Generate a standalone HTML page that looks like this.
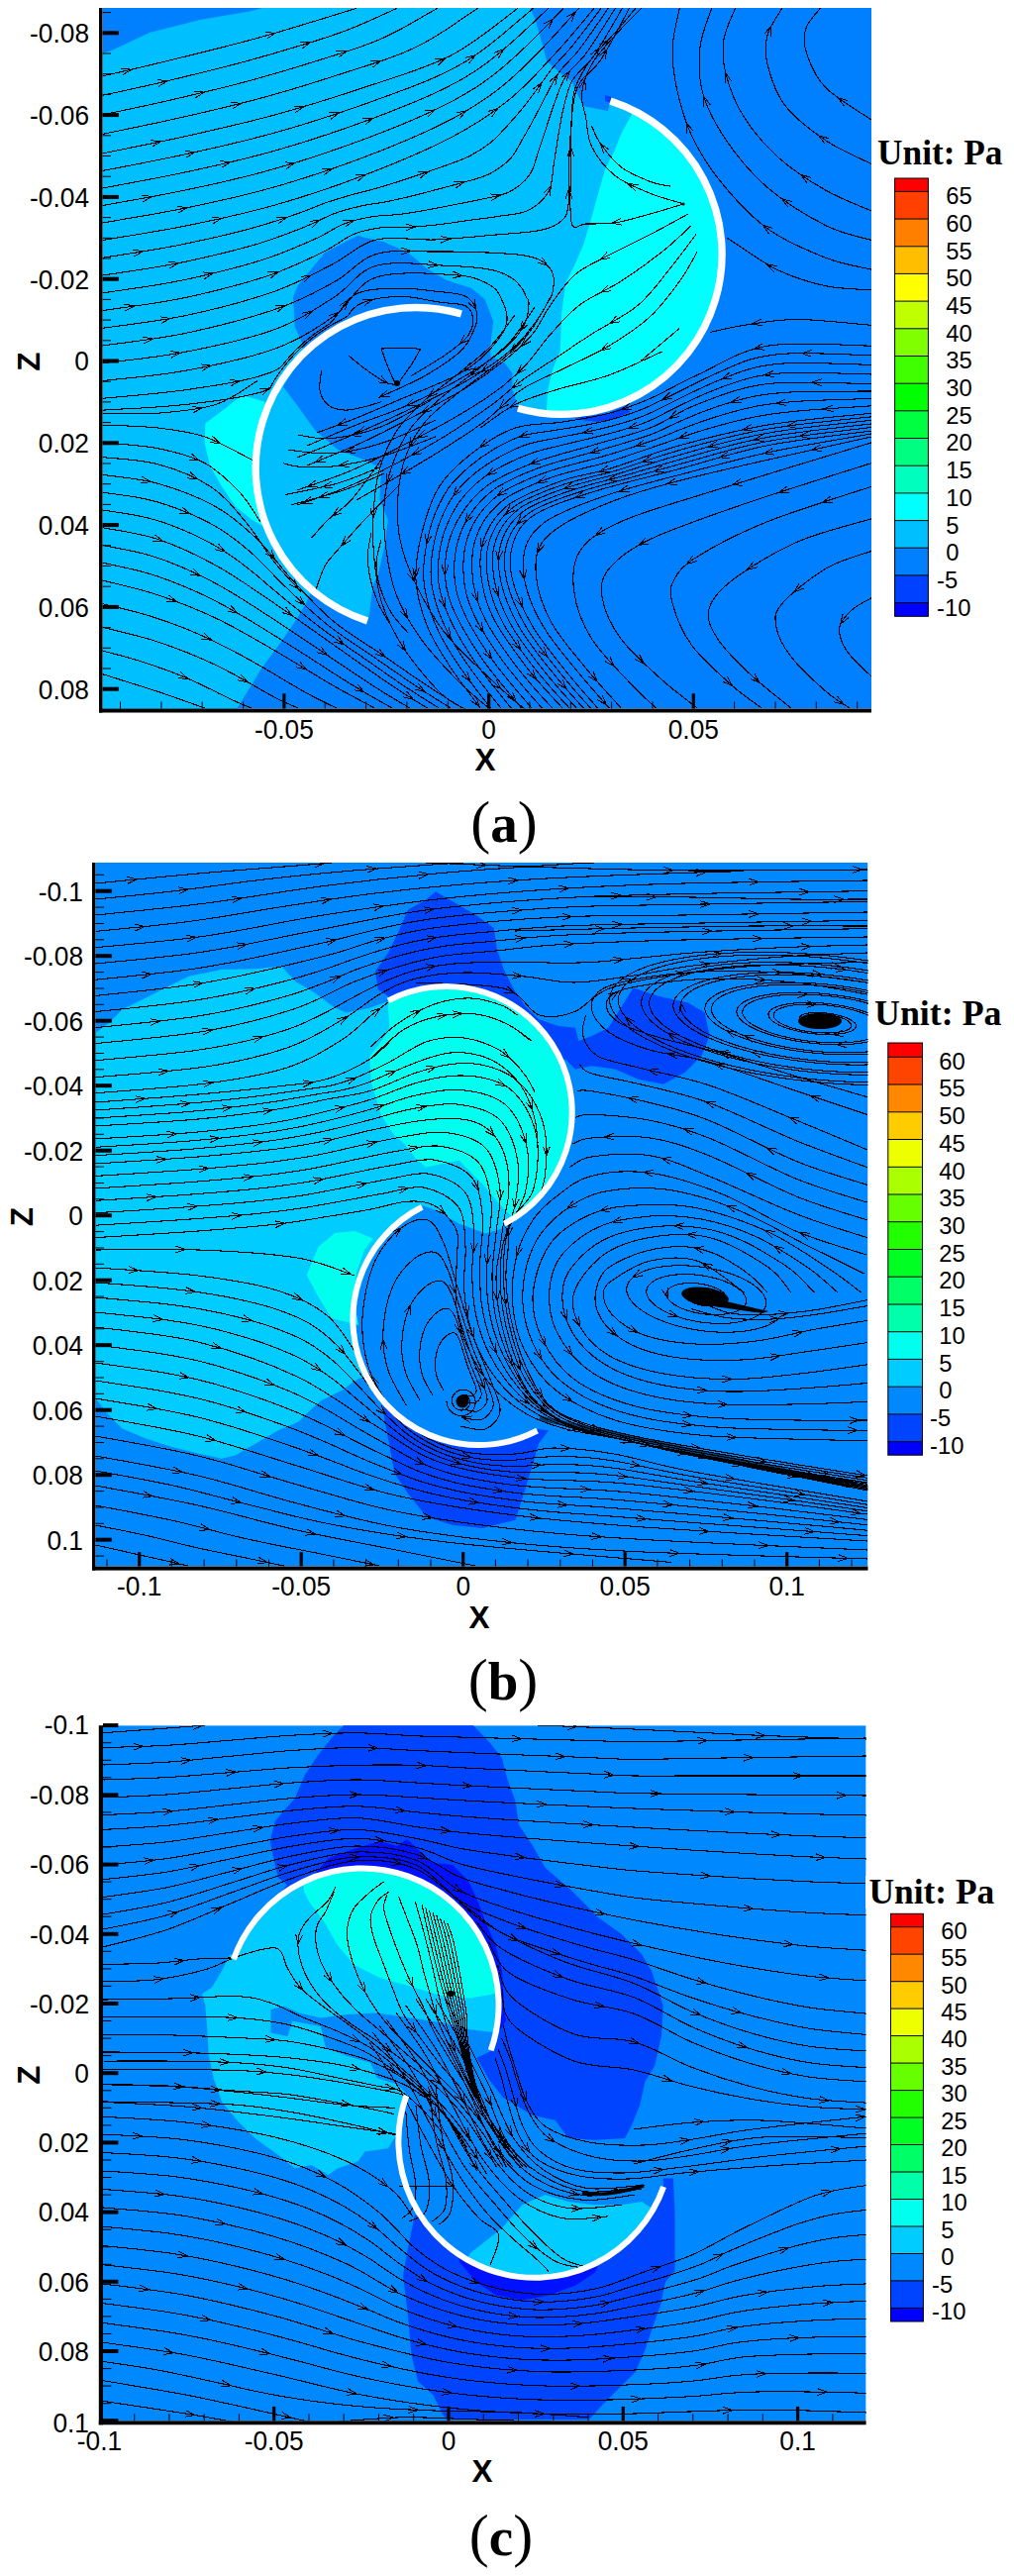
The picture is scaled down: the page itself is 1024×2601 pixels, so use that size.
<!DOCTYPE html>
<html><head><meta charset="utf-8"><title>Pressure contours and streamlines</title>
<style>html,body{margin:0;padding:0;background:#fff}svg{display:block}text{font-family:"Liberation Sans",sans-serif;fill:#000}.s{font-family:"Liberation Serif",serif}.sl{fill:none;stroke:#000;stroke-width:1.1;shape-rendering:crispEdges}.ar{fill:none;stroke:#000;stroke-width:1;shape-rendering:crispEdges}</style></head><body>
<svg width="1024" height="2601" viewBox="0 0 1024 2601">
<rect width="1024" height="2601" fill="#fff"/>
<defs><clipPath id="clip0"><rect x="103.5" y="8" width="776.5" height="707.5"/></clipPath></defs>
<g clip-path="url(#clip0)">
<rect x="103.5" y="8" width="776.5" height="707.5" fill="#0080ff"/>
<path d="M103.5 54 L113.6 50.5 L151.5 32.8 L202 20 L252 11.4 L265 8 L535.6 8 L540.6 20 L547.3 43.6 L552.3 62 L565.8 73.8 L577.5 82.2 L584.2 97.2 L589.2 107.3 L614 112 L616.4 102.1 L632.2 107.8 L647.4 115.2 L661.7 124.1 L675 134.5 L687.2 146.2 L698 159.1 L707.5 173 L715.5 187.9 L721.9 203.5 L726.6 219.6 L729.7 236.2 L731 253 L730.5 269.9 L728.3 286.6 L724.3 303 L718.7 318.9 L711.5 334.1 L702.7 348.5 L692.4 361.9 L680.9 374.2 L668.1 385.2 L654.2 394.8 L639.4 402.9 L623.9 409.4 L607.7 414.3 L591.2 417.5 L574.4 418.9 L557.5 418.6 L540.8 416.5 L524.3 412.7 L523 410 L517.4 393.3 L517.4 376.7 L509.1 365.7 L495.3 360.2 L495.3 349.1 L498.1 324.3 L489.8 302.2 L476 291.1 L451.1 282.9 L431.8 271.8 L412.5 255.2 L387.6 244.2 L361 238 L328 255 L301 288 L296 300 L297.8 330 L304.6 345.3 L308 355 L286 390.6 L301.2 410.7 L318 434.2 L341.4 454.3 L368.3 464.4 L385 472.8 L383.4 504.6 L391.8 524.7 L388.4 551.6 L381.7 580 L376.7 590.9 L373.3 617.7 L371.7 626 L371.1 626.9 L359.4 622.8 L348 617.9 L337 612 L326.5 605.3 L316.6 597.9 L314.6 597.6 L308 611 L297.9 627.8 L282.8 649.6 L264.3 674.7 L239 716 L103.5 716Z" fill="#00bfff"/>
<path d="M637.9 115.7 L627.8 134.1 L621 151 L611 171 L604.3 194.5 L597.5 219.3 L589.2 247 L580.9 266.3 L571.3 285.6 L567.1 316 L565.7 354.7 L558.8 371.2 L553.3 393.3 L552 413 L552.1 418.1 L567.1 419 L582.2 418.5 L597.1 416.5 L611.8 413.2 L626.2 408.6 L640 402.6 L653.2 395.4 L665.7 386.9 L677.4 377.4 L688.1 366.8 L697.8 355.2 L706.4 342.8 L713.8 329.7 L719.9 315.9 L724.7 301.7 L728.2 287 L730.3 272.1 L731 257 L730.3 241.9 L728.2 227 L724.7 212.3 L719.9 198.1 L713.8 184.3 L706.4 171.2 L697.8 158.8 L688.1 147.2 L677.4 136.6 L665.7 127.1 L653.2 118.6 L640 111.4Z" fill="#00ffff"/>
<path d="M267.7 405.7 L244.2 399 L227.4 412.4 L207.3 427.5 L206.6 447.6 L212.3 471 L224 491.2 L237.5 511.3 L254.3 524.7 L266 531.4 L259.5 500 L257 470 L258.5 440Z" fill="#00ffff"/>
<path d="M577 421 L590 424.5 L605 426 L622 423 L636 416 L634 409 L615 417 L595 420Z" fill="#0040ff"/>
<path d="M611 96 L618 98 L618 104 L611 102Z" fill="#0040ff"/>
<path class="sl" d="M103 76.9C112.3 74.8 133 70.3 159.2 63.9C185.3 57.5 226.2 47.7 259.8 38.5C293.3 29.2 343.6 13.3 360.4 8.3M103 96.4C105.2 96 111.8 94.5 116.2 93.6C120.6 92.6 125.1 91.7 129.5 90.7C133.9 89.7 138.3 88.7 142.8 87.8C147.2 86.8 151.6 85.8 156 84.8C160.4 83.7 164.8 82.7 169.2 81.7C173.6 80.6 178 79.6 182.4 78.5C186.8 77.5 191.2 76.4 195.6 75.3C200 74.3 204.4 73.2 208.8 72.1C213.2 71 217.6 69.9 222 68.8C226.4 67.7 230.7 66.5 235.1 65.4C239.5 64.2 243.9 63.1 248.2 61.9C252.6 60.7 257 59.5 261.3 58.3C265.7 57 270 55.8 274.4 54.6C278.7 53.3 283.1 52 287.4 50.7C291.7 49.4 296.1 48.2 300.4 46.8C304.7 45.5 309.1 44.2 313.4 42.9C317.7 41.6 322 40.2 326.4 38.8C330.7 37.4 335 36 339.2 34.5C343.5 33 347.7 31.5 351.9 29.9C356.1 28.2 360.3 26.5 364.4 24.7C368.5 23 372.6 21.2 376.7 19.3C380.7 17.5 384.8 15.6 388.8 13.8C392.9 12 399 9.2 401 8.3M103 116C105.5 115.4 113.1 113.8 118.2 112.8C123.3 111.7 128.4 110.6 133.4 109.6C138.5 108.5 143.6 107.4 148.7 106.3C153.7 105.2 158.8 104.1 163.9 102.9C168.9 101.8 174 100.6 179 99.5C184.1 98.3 189.1 97.1 194.2 95.9C199.2 94.7 204.3 93.5 209.3 92.3C214.4 91.1 219.4 89.9 224.5 88.6C229.5 87.4 234.5 86.1 239.6 84.8C244.6 83.5 249.6 82.1 254.6 80.8C259.6 79.4 264.6 78 269.6 76.6C274.6 75.2 279.6 73.7 284.5 72.3C289.5 70.8 294.5 69.3 299.5 67.8C304.4 66.3 309.4 64.7 314.3 63.2C319.3 61.7 324.2 60.1 329.2 58.6C334.1 57 339.1 55.5 344.1 53.9C349 52.4 353.9 50.8 358.8 49.1C363.7 47.4 368.6 45.7 373.5 43.8C378.3 41.9 383.1 40 387.8 37.8C392.5 35.7 397.1 33.3 401.6 31C406.2 28.6 410.7 26.1 415.1 23.6C419.6 21.1 424 18.5 428.4 15.9C432.9 13.4 439.5 9.6 441.7 8.3M103 135.5C105.8 134.9 114.4 133.1 120.2 132C125.9 130.8 131.6 129.6 137.4 128.4C143.1 127.2 148.8 126 154.5 124.8C160.3 123.6 166 122.4 171.7 121.1C177.4 119.9 183.1 118.6 188.8 117.3C194.6 116 200.3 114.7 206 113.3C211.7 112 217.4 110.7 223.1 109.3C228.8 108 234.4 106.6 240.1 105.2C245.8 103.7 251.5 102.3 257.1 100.8C262.8 99.3 268.4 97.7 274.1 96.1C279.7 94.5 285.3 92.9 290.9 91.3C296.6 89.6 302.2 88 307.8 86.3C313.4 84.5 319 82.8 324.5 81C330.1 79.3 335.7 77.4 341.2 75.7C346.8 73.9 352.4 72.1 358 70.3C363.6 68.5 369.1 66.8 374.7 65C380.3 63.1 385.8 61.3 391.3 59.3C396.8 57.3 402.3 55.3 407.7 53.1C413.1 50.8 418.5 48.4 423.7 45.8C428.9 43.2 433.9 40.2 438.9 37.2C443.9 34.2 448.8 31 453.6 27.9C458.5 24.7 463.2 21.3 468 18.1C472.8 14.8 480 9.9 482.4 8.3M103 155C117.3 152.1 159.7 143.8 188.8 137.3C217.9 130.8 247.9 124.1 277.5 116C307.1 107.9 336.7 98.7 366.3 88.8C395.9 78.8 428.9 69.6 455 56.2C481.2 42.8 511.7 16.3 523.1 8.3M103 172.5C106.3 171.9 116.4 170 123.1 168.7C129.9 167.4 136.6 166.1 143.3 164.8C150.1 163.4 156.8 162.1 163.5 160.7C170.2 159.4 176.9 158 183.6 156.5C190.3 155.1 197 153.6 203.7 152.1C210.4 150.6 217.1 149.1 223.7 147.6C230.4 146 237.1 144.4 243.7 142.8C250.4 141.2 257 139.5 263.7 137.7C270.3 136 276.9 134.2 283.5 132.3C290.1 130.4 296.7 128.5 303.2 126.5C309.8 124.5 316.3 122.5 322.8 120.4C329.4 118.3 335.9 116.2 342.4 114C348.9 111.8 355.3 109.6 361.8 107.4C368.3 105.1 374.7 102.8 381.2 100.4C387.6 98.1 394 95.8 400.4 93.4C406.9 91.1 413.3 88.7 419.6 86.2C426 83.7 432.3 81.1 438.5 78.4C444.7 75.6 450.9 72.7 456.9 69.6C462.9 66.4 468.9 63.1 474.6 59.4C480.3 55.7 485.8 51.7 491.3 47.6C496.7 43.5 502 39.2 507.3 34.9C512.6 30.5 517.7 26 522.9 21.6C528.1 17.2 535.9 10.5 538.5 8.3M103 190.1C106.5 189.4 117.1 187.5 124.2 186.2C131.2 184.8 138.3 183.6 145.4 182.2C152.4 180.9 159.5 179.6 166.5 178.1C173.6 176.7 180.6 175.3 187.7 173.8C194.7 172.3 201.7 170.8 208.7 169.2C215.8 167.6 222.8 166.1 229.8 164.4C236.8 162.7 243.7 161.1 250.7 159.3C257.7 157.5 264.6 155.7 271.6 153.8C278.5 151.9 285.4 149.9 292.3 147.8C299.2 145.8 306 143.7 312.9 141.5C319.7 139.3 326.6 137.1 333.4 134.8C340.2 132.5 347 130.2 353.7 127.8C360.5 125.4 367.3 122.9 374 120.4C380.7 117.9 387.5 115.4 394.1 112.8C400.8 110.2 407.5 107.5 414.1 104.8C420.8 102.1 427.4 99.3 433.9 96.4C440.4 93.4 446.8 90.4 453.2 87.1C459.5 83.9 465.8 80.5 471.9 76.8C477.9 73.1 483.9 69.2 489.6 65C495.4 60.8 500.9 56.2 506.4 51.7C511.8 47.1 517.2 42.4 522.5 37.6C527.9 32.8 533 27.9 538.3 23C543.5 18.1 551.2 10.7 553.8 8.3M103 207.6C106.7 206.9 117.8 205 125.2 203.6C132.6 202.3 140 201 147.4 199.7C154.8 198.3 162.2 197 169.6 195.5C177 194.1 184.3 192.6 191.7 191C199.1 189.5 206.4 187.9 213.8 186.3C221.1 184.6 228.5 183 235.8 181.2C243.1 179.5 250.4 177.7 257.7 175.8C265 173.9 272.2 171.9 279.4 169.8C286.7 167.7 293.9 165.6 301.1 163.4C308.3 161.2 315.4 158.9 322.6 156.5C329.7 154.1 336.8 151.7 343.9 149.2C351 146.7 358.1 144.1 365.1 141.5C372.2 138.9 379.2 136.2 386.2 133.5C393.2 130.8 400.2 128 407.1 125.1C414.1 122.2 421 119.3 427.8 116.2C434.7 113.1 441.5 110 448.1 106.6C454.8 103.2 461.4 99.7 467.9 95.9C474.3 92.2 480.7 88.3 486.8 84.1C493 79.8 498.9 75.3 504.7 70.6C510.4 65.9 515.9 60.8 521.5 55.8C527 50.7 532.4 45.6 537.8 40.3C543.1 35.1 548.3 29.7 553.6 24.4C558.8 19 566.6 11 569.2 8.3M103 225.1C106.8 224.4 118.5 222.5 126.2 221.1C134 219.8 141.7 218.5 149.4 217.2C157.2 215.8 164.9 214.4 172.6 212.9C180.4 211.5 188.1 209.9 195.8 208.3C203.5 206.7 211.1 205.1 218.8 203.3C226.5 201.6 234.2 199.9 241.8 198.1C249.4 196.2 257.1 194.3 264.6 192.3C272.2 190.2 279.8 188.1 287.3 185.9C294.9 183.6 302.4 181.3 309.9 178.9C317.4 176.5 324.8 174.1 332.2 171.5C339.7 169 347.1 166.3 354.5 163.6C361.8 160.9 369.2 158.1 376.5 155.3C383.8 152.4 391.1 149.6 398.4 146.6C405.7 143.6 412.9 140.6 420.1 137.4C427.3 134.2 434.5 131 441.5 127.6C448.6 124.1 455.6 120.6 462.4 116.8C469.2 113 476 109 482.5 104.7C489.1 100.5 495.6 96 501.8 91.3C508 86.5 513.9 81.5 519.7 76.2C525.5 71 531 65.4 536.6 59.9C542.1 54.4 547.6 48.8 553 43.1C558.4 37.4 563.7 31.6 568.9 25.8C574.2 20 582 11.2 584.6 8.3M103 242.6C117.3 240.1 159.7 233.7 188.8 227.8C217.9 221.9 247.9 215.5 277.5 207.1C307.1 198.7 336.7 188.9 366.3 177.5C395.9 166.2 430.4 151.9 455 139.1C479.7 126.2 496.4 114.9 514.2 100.6C532 86.3 547.2 68.6 561.5 53.3C575.8 37.9 593.6 15.8 600 8.3M103 260.4C107.2 259.7 120 257.7 128.6 256.4C137.1 255 145.6 253.7 154.1 252.3C162.7 250.8 171.2 249.3 179.6 247.7C188.1 246 196.6 244.2 205 242.3C213.4 240.5 221.9 238.6 230.2 236.6C238.6 234.5 247 232.5 255.3 230.1C263.6 227.8 271.9 225.3 280.1 222.6C288.2 220 296.4 217.2 304.5 214.3C312.5 211.3 320.3 207.8 328.5 204.9C336.6 202.1 344.9 199.6 353.1 197.3C361.3 194.9 369.6 193.1 377.8 190.8C386 188.5 394.2 186 402.3 183.4C410.5 180.8 418.6 178 426.7 175.3C434.8 172.5 442.9 169.8 450.9 166.8C459 163.8 467.3 161.2 474.8 157.3C482.3 153.4 489.7 148.7 496 143.5C502.4 138.4 507.3 132.4 512.7 126.5C518.1 120.6 523.4 114.6 528.5 108.3C533.6 102 538.4 95.4 543.3 88.7C548.3 82.1 552.8 75 558.2 68.4C563.6 61.8 570 55.8 575.6 49.2C581.2 42.6 586.3 35.7 591.6 28.9C596.8 22.1 604.5 11.7 607.1 8.3M103 278.1C107.4 277.4 120.9 275.5 129.9 274.1C138.9 272.7 147.9 271.4 156.8 269.9C165.8 268.4 174.7 266.7 183.6 265C192.5 263.2 201.4 261.2 210.2 259.1C219 257.1 227.9 255 236.6 252.7C245.4 250.4 254.2 248.1 262.8 245.4C271.5 242.7 280 239.7 288.5 236.5C297 233.4 305.4 230.1 313.7 226.6C322 223.1 329.8 218.5 338.2 215.4C346.7 212.3 355.6 210 364.3 208.1C373 206.1 381.8 205.3 390.6 203.6C399.3 201.9 408.1 199.8 416.8 197.7C425.5 195.6 434.2 193.2 442.9 190.9C451.5 188.6 460.2 186.5 468.8 184C477.4 181.4 486.6 179.6 494.4 175.6C502.1 171.6 509.8 166.1 515.4 160.1C521 154.1 524.1 146.5 528.3 139.5C532.4 132.5 536.3 125.4 540.2 118.1C544.2 110.7 547.8 103.1 551.9 95.6C556 88 559.6 79.9 564.8 72.8C569.9 65.6 577.2 59.6 582.9 52.6C588.6 45.6 593.7 38 598.9 30.6C604.1 23.3 611.7 12 614.2 8.3M103 295.9C107.7 295.2 121.8 293.2 131.2 291.8C140.6 290.4 150.1 289.1 159.5 287.5C168.9 285.9 178.2 284.2 187.5 282.3C196.9 280.3 206.1 278.2 215.4 275.9C224.6 273.7 233.9 271.4 243 268.8C252.2 266.3 261.4 263.7 270.4 260.6C279.4 257.6 288.2 254 296.9 250.4C305.7 246.8 314.4 243.1 322.9 239C331.5 234.9 339.3 229.2 348 225.8C356.8 222.5 366.2 220.4 375.5 218.8C384.7 217.3 394.1 217.5 403.4 216.4C412.7 215.3 422 213.7 431.2 212C440.5 210.4 449.8 208.4 459 206.6C468.2 204.8 477.5 203.2 486.6 201.1C495.8 199 505.9 198 514 193.9C522 189.9 529.8 183.5 534.8 176.6C539.7 169.7 540.9 160.7 543.8 152.5C546.6 144.4 549.2 136.2 552 127.8C554.8 119.5 557.2 110.9 560.5 102.5C563.7 94 566.3 84.9 571.3 77.2C576.3 69.4 584.5 63.4 590.3 55.9C596.1 48.5 601 40.3 606.2 32.4C611.4 24.4 618.8 12.3 621.3 8.3M103 313.6C107.9 312.9 122.7 310.9 132.6 309.5C142.4 308.1 152.3 306.8 162.1 305.1C171.9 303.5 181.8 301.6 191.5 299.6C201.2 297.5 210.9 295.2 220.6 292.7C230.2 290.3 239.9 287.8 249.4 285C259 282.2 268.6 279.3 277.9 275.9C287.2 272.5 296.3 268.4 305.4 264.3C314.4 260.2 323.4 256 332.2 251.3C340.9 246.6 348.7 239.9 357.8 236.2C366.9 232.6 376.9 230.8 386.6 229.6C396.4 228.4 406.3 229.7 416.2 229.2C426 228.7 435.9 227.5 445.7 226.4C455.5 225.2 465.3 223.6 475.1 222.2C484.9 220.9 494.8 219.9 504.5 218.2C514.2 216.6 525.3 216.5 533.6 212.3C541.8 208.1 549.8 201 554.1 193.2C558.4 185.4 557.7 174.8 559.3 165.5C560.9 156.3 562.1 147 563.7 137.6C565.4 128.2 566.7 118.7 569 109.3C571.4 100 573.1 89.9 577.8 81.6C582.6 73.2 591.7 67.2 597.6 59.3C603.6 51.4 608.4 42.6 613.5 34.1C618.7 25.6 625.9 12.6 628.4 8.3M103 331.4C117.3 329.2 159.7 324.6 188.8 318.3C217.9 312.1 252.9 302.8 277.5 294.1C302.2 285.4 319.6 275 336.7 266.3C353.7 257.6 362.8 246.1 379.9 242C396.9 238 419.4 242.8 439.1 242C458.7 241.2 479.9 238.9 497.6 237.3C515.4 235.7 534 234.9 545.6 232.5C557.1 230.2 562.1 227.4 566.9 223.1C571.6 218.7 572.6 217.9 574 206.5C575.3 195.1 574.4 171 575.1 154.4C575.9 137.9 576.9 118.9 578.7 107.1C580.5 95.3 581.1 91.3 585.8 83.4C590.5 75.5 598.8 72.3 607.1 59.8C615.4 47.2 630.8 16.9 635.5 8.3M103 349.1C103.5 349 105.1 348.8 106.4 348.6C107.7 348.4 109.2 348.2 110.7 348C112.2 347.8 113.9 347.6 115.6 347.4C117.4 347.1 119.2 346.9 121.1 346.7C123.1 346.4 125.1 346.1 127.1 345.9C129.2 345.6 131.4 345.3 133.6 345C135.8 344.7 138 344.4 140.3 344.1C142.6 343.8 144.9 343.4 147.3 343.1C149.6 342.8 152 342.4 154.4 342.1C156.8 341.7 159.2 341.3 161.5 341C163.9 340.6 166.3 340.2 168.6 339.8C171 339.4 173.3 339 175.6 338.6C177.9 338.2 180.1 337.8 182.3 337.4C184.5 337 186.7 336.5 188.8 336.1C190.8 335.7 192.7 335.3 194.7 334.8C196.6 334.4 198.6 334 200.7 333.5C202.7 333 204.7 332.6 206.8 332.1C208.8 331.6 210.9 331.1 213 330.6C215.1 330.1 217.1 329.6 219.2 329.1C221.3 328.6 223.4 328.1 225.5 327.6C227.5 327 229.6 326.5 231.7 326C233.8 325.4 235.8 324.9 237.9 324.3C239.9 323.8 242 323.2 244 322.7C246 322.1 248 321.5 250 321C252 320.4 254 319.8 255.9 319.3C257.8 318.7 259.7 318.1 261.6 317.6C263.5 317 265.3 316.4 267.1 315.8C268.9 315.3 270.7 314.7 272.5 314.1C274.2 313.6 275.5 313.1 277.5 312.4C279.6 311.7 282.4 310.7 284.7 309.9C287 309 289.3 308.1 291.5 307.2C293.7 306.4 295.8 305.5 297.9 304.6C300 303.7 302.1 302.8 304.1 301.9C306.1 301 308 300 309.9 299.1C311.9 298.2 313.7 297.3 315.6 296.4C317.4 295.4 319.2 294.5 321 293.6C322.8 292.7 324.6 291.7 326.3 290.8C328.1 289.9 329.8 288.9 331.5 288C333.3 287.1 334.8 286.3 336.7 285.2C338.6 284.1 340.8 282.8 342.8 281.5C344.7 280.2 346.5 278.9 348.3 277.5C350 276.2 351.7 274.8 353.4 273.4C355.1 272 356.7 270.6 358.4 269.3C360 268 361.6 266.7 363.3 265.4C365 264.2 366.7 263 368.4 261.9C370.2 260.8 372 259.7 373.9 258.8C375.9 257.9 378 257.1 380 256.5C382 255.9 383.9 255.4 385.9 255.1C387.9 254.7 389.9 254.4 392.1 254.1C394.2 253.9 396.3 253.7 398.5 253.6C400.7 253.5 402.9 253.4 405.1 253.4C407.4 253.4 409.6 253.4 411.9 253.4C414.2 253.4 416.5 253.5 418.7 253.6C421 253.6 423.3 253.7 425.6 253.8C427.8 253.9 430.1 253.9 432.3 254C434.6 254 436.8 254 439 254C441.2 254 443.4 254 445.7 254C448 254 450.3 254 452.6 254C454.9 254 457.3 254 459.6 254.1C462 254.1 464.3 254.1 466.6 254.2C469 254.2 471.3 254.3 473.6 254.4C475.8 254.4 478.1 254.5 480.3 254.6C482.5 254.6 484.6 254.7 486.7 254.8C488.8 254.9 490.8 255 492.8 255C494.7 255.1 495.9 255.2 498.3 255.3C500.7 255.4 504.4 255.6 507.2 255.8C510 256 512.6 256.2 515.1 256.4C517.6 256.6 519.9 256.8 522.1 257C524.3 257.3 526.3 257.5 528.3 257.8C530.2 258.1 531.7 258.3 533.8 258.8C535.9 259.3 539 260 541 260.8C543.1 261.5 544.6 262.2 546.2 263.1C547.7 264 548.8 264.6 550.4 266C552 267.4 554.2 269.3 555.6 271.3C557 273.2 558.1 275.3 558.7 277.8C559.3 280.3 559.3 283.6 559.2 286.5C559 289.4 558.4 292.8 558 295C557.6 297.2 557.3 298 556.5 299.7C555.7 301.4 554.3 303.4 553.3 305C552.3 306.6 551.7 307.9 550.8 309.5C549.8 311.2 548.8 313 547.7 314.9C546.5 316.8 545.3 318.8 543.9 320.8C542.6 322.8 540.8 325.3 539.5 327C538.2 328.7 537.3 329.8 536.2 331.2C535.1 332.7 533.9 334.2 532.7 335.7C531.5 337.2 530.3 338.7 528.9 340.3C527.6 341.8 526.2 343.4 524.7 345C523.2 346.6 521.7 348.2 520 349.8C518.3 351.4 516.3 353.2 514.6 354.6C512.9 356 511.7 357 510.1 358.3C508.5 359.5 506.9 360.8 505.2 362.1C503.5 363.3 501.8 364.6 500 365.9C498.2 367.2 496.3 368.5 494.5 369.8C492.6 371.1 490.7 372.4 488.7 373.7C486.8 375 484.8 376.3 482.8 377.5C480.8 378.8 478.7 380.1 476.7 381.3C474.6 382.6 472.4 383.9 470.5 385C468.6 386.1 467.1 386.9 465.4 387.9C463.7 388.8 461.9 389.8 460.1 390.7C458.3 391.7 456.5 392.6 454.7 393.6C452.8 394.5 451 395.4 449.1 396.4C447.2 397.3 445.3 398.2 443.4 399.1C441.5 400.1 439.6 401 437.7 401.9C435.8 402.8 433.9 403.7 432 404.6C430.1 405.5 428.1 406.4 426.3 407.3C424.4 408.2 422.5 409.1 420.6 410C418.7 410.8 416.8 411.7 415 412.6C413.2 413.5 411.3 414.3 409.5 415.2C407.7 416.1 405.9 416.9 404 417.8C402.2 418.6 400.4 419.4 398.6 420.3C396.8 421.1 395 421.9 393.2 422.8C391.4 423.6 389.6 424.4 387.8 425.2C386 426.1 384.2 426.9 382.3 427.7C380.5 428.5 378.7 429.3 376.9 430.1C375 431 373.2 431.8 371.3 432.6C369.5 433.4 367.6 434.2 365.7 435C363.8 435.9 362 436.7 360 437.5C358 438.3 356 439.2 353.9 440.1C351.8 441 349.6 441.9 347.4 442.8C345.1 443.7 342.8 444.7 340.5 445.7C338.2 446.6 335.8 447.6 333.5 448.5C331.2 449.4 328.8 450.4 326.6 451.3C324.3 452.2 322.1 453.1 319.9 454C317.8 454.8 315.7 455.7 313.7 456.5C311.8 457.2 309.9 458 308.2 458.7C306.5 459.4 305 460 303.6 460.5C302.2 461.1 300.6 461.8 300 462M103 366.9C103.5 366.8 105.1 366.6 106.4 366.4C107.7 366.2 109.2 366.1 110.7 365.9C112.2 365.7 113.9 365.5 115.6 365.3C117.4 365.1 119.2 364.9 121.1 364.7C123.1 364.4 125.1 364.2 127.1 363.9C129.2 363.7 131.4 363.4 133.6 363.2C135.8 362.9 138 362.6 140.3 362.4C142.6 362.1 144.9 361.8 147.3 361.5C149.6 361.2 152 360.8 154.4 360.5C156.8 360.2 159.2 359.9 161.5 359.5C163.9 359.2 166.3 358.8 168.6 358.5C171 358.1 173.3 357.8 175.6 357.4C177.9 357 180.1 356.6 182.3 356.2C184.5 355.8 186.7 355.4 188.8 355C190.8 354.6 192.7 354.3 194.7 353.9C196.6 353.5 198.6 353.1 200.7 352.6C202.7 352.2 204.7 351.8 206.8 351.4C208.8 350.9 210.9 350.5 213 350C215.1 349.6 217.1 349.1 219.2 348.7C221.3 348.2 223.4 347.7 225.5 347.3C227.5 346.8 229.6 346.3 231.7 345.8C233.8 345.3 235.8 344.8 237.9 344.3C239.9 343.8 242 343.3 244 342.7C246 342.2 248 341.7 250 341.1C252 340.6 254 340 255.9 339.5C257.8 338.9 259.7 338.4 261.6 337.8C263.5 337.3 265.3 336.7 267.1 336.1C268.9 335.5 270.7 334.9 272.5 334.3C274.2 333.7 275.6 333.3 277.5 332.5C279.5 331.8 281.9 330.9 284.1 330C286.2 329.1 288.3 328.2 290.3 327.3C292.3 326.4 294.3 325.5 296.2 324.5C298.1 323.6 300 322.6 301.9 321.6C303.7 320.7 305.5 319.7 307.3 318.7C309.1 317.7 310.8 316.7 312.5 315.7C314.2 314.7 315.9 313.6 317.6 312.6C319.2 311.6 320.9 310.6 322.5 309.6C324.1 308.6 325.7 307.6 327.3 306.5C328.9 305.5 330.4 304.5 332 303.5C333.6 302.6 335 301.7 336.7 300.6C338.4 299.5 340.3 298.1 342 296.8C343.7 295.5 345.3 294.2 346.8 292.8C348.4 291.5 349.8 290 351.3 288.7C352.7 287.3 354.1 285.9 355.5 284.5C356.9 283.1 358.3 281.8 359.7 280.5C361.2 279.2 362.6 277.9 364.1 276.7C365.6 275.5 367.2 274.3 368.8 273.3C370.5 272.3 372.2 271.3 374.1 270.5C375.9 269.6 378.1 268.9 380 268.3C381.9 267.7 383.6 267.4 385.5 267.1C387.4 266.7 389.5 266.5 391.5 266.3C393.6 266.1 395.8 265.9 398 265.8C400.2 265.8 402.5 265.7 404.8 265.7C407.1 265.7 409.4 265.8 411.7 265.9C414.1 265.9 416.4 266 418.8 266.2C421.1 266.3 423.5 266.4 425.8 266.6C428.1 266.7 430.4 266.9 432.6 267.1C434.8 267.3 437 267.4 439.2 267.6C441.3 267.7 443.4 267.9 445.3 268C447.3 268.1 448.7 268.2 451 268.3C453.3 268.4 456.6 268.5 459.2 268.7C461.9 268.8 464.4 268.9 466.9 269.1C469.4 269.2 471.8 269.4 474.2 269.6C476.5 269.8 478.8 270 480.9 270.2C483.1 270.5 485.2 270.7 487.2 271C489.2 271.3 491.1 271.6 493 271.9C494.8 272.2 496.1 272.4 498.3 273C500.5 273.6 503.8 274.5 506.2 275.4C508.6 276.3 510.6 277.3 512.5 278.3C514.4 279.3 516 280.4 517.6 281.5C519.2 282.6 520.3 283 522 284.9C523.7 286.8 526.5 290.2 528.1 292.7C529.7 295.2 530.6 298.2 531.5 300C532.4 301.8 533.3 302.1 533.7 303.4C534.1 304.7 534.1 306 534 307.7C533.9 309.4 533.7 311.6 533.4 313.9C533 316.2 532.7 319 531.9 321.7C531 324.3 529.6 327.7 528.5 329.8C527.4 331.9 526.6 332.9 525.5 334.5C524.3 336.1 523.1 337.8 521.8 339.4C520.4 341 519 342.7 517.4 344.3C515.8 346 514.2 347.7 512.3 349.4C510.5 351.1 508.1 353.2 506.4 354.6C504.7 356 503.7 356.8 502.2 357.9C500.8 359 499.3 360.2 497.7 361.3C496.2 362.5 494.6 363.6 492.9 364.8C491.2 365.9 489.5 367.1 487.8 368.3C486 369.4 484.2 370.6 482.4 371.8C480.6 373 478.7 374.1 476.8 375.3C474.9 376.5 472.9 377.7 471 378.8C469 380 466.8 381.3 465 382.3C463.2 383.3 461.7 384.2 460 385.1C458.3 386.1 456.5 387 454.7 388C452.9 388.9 451.1 389.9 449.3 390.9C447.4 391.9 445.5 392.8 443.6 393.8C441.7 394.8 439.8 395.7 437.9 396.7C435.9 397.7 434 398.6 432.1 399.5C430.2 400.5 428.2 401.4 426.3 402.3C424.4 403.2 422.5 404.1 420.6 405C418.7 405.9 416.9 406.8 415.1 407.6C413.2 408.4 411.7 409.1 409.7 410C407.7 410.9 405.4 411.9 403.2 412.8C401.1 413.7 399 414.5 396.9 415.3C394.8 416.1 392.7 416.9 390.7 417.7C388.6 418.4 386.6 419.2 384.5 419.9C382.5 420.7 380.4 421.4 378.4 422.1C376.4 422.8 374.4 423.6 372.3 424.3C370.3 425.1 368.2 425.8 366.2 426.6C364.1 427.4 362 428.2 360 429C358 429.8 356.2 430.5 354.2 431.4C352.2 432.2 350.1 433.1 347.9 433.9C345.8 434.8 343.7 435.7 341.5 436.6C339.4 437.5 337.2 438.5 335.1 439.3C332.9 440.2 330.8 441.1 328.8 442C326.8 442.9 324.8 443.7 323 444.5C321.1 445.3 319.4 446 317.8 446.7C316.2 447.4 314.7 448 313.4 448.6C312.1 449.1 310.6 449.8 310 450M103 384.6C103.5 384.5 105.1 384.4 106.4 384.2C107.7 384.1 109.2 383.9 110.7 383.8C112.2 383.6 113.9 383.4 115.6 383.2C117.4 383.1 119.2 382.9 121.1 382.7C123.1 382.5 125.1 382.3 127.1 382.1C129.2 381.8 131.4 381.6 133.6 381.4C135.8 381.2 138 380.9 140.3 380.7C142.6 380.4 144.9 380.1 147.3 379.9C149.6 379.6 152 379.3 154.4 379C156.8 378.7 159.2 378.4 161.5 378.1C163.9 377.8 166.3 377.5 168.6 377.2C171 376.9 173.3 376.5 175.6 376.2C177.9 375.8 180.1 375.5 182.3 375.1C184.5 374.7 186.7 374.3 188.8 374C190.8 373.6 192.7 373.2 194.7 372.9C196.6 372.5 198.6 372.1 200.7 371.7C202.7 371.3 204.7 370.9 206.8 370.5C208.8 370.1 210.9 369.6 213 369.2C215.1 368.8 217.1 368.3 219.2 367.9C221.3 367.4 223.4 367 225.5 366.5C227.5 366.1 229.6 365.6 231.7 365.1C233.8 364.6 235.8 364.1 237.9 363.6C239.9 363.2 242 362.6 244 362.1C246 361.6 248 361.1 250 360.6C252 360 254 359.5 255.9 359C257.8 358.4 259.7 357.9 261.6 357.3C263.5 356.8 265.3 356.2 267.1 355.6C268.9 355 270.7 354.5 272.5 353.9C274.2 353.3 275.6 352.8 277.5 352.1C279.5 351.4 281.9 350.4 284.1 349.5C286.2 348.7 288.3 347.8 290.3 346.9C292.3 346 294.3 345.1 296.2 344.2C298.1 343.2 300 342.3 301.9 341.3C303.7 340.4 305.5 339.4 307.3 338.4C309.1 337.4 310.8 336.4 312.5 335.4C314.2 334.4 315.9 333.4 317.6 332.3C319.2 331.3 320.9 330.2 322.5 329.2C324.1 328.1 325.7 327.1 327.3 326C328.9 324.9 330.4 323.9 332 322.8C333.6 321.7 335 320.8 336.7 319.5C338.3 318.3 340.3 316.7 342 315.2C343.7 313.7 345.2 312.1 346.7 310.5C348.2 308.9 349.5 307.2 350.9 305.5C352.3 303.8 353.6 302.1 355 300.4C356.3 298.7 357.7 297 359.1 295.4C360.5 293.8 361.9 292.2 363.4 290.7C364.9 289.2 366.5 287.7 368.2 286.4C369.9 285.1 371.7 283.9 373.6 282.8C375.6 281.7 378.1 280.7 380 280C381.9 279.3 383.3 279 385.1 278.6C386.9 278.2 388.8 277.8 390.8 277.5C392.8 277.2 394.9 276.9 397 276.7C399.1 276.5 401.3 276.3 403.6 276.2C405.8 276.1 408.1 276 410.4 275.9C412.7 275.8 415.1 275.8 417.4 275.8C419.7 275.8 422.1 275.9 424.4 275.9C426.7 275.9 429 276 431.3 276.1C433.6 276.2 435.8 276.3 438 276.4C440.2 276.5 442.3 276.6 444.4 276.8C446.5 276.9 448.5 277 450.4 277.1C452.2 277.2 454.1 277.4 455.8 277.5C457.5 277.6 458 277.6 460.5 277.8C463 278 467.5 278.4 470.5 278.9C473.4 279.3 475.9 279.9 478.2 280.6C480.5 281.2 482.3 281.9 484.2 282.6C486 283.4 487.5 284.2 489.1 284.9C490.7 285.7 491.6 285.9 493.6 287.2C495.6 288.5 499.2 290.5 501.2 292.7C503.1 294.8 504.3 297.9 505.4 300C506.5 302.1 507.1 303.4 507.9 305.3C508.7 307.2 509.6 309.3 510.3 311.4C510.9 313.5 511.6 315.8 511.8 317.9C512.1 320.1 512.2 322.2 511.9 324.3C511.6 326.4 511.1 328.4 510.3 330.4C509.6 332.4 508.6 334.4 507.4 336.4C506.3 338.5 504.9 340.5 503.3 342.6C501.7 344.7 499.5 347.3 498 349C496.5 350.7 495.8 351.5 494.6 352.8C493.4 354.1 492.2 355.4 490.9 356.7C489.6 358 488.3 359.3 486.9 360.6C485.5 362 484 363.3 482.4 364.6C480.8 366 479.1 367.3 477.3 368.7C475.5 370 473.6 371.3 471.6 372.7C469.5 374 466.9 375.6 465 376.7C463.1 377.8 461.9 378.4 460.2 379.3C458.5 380.2 456.7 381.1 454.8 382C452.9 382.9 450.9 383.8 448.9 384.7C446.9 385.6 444.8 386.5 442.7 387.4C440.6 388.3 438.4 389.3 436.2 390.2C434 391.1 431.8 392 429.7 392.9C427.5 393.8 425.3 394.6 423.1 395.5C421 396.4 418.9 397.2 416.8 398.1C414.7 398.9 412.7 399.7 410.7 400.5C408.8 401.3 406.9 402.1 405.1 402.8C403.3 403.6 402 404.1 400 405C398 405.9 395.2 407.1 393 408C390.8 409 388.7 409.9 386.7 410.7C384.8 411.6 382.9 412.4 381.1 413.2C379.3 414 377.6 414.7 375.8 415.4C374.1 416.2 372.4 416.9 370.7 417.6C369 418.3 367.3 419 365.5 419.8C363.7 420.5 361.9 421.2 360 422C358.1 422.8 356 423.6 353.9 424.4C351.8 425.2 349.6 426 347.4 426.9C345.2 427.7 342.9 428.5 340.8 429.4C338.6 430.2 336.4 431 334.3 431.7C332.3 432.5 330.3 433.2 328.5 433.9C326.7 434.5 325 435.1 323.6 435.7C322.2 436.2 320.6 436.8 320 437M103 402.4C103.5 402.3 105.2 402.1 106.5 402C107.8 401.9 109.2 401.8 110.8 401.6C112.4 401.5 114 401.3 115.8 401.2C117.6 401 119.5 400.8 121.5 400.7C123.4 400.5 125.5 400.3 127.6 400.1C129.8 399.9 132 399.7 134.2 399.5C136.4 399.3 138.7 399.1 141.1 398.9C143.4 398.6 145.7 398.4 148.1 398.2C150.5 397.9 152.9 397.7 155.3 397.5C157.6 397.2 160 397 162.4 396.7C164.7 396.5 167.1 396.2 169.4 395.9C171.7 395.7 174 395.4 176.2 395.1C178.4 394.9 180.6 394.6 182.7 394.3C184.8 394.1 186.7 393.8 188.8 393.5C190.8 393.2 192.9 392.9 195.1 392.6C197.2 392.3 199.3 391.9 201.4 391.6C203.6 391.3 205.7 391 207.8 390.7C210 390.3 212.1 390 214.2 389.7C216.4 389.3 218.5 389 220.6 388.6C222.7 388.3 224.8 387.9 226.9 387.6C229 387.2 231 386.8 233.1 386.5C235.1 386.1 237.1 385.7 239.1 385.3C241.1 384.9 243 384.5 244.9 384.1C246.8 383.7 248.7 383.3 250.5 382.8C252.4 382.4 254.2 382 255.9 381.5C257.6 381.1 259.3 380.6 261 380.1C262.6 379.7 263.6 379.4 265.7 378.7C267.8 378 271.1 376.8 273.6 375.9C276 374.9 278.5 374 280.4 372.8C282.4 371.7 283.9 370.2 285.4 368.7C286.8 367.2 287.9 365.5 289.2 363.9C290.6 362.3 291.9 360.8 293.3 359.2C294.7 357.7 296.1 356.1 297.6 354.6C299.1 353.1 300.7 351.5 302.3 350C303.9 348.5 305.6 346.9 307.3 345.4C309 343.9 310.7 342.5 312.4 341.1C314.2 339.7 315.9 338.3 317.7 337C319.4 335.7 321.2 334.4 322.9 333.3C324.6 332.1 326.3 331 328 329.9C329.6 328.8 331.4 328.1 332.9 326.9C334.3 325.6 335.3 324.2 336.7 322.5C338.1 320.8 340 318.5 341.5 316.6C342.9 314.6 344.2 312.6 345.6 310.7C347 308.8 348.2 306.9 349.7 305.2C351.1 303.5 352.6 301.8 354.3 300.4C356 299 358.1 297.7 360 296.7C361.9 295.7 363.8 295.1 365.9 294.5C368 293.9 370.3 293.4 372.7 293C375 292.6 377.5 292.3 379.9 292.1C382.4 291.9 384.9 291.7 387.4 291.6C389.8 291.5 392.3 291.4 394.6 291.3C397 291.3 399.2 291.2 401.4 291.1C403.6 291.1 405.7 291 407.8 291.1C409.8 291.1 411.9 291.2 413.9 291.3C415.9 291.5 417.9 291.6 419.9 291.8C421.9 292 423.8 292.2 425.8 292.5C427.7 292.7 429.6 292.9 431.6 293.2C433.5 293.4 435.2 293.7 437.3 293.9C439.5 294.1 442.1 294.4 444.5 294.6C446.9 294.9 449.4 295.1 451.8 295.4C454.3 295.6 456.7 295.9 458.9 296.3C461.2 296.6 463.4 297 465.3 297.6C467.2 298.1 468.6 298.3 470.5 299.4C472.3 300.5 474.8 302.4 476.3 304.1C477.8 305.9 478.8 308.1 479.7 310.1C480.5 312 481.2 313.7 481.5 316C481.8 318.3 482.1 321.2 481.7 323.9C481.2 326.7 479.6 330.3 478.8 332.6C477.9 334.8 477.4 335.9 476.6 337.6C475.8 339.4 475 341.2 473.9 343.1C472.9 345 471.7 346.9 470.2 348.8C468.7 350.7 466.5 353.1 464.9 354.7C463.4 356.2 462.5 356.9 461.1 358.1C459.7 359.2 458.2 360.4 456.6 361.6C455.1 362.8 453.4 364 451.7 365.3C450 366.5 448.2 367.7 446.4 368.9C444.5 370.1 442.7 371.3 440.7 372.5C438.8 373.7 436.9 374.9 434.9 376.1C433 377.2 431 378.4 429 379.5C427.1 380.6 425.4 381.5 423.4 382.6C421.4 383.6 419.2 384.7 417 385.7C414.8 386.8 412.5 387.9 410.2 389C407.9 390 405.6 391.1 403.3 392.1C401.1 393.1 398.8 394.1 396.7 395.1C394.7 396 392.6 396.9 390.8 397.7C389 398.5 387.2 399.3 385.8 399.9C384.3 400.6 382.7 401.3 382.1 401.6M103 414.2C103.5 414.2 105.2 414.1 106.5 414C107.8 413.9 109.2 413.8 110.8 413.7C112.4 413.6 114 413.5 115.8 413.5C117.6 413.4 119.5 413.3 121.5 413.1C123.4 413 125.5 412.9 127.6 412.8C129.8 412.7 132 412.6 134.2 412.5C136.4 412.3 138.7 412.2 141.1 412.1C143.4 411.9 145.7 411.8 148.1 411.6C150.5 411.5 152.9 411.3 155.3 411.2C157.6 411 160 410.8 162.4 410.7C164.7 410.5 167.1 410.3 169.4 410.1C171.7 409.9 174 409.8 176.2 409.6C178.4 409.4 180.6 409.2 182.7 408.9C184.8 408.7 186.7 408.5 188.8 408.3C190.8 408.1 192.9 407.8 195.1 407.5C197.2 407.3 199.3 407 201.4 406.8C203.6 406.5 205.7 406.3 207.8 406C210 405.7 212.1 405.4 214.2 405.2C216.4 404.9 218.5 404.6 220.6 404.3C222.7 404 224.8 403.7 226.9 403.4C229 403 231 402.7 233.1 402.4C235.1 402.1 237.1 401.7 239.1 401.4C241.1 401 243 400.7 244.9 400.3C246.8 399.9 248.7 399.5 250.5 399.1C252.4 398.7 254.2 398.3 255.9 397.9C257.6 397.5 259.3 397.1 261 396.6C262.6 396.2 263.8 396.1 265.7 395.3C267.6 394.5 270.9 393.4 272.5 391.9C274.2 390.5 274.5 388.3 275.6 386.5C276.7 384.7 277.8 382.9 279 381.2C280.1 379.4 281.3 377.7 282.5 375.9C283.8 374.2 285 372.4 286.3 370.7C287.7 369 289 367.3 290.4 365.6C291.8 363.9 293.2 362.3 294.8 360.5C296.5 358.7 298.4 356.6 300.3 354.8C302.1 352.9 304 351.1 305.9 349.4C307.7 347.7 309.6 346 311.6 344.4C313.5 342.8 315.4 341.2 317.4 339.7C319.3 338.2 321.3 336.8 323.3 335.4C325.2 334 327.3 332.7 329.2 331.5C331.2 330.2 333.2 329 335.1 327.9C337.1 326.8 338.9 325.7 340.8 324.8C342.6 323.8 344.5 323 346.2 322C347.9 321 349.6 320.3 351.1 318.9C352.6 317.4 353.7 315.1 355.1 313.4C356.6 311.8 358.4 310.3 360 309.1C361.6 307.9 363.2 307.1 365 306.3C366.7 305.5 368.6 304.7 370.5 304.1C372.4 303.5 374.5 302.9 376.5 302.4C378.5 302 380.6 301.6 382.7 301.2C384.8 300.9 387 300.6 389.1 300.4C391.2 300.1 393.3 299.9 395.3 299.8C397.4 299.6 399.2 299.5 401.4 299.4C403.6 299.4 406.1 299.3 408.5 299.5C410.9 299.6 413.3 299.9 415.7 300.2C418.2 300.5 420.6 300.9 423 301.3C425.4 301.7 427.8 302.2 430.1 302.6C432.4 303.1 434.6 303.5 436.7 303.9C438.9 304.3 440.4 304.6 442.9 304.9C445.3 305.3 448.5 305.6 451.2 305.9C453.9 306.2 456.5 306.3 458.8 306.6C461.2 306.9 463.4 307.1 465.3 307.5C467.3 307.9 468.7 307.9 470.5 309.1C472.2 310.3 474.8 312.5 475.9 314.5C477.1 316.6 477.2 319 477.4 321.5C477.6 324 477.8 326.6 477.1 329.4C476.4 332.1 474.5 335.9 473.2 338.1C471.9 340.3 470.8 341.1 469.3 342.7C467.8 344.2 466 345.8 464.2 347.4C462.3 349 460.2 350.7 458.1 352.3C455.9 354 453.1 356 451.1 357.4C449.2 358.8 448.1 359.5 446.4 360.6C444.7 361.7 442.8 363 440.8 364.2C438.9 365.4 436.8 366.6 434.8 367.8C432.8 369.1 430.8 370.3 428.8 371.4C426.9 372.6 425 373.7 423.3 374.7C421.6 375.7 419.9 376.7 418.6 377.5C417.3 378.3 415.8 379.2 415.2 379.5M880.4 121.3C872.7 115.9 845 99.6 834.2 88.8C823.4 77.9 818.7 66.1 815.3 56.2C811.8 46.4 811.3 37.6 813.5 29.6C815.7 21.6 825.8 11.8 828.3 8.3M880.4 165.7C872.7 161.7 848.8 151.9 834.2 142C819.6 132.1 802.6 119.3 792.8 106.5C782.9 93.7 778 76.9 775 65.1C772.1 53.3 772.6 45 775 35.5C777.5 26 787.4 12.8 789.8 8.3M880.4 213C872.7 209.6 849.8 201.2 834.2 192.3C818.6 183.4 800.7 172.1 786.9 159.8C773.1 147.4 760.2 132.1 751.4 118.3C742.5 104.5 737.1 89.7 733.6 76.9C730.2 64.1 729.2 52.9 730.7 41.4C732.1 30 740.5 13.8 742.5 8.3M880.4 242.6C872.7 240.1 851.8 236.7 834.2 227.8C816.6 218.9 791.8 203.6 775 189.3C758.3 175 744.5 157.8 733.6 142C722.8 126.2 714.4 110.5 709.9 94.7C705.5 78.9 705.5 61.7 707 47.3C708.5 32.9 716.8 14.8 718.8 8.3M880.4 272.2C872.7 270.2 851.8 267.3 834.2 260.4C816.6 253.5 792.8 243.6 775 230.8C757.3 217.9 740.5 199.2 727.7 183.4C714.9 167.7 705.5 151.9 698.1 136.1C690.7 120.3 686.5 103.6 683.3 88.8C680.2 74 678.7 60.7 679.2 47.3C679.7 33.9 685.1 14.8 686.3 8.3M880.4 292.9C872.7 292.2 849.8 292 834.2 288.8C818.6 285.5 800.7 279.6 786.9 273.4C773.1 267.2 760.2 257.1 751.4 251.5C742.5 245.9 736.6 241.6 733.6 239.6M880.4 328.4C867.7 327.4 826.1 322.5 804.6 322.5C783.1 322.5 766 326.2 751.4 328.4C736.8 330.6 722.8 334.3 717 335.5M690.4 205.9C684.8 204.1 668.2 200 656.7 195.3C645.1 190.5 631 185.4 621.2 177.5C611.3 169.6 602.4 157.8 597.5 147.9C592.6 138.1 593.3 127.2 591.6 118.3C589.9 109.5 586.5 103.6 587.5 94.7C588.4 85.8 591.9 75 597.5 65.1C603.1 55.2 612.8 45 621.2 35.5C629.6 26 643.4 12.8 647.8 8.3M690.4 205.9C684.8 207.6 668.2 212.8 656.7 216C645.1 219.1 632 223.2 621.2 224.9C610.3 226.5 598.9 225.8 591.6 226C584.3 226.2 580 234.1 577.4 226C574.8 217.9 576.2 195.5 576.2 177.5C576.2 159.6 576.6 133.1 577.4 118.3C578.2 103.6 577.6 98.6 580.9 88.8C584.3 78.9 590.3 69 597.5 59.2C604.7 49.3 616.7 38.1 624.1 29.6C631.5 21.1 638.9 11.8 641.9 8.3M677.4 188.2C673.9 187.4 665.1 186.7 656.7 183.4C648.3 180.2 635.5 175 627.1 168.6C618.7 162.2 611.3 151.9 606.4 145C601.5 138.1 599 130.2 597.5 127.2M695.1 216C688.7 219.4 671 229.3 656.7 236.7C642.4 244.1 622.2 253.5 609.3 260.4C596.5 267.3 588.6 270.2 579.8 278.1C570.9 286 563.1 297.9 556.1 307.7C549.1 317.5 545.3 327.9 538 337C530.7 346.1 523.3 352.8 512 362C500.7 371.2 486.2 382 470 392C453.8 402 432.5 412.8 415 422C397.5 431.2 382.5 439 365 447C347.5 455 319.2 466.2 310 470M698.1 227.8C693.2 232.2 680.4 245.1 668.5 254.4C656.7 263.8 640.9 275.1 627.1 284C613.3 292.9 597.5 298.8 585.7 307.7C573.8 316.6 565 327.4 556.1 337.3C547.2 347.1 540.9 357.7 532.4 366.9C523.9 376 516.7 383.1 505 392C493.3 400.9 477.8 410.7 462 420C446.2 429.3 427.8 438.8 410 448C392.2 457.2 373.3 467.2 355 475C336.7 482.8 309.2 491.7 300 495M702.8 236.7C699.1 241.6 690 254.4 680.4 266.3C670.7 278.1 658.7 295.9 644.9 307.7C631 319.5 611.3 328.4 597.5 337.3C583.7 346.2 573.8 353.1 562 360.9C550.2 368.8 537.7 376.4 526.5 384.6C515.3 392.8 507.8 400.8 495 410C482.2 419.2 465.8 430.3 450 440C434.2 449.7 416.7 459.3 400 468C383.3 476.7 366.7 485 350 492C333.3 499 308.3 507 300 510M704 254.4C701.1 259.4 694.2 273.2 686.3 284C678.4 294.9 668.5 308.7 656.7 319.5C644.9 330.4 630.1 340.2 615.3 349.1C600.5 358 582.7 365.4 567.9 372.8C553.1 380.2 539.5 384.8 526.5 393.5C513.5 402.2 503.6 414.7 490 425C476.4 435.3 460 445.5 445 455C430 464.5 414.2 473.7 400 482C385.8 490.3 366.7 501.2 360 505M686.3 331.4 L647.8 363.9M668.5 355C659.6 359 633 372.3 615.3 378.7C597.5 385.1 577.8 388.6 562 393.5C546.2 398.4 533.4 401.9 520.6 408.3C507.8 414.7 491 428 485.1 432M880.4 603.6C877.1 605.6 866.3 610.5 860.8 615.4C855.4 620.4 848.8 626.3 847.8 633.2C846.8 640.1 849.5 648.5 854.9 656.9C860.3 665.2 876.1 679.1 880.4 683.5M880.4 556.3C872.7 559.2 849.3 565.1 834.2 574C819.1 582.9 798.2 599.7 789.8 609.5C781.4 619.4 782.4 624.3 783.9 633.2C785.4 642.1 790.3 651.9 798.7 662.8C807.1 673.6 824.3 689.6 834.2 698.3C844.1 707 853.9 712.1 857.9 714.9M880.4 523.7C867.7 527.7 828.1 537 804.6 547.4C781.1 557.8 754.3 574.5 739.5 585.9C724.7 597.2 718.3 605.6 715.9 615.4C713.4 625.3 717.8 634.2 724.7 645C731.6 655.9 745 668.9 757.3 680.5C769.6 692.2 791.8 709.1 798.7 714.9M880.4 491.2C862.8 497.1 804.4 514.9 775 526.7C745.6 538.5 719.8 552.3 704 562.2C688.2 572.1 684.5 578 680.4 585.9C676.2 593.7 676.2 598.7 679.2 609.5C682.1 620.4 688 637.1 698.1 650.9C708.2 664.8 727.7 681.7 739.5 692.4C751.4 703 764.2 711.1 769.1 714.9M880.4 467.5C858.9 474.4 788.6 496.1 751.4 508.9C714.1 521.8 679.4 533.6 656.7 544.4C634 555.3 623.4 564.2 615.3 574C607.2 583.9 606.2 591.8 608.2 603.6C610.1 615.4 617 631.2 627.1 645C637.2 658.8 655.7 674.8 668.5 686.4C681.3 698.1 698.1 710.1 704 714.9M880.4 446.8C852.9 455.2 758.1 483.8 715.9 497.1C673.6 510.4 648.8 516.8 627.1 526.7C605.4 536.5 593.6 544.4 585.7 556.3C577.8 568.1 577.8 582.9 579.8 597.7C581.7 612.5 587.7 629.3 597.5 645C607.4 660.8 628.1 680.7 638.9 692.4C649.8 704 658.7 711.1 662.6 714.9M880.4 440.9C848 448.3 733.4 472.9 686.3 485.3C639.1 497.6 620.2 505 597.5 514.9C574.8 524.7 559.5 533.6 550.2 544.4C540.8 555.3 540.3 566.1 541.3 579.9C542.3 593.7 547.7 611.5 556.1 627.3C564.5 643.1 579.8 660 591.6 674.6C603.4 689.2 621.2 708.1 627.1 714.9M880.4 437.9C876.3 438.6 864.2 440.7 856.1 442.1C848 443.5 839.9 444.9 831.9 446.3C823.8 447.7 815.7 449.1 807.6 450.6C799.6 452.1 791.5 453.6 783.5 455.2C775.4 456.9 767.4 458.7 759.4 460.5C751.4 462.4 743.5 464.5 735.5 466.5C727.6 468.5 719.6 470.7 711.7 472.7C703.8 474.8 695.8 476.9 687.9 479C679.9 481 672 483 664 485.2C656.1 487.3 648.2 489.4 640.3 491.6C632.4 493.9 624.5 496.2 616.7 498.7C608.9 501.3 601.2 504.1 593.5 507C585.8 509.9 578.1 512.7 570.7 516.2C563.3 519.7 555.4 523 549.2 528C542.9 533.1 536.6 539.3 533.1 546.3C529.6 553.4 528.3 562.2 528.1 570.2C527.9 578.2 529.7 586.6 531.8 594.5C533.9 602.4 537.1 610.1 540.5 617.5C544 624.9 548.2 632 552.7 638.9C557.1 645.7 562.3 652.1 567.4 658.6C572.4 665.1 577.7 671.4 582.9 677.7C588.1 684 593.5 690.3 598.9 696.5C604.3 702.7 612.5 711.8 615.3 714.9M880.4 435C862.8 437.4 807.4 443.4 775 449.8C742.7 456.2 715.9 465.5 686.3 473.4C656.7 481.3 622.2 489.2 597.5 497.1C572.9 505 551.7 511.9 538.3 520.8C525 529.6 521.1 539.5 517.6 550.4C514.2 561.2 514.2 572.1 517.6 585.9C521.1 599.7 529 617.4 538.3 633.2C547.7 649 563 666.9 573.8 680.5C584.7 694.1 598.5 709.1 603.4 714.9M880.4 431.4C876.1 431.9 863.4 433.5 854.8 434.5C846.3 435.5 837.8 436.5 829.3 437.5C820.8 438.6 812.3 439.7 803.9 440.9C795.4 442.2 786.9 443.4 778.5 445C770.1 446.5 761.7 448.3 753.4 450.3C745 452.2 736.8 454.5 728.5 456.8C720.3 459 712.1 461.5 703.8 463.8C695.6 466.1 687.3 468.4 679.1 470.7C670.8 473 662.6 475.3 654.3 477.5C646.1 479.8 637.8 482.1 629.6 484.3C621.3 486.5 613 488.6 604.7 490.9C596.5 493.3 588.3 495.7 580.2 498.4C572.1 501.1 563.9 503.8 556 507.2C548.2 510.6 539.8 513.6 533.2 518.8C526.6 523.9 520.4 530.6 516.4 537.8C512.5 545.1 510.1 554 509.4 562.3C508.7 570.6 510.2 579.4 512.1 587.7C513.9 595.9 517.1 604 520.5 611.9C523.9 619.7 527.9 627.4 532.3 634.7C536.7 642 541.8 648.9 546.9 655.7C552 662.6 557.4 669.3 562.8 675.9C568.2 682.6 573.7 689.2 579.2 695.7C584.8 702.2 593.5 711.7 596.3 714.9M880.4 427.9C876 428.4 863.1 429.8 854.5 430.8C845.9 431.8 837.3 432.8 828.7 433.8C820.1 434.8 811.4 435.9 802.9 437.1C794.3 438.3 785.7 439.5 777.1 441.1C768.6 442.6 760.1 444.4 751.7 446.3C743.2 448.3 734.8 450.5 726.5 452.7C718.1 455 709.8 457.4 701.4 459.7C693.1 462.1 684.7 464.5 676.4 466.9C668.1 469.3 659.8 471.7 651.4 474.2C643.1 476.6 634.8 479.1 626.5 481.4C618.1 483.7 609.7 485.7 601.3 488C593 490.3 584.6 492.7 576.4 495.4C568.2 498.1 559.9 500.9 552 504.4C544 507.8 535.5 511 528.8 516.1C522.1 521.3 515.8 527.9 511.6 535.2C507.4 542.5 504.7 551.4 503.7 559.7C502.6 568.1 503.9 577.1 505.5 585.5C507 593.9 509.9 602.2 513.1 610.2C516.2 618.2 520.2 626.1 524.6 633.5C528.9 641 534.1 648 539.2 655C544.3 662 549.7 668.8 555.2 675.5C560.6 682.3 566.2 689 571.8 695.5C577.5 702.1 586.3 711.6 589.2 714.9M880.4 424.3C876 424.8 862.9 426.2 854.2 427.2C845.4 428.1 836.7 429 828 430C819.3 431 810.5 432 801.8 433.2C793.1 434.4 784.4 435.6 775.8 437.2C767.1 438.7 758.5 440.5 750 442.4C741.4 444.3 732.9 446.5 724.4 448.7C715.9 450.9 707.4 453.3 699 455.7C690.5 458.1 682.1 460.5 673.7 463C665.3 465.5 656.9 468.2 648.6 470.8C640.2 473.4 631.8 476.2 623.4 478.6C615 480.9 606.4 482.8 597.9 485.1C589.4 487.4 580.9 489.6 572.6 492.4C564.3 495.1 555.9 498.1 547.9 501.6C539.9 505.1 531.3 508.3 524.5 513.5C517.6 518.6 511.1 525.3 506.7 532.6C502.3 539.8 499.2 548.7 497.9 557.2C496.6 565.6 497.5 574.7 498.8 583.3C500.1 591.9 502.6 600.4 505.6 608.6C508.6 616.8 512.5 624.7 516.9 632.3C521.2 639.9 526.4 647.1 531.6 654.2C536.7 661.3 542 668.3 547.5 675.1C553 682 558.7 688.7 564.4 695.3C570.2 702 579.2 711.6 582.1 714.9M880.4 420.8C875.9 421.2 862.7 422.6 853.8 423.5C845 424.4 836.1 425.3 827.3 426.3C818.5 427.3 809.6 428.2 800.8 429.4C792 430.6 783.2 431.8 774.4 433.3C765.7 434.8 757 436.6 748.3 438.5C739.6 440.4 731 442.5 722.3 444.7C713.7 446.9 705.1 449.2 696.6 451.6C688 454 679.5 456.5 671 459.1C662.5 461.7 654.1 464.7 645.7 467.4C637.2 470.2 628.9 473.2 620.3 475.7C611.8 478.1 603 479.9 594.5 482.2C585.9 484.4 577.2 486.6 568.8 489.3C560.4 492.1 552 495.2 543.9 498.8C535.8 502.4 527.1 505.7 520.1 510.8C513.1 516 506.5 522.6 501.8 529.9C497.2 537.2 493.8 546.1 492.2 554.6C490.6 563.1 491.2 572.4 492.2 581.1C493.2 589.8 495.4 598.6 498.2 607C501 615.3 504.9 623.4 509.2 631.2C513.4 638.9 518.7 646.2 523.9 653.4C529 660.7 534.4 667.8 539.9 674.8C545.4 681.7 551.2 688.5 557 695.2C562.9 701.9 572 711.6 575 714.9M880.4 417.2C862.8 419.2 807.4 423.6 775 429.1C742.7 434.5 712.9 442.4 686.3 449.8C659.6 457.2 635 467.5 615.3 473.4C595.5 479.3 584.7 479.3 567.9 485.3C551.2 491.2 527.5 500.1 514.7 508.9C501.9 517.8 495.9 527.7 491 538.5C486.1 549.4 484.1 560.2 485.1 574C486.1 587.8 489 604.6 496.9 621.4C504.8 638.1 520.6 659 532.4 674.6C544.3 690.2 562 708.1 567.9 714.9M880.4 409.8C875.8 410.1 862.1 411 852.9 411.6C843.8 412.2 834.6 412.7 825.5 413.4C816.4 414.1 807.2 414.8 798.1 415.8C789 416.7 779.9 417.8 770.9 419.4C761.8 420.9 752.8 422.9 743.9 425C735 427.2 726.2 429.6 717.4 432.2C708.6 434.7 699.9 437.5 691.2 440.4C682.6 443.3 674 446.5 665.4 449.4C656.7 452.4 648 455.4 639.3 458.3C630.6 461.2 622 464.3 613.1 466.8C604.3 469.4 595.3 471.2 586.5 473.6C577.6 476 568.7 478.1 560 481C551.3 483.9 542.7 487.2 534.4 491C526 494.7 517.3 498.3 510 503.7C502.7 509 495.9 515.7 490.7 523C485.6 530.4 481.5 539.2 479.2 547.9C476.8 556.5 476.4 566 476.6 575C476.9 584 478.3 593.3 480.7 602.1C483.1 610.8 486.9 619.4 491.1 627.5C495.2 635.6 500.5 643.2 505.6 650.8C510.7 658.5 516.1 665.9 521.7 673.2C527.3 680.4 533.2 687.4 539.2 694.4C545.2 701.3 554.5 711.4 557.6 714.9M880.4 402.4C875.7 402.6 861.7 403 852.4 403.4C843.1 403.7 833.7 403.9 824.4 404.3C815.1 404.8 805.7 405.1 796.5 406C787.2 406.8 777.8 407.7 768.6 409.3C759.4 410.9 750.3 413.1 741.3 415.5C732.3 417.9 723.4 420.7 714.5 423.6C705.7 426.6 697 429.8 688.3 433.2C679.6 436.5 671.2 440.4 662.4 443.6C653.7 446.9 644.7 449.7 635.8 452.5C626.9 455.4 618 458.2 609.1 460.8C600.1 463.4 591 465.5 582 468C572.9 470.4 563.9 472.7 555 475.7C546.2 478.7 537.4 482 528.9 485.9C520.4 489.8 511.6 493.6 504.2 499.1C496.8 504.6 489.9 511.4 484.5 518.8C479.1 526.2 474.7 535 471.9 543.7C469.1 552.4 468 561.9 467.8 571.1C467.6 580.3 468.5 589.9 470.7 598.9C472.9 607.8 476.6 616.6 480.7 624.9C484.8 633.3 490 641.2 495 649C500.1 656.9 505.5 664.5 511.1 672C516.7 679.4 522.8 686.6 528.8 693.7C534.8 700.9 544.1 711.3 547.2 714.9M880.4 395C875.6 395 861.3 395.1 851.8 395.1C842.3 395.1 832.8 395.1 823.3 395.3C813.8 395.4 804.3 395.5 794.8 396.2C785.3 396.9 775.8 397.7 766.4 399.3C757.1 400.9 747.8 403.4 738.7 406C729.5 408.6 720.5 411.7 711.6 415.1C702.8 418.4 694 422.2 685.3 426C676.7 429.8 668.3 434.4 659.5 437.9C650.7 441.3 641.5 443.9 632.4 446.7C623.3 449.6 614.1 452.2 605 454.8C595.8 457.4 586.6 459.7 577.4 462.3C568.3 464.9 559 467.3 550 470.4C541 473.5 532.1 476.9 523.5 480.9C514.9 484.9 506 488.9 498.4 494.5C490.9 500.1 483.9 507.1 478.3 514.6C472.6 522.1 467.8 530.7 464.6 539.5C461.4 548.3 459.6 557.9 458.9 567.3C458.3 576.6 458.8 586.4 460.7 595.6C462.6 604.8 466.3 613.8 470.3 622.4C474.3 631 479.4 639.1 484.5 647.2C489.5 655.3 494.9 663.2 500.5 670.8C506.2 678.5 512.3 685.8 518.3 693.1C524.4 700.4 533.8 711.2 536.9 714.9M880.4 387.6C862.8 387.6 804.4 384.2 775 387.6C745.6 391.1 723.7 400.9 704 408.3C684.3 415.7 674.4 425.1 656.7 432C638.9 438.9 617.2 443.8 597.5 449.8C577.8 455.7 556.1 460.6 538.3 467.5C520.6 474.4 503.8 481.3 491 491.2C478.2 501 468.3 513.9 461.4 526.7C454.5 539.5 450.6 554.3 449.6 568.1C448.6 581.9 449.6 593.7 455.5 609.5C461.4 625.3 473.3 645.2 485.1 662.8C496.9 680.3 519.6 706.2 526.5 714.9M880.4 378C875.4 377.9 860.6 377.4 850.7 377.1C840.9 376.9 831 376.4 821.1 376.4C811.2 376.3 801.3 376.1 791.5 376.7C781.7 377.4 771.7 378.4 762.1 380.5C752.6 382.5 743.2 385.8 733.9 389C724.6 392.3 715.5 396.1 706.4 400.1C697.4 404.1 688.6 408.5 679.7 412.9C670.9 417.2 662.3 422.3 653.2 426C644.1 429.8 634.5 432.4 625 435.1C615.6 437.9 605.9 440.1 596.4 442.5C586.8 444.9 577.2 447 567.6 449.4C558 451.8 548.3 453.6 539 456.8C529.7 459.9 520.5 463.9 511.8 468.3C503 472.8 494.2 477.6 486.5 483.6C478.8 489.7 471.5 496.8 465.6 504.5C459.7 512.3 454.8 521.2 451.2 530.3C447.5 539.3 445 549.2 443.6 558.9C442.2 568.6 441.8 578.7 442.9 588.3C444.1 598 447.3 607.5 450.8 616.7C454.3 625.8 459 634.6 463.8 643.2C468.6 651.8 474 660.1 479.6 668.2C485.2 676.3 491.4 684.1 497.5 691.8C503.6 699.6 513 711 516.2 714.9M880.4 368.4C875.3 368.2 860.2 367.7 850.2 367.4C840.1 367.1 830.1 366.6 820 366.6C810 366.5 799.8 366.3 789.8 367.1C779.9 367.9 769.8 369.2 760.1 371.7C750.4 374.1 741.1 377.9 731.8 381.6C722.4 385.3 713.3 389.5 704.1 393.7C695 397.9 686.1 402.6 677.1 406.9C668 411.3 659.2 416.3 649.9 420C640.6 423.8 630.9 426.6 621.2 429.3C611.5 432 601.7 434.1 591.8 436.3C582 438.4 572.2 440.1 562.3 442.2C552.5 444.2 542.4 445.4 533 448.5C523.5 451.6 514.3 456 505.5 460.8C496.7 465.6 488.1 471 480.3 477.3C472.6 483.6 465.1 490.8 459.2 498.8C453.3 506.7 448.6 516 445 525.2C441.3 534.5 438.8 544.5 437.2 554.3C435.6 564.2 434.5 574.4 435.3 584.3C436 594.1 438.6 604.1 441.7 613.5C444.7 623 449 632.2 453.6 641.1C458.2 650 463.7 658.5 469.3 666.8C474.8 675.2 481 683.2 487.1 691.2C493.2 699.2 502.7 710.9 505.8 714.9M880.4 358.8C875.2 358.6 859.9 358 849.6 357.7C839.4 357.4 829.2 356.8 818.9 356.8C808.7 356.8 798.3 356.5 788.2 357.5C778.1 358.5 767.8 360.1 758.1 362.9C748.3 365.6 739 370.1 729.6 374.2C720.2 378.3 711 382.8 701.8 387.3C692.6 391.7 683.6 396.6 674.4 401C665.2 405.5 656.1 410.3 646.6 414C637.1 417.8 627.2 420.8 617.3 423.5C607.5 426.2 597.4 428.1 587.3 430C577.3 431.9 567.1 433.2 557.1 434.9C547 436.6 536.6 437.1 526.9 440.2C517.3 443.3 508 448.2 499.2 453.3C490.4 458.5 481.9 464.4 474.2 471C466.4 477.6 458.7 484.8 452.8 493C446.9 501.2 442.5 510.7 438.8 520.2C435.1 529.6 432.6 539.8 430.7 549.8C428.9 559.8 427.3 570.1 427.6 580.2C427.9 590.3 429.9 600.6 432.5 610.3C435.2 620.1 439.1 629.7 443.5 638.9C447.9 648.1 453.4 656.8 458.9 665.4C464.5 674 470.6 682.3 476.7 690.5C482.7 698.8 492.3 710.8 495.4 714.9M880.4 349.2C862.8 349.2 804.4 344.2 775 349.2C745.6 354.1 723.7 369.9 704 378.8C684.3 387.6 671.5 396 656.7 402.4C641.9 408.8 630.1 413.3 615.3 417.2C600.5 421.2 583.7 423.6 567.9 426.1C552.1 428.6 535.4 427.1 520.6 432C505.8 436.9 492 445.8 479.2 455.7C466.4 465.5 452.5 477.4 443.7 491.2C434.8 505 429.9 522.7 425.9 538.5C422 554.3 419 570.1 420 585.9C421 601.6 425.9 618.4 431.8 633.2C437.8 648 446.6 661 455.5 674.6C464.4 688.2 480.2 708.1 485.1 714.9M556 300C552.5 305.8 543.5 324.2 535 335C526.5 345.8 516.7 355 505 365C493.3 375 477.5 385 465 395C452.5 405 439.2 414.2 430 425C420.8 435.8 414.7 447.5 410 460C405.3 472.5 403 485.8 402 500C401 514.2 401 530 404 545C407 560 412.3 574.2 420 590C427.7 605.8 436.7 623.3 450 640C463.3 656.7 486.7 677.3 500 690C513.3 702.7 525 711.7 530 716M540 310C535.8 315.8 525 334.2 515 345C505 355.8 491.7 365.5 480 375C468.3 384.5 455.8 392.5 445 402C434.2 411.5 423.2 420.7 415 432C406.8 443.3 400.5 457 396 470C391.5 483 389 495.8 388 510C387 524.2 388 540 390 555C392 570 394.2 585 400 600C405.8 615 414.2 630 425 645C435.8 660 453.3 678.2 465 690C476.7 701.8 490 711.7 495 716M520 318C515.8 323.3 504.7 340 495 350C485.3 360 473.2 368.8 462 378C450.8 387.2 438.3 395.3 428 405C417.7 414.7 407.5 424.3 400 436C392.5 447.7 386.8 461 383 475C379.2 489 377.8 505 377 520C376.2 535 376.5 550 378 565C379.5 580 381 595 386 610C391 625 398.2 640 408 655C417.8 670 434.7 689.8 445 700C455.3 710.2 465.8 713.3 470 716M103 479.3C112.3 480.8 139.9 482.8 159.2 488.2C178.4 493.6 201.6 502.5 218.3 511.9C235.1 521.3 246.9 532.1 259.8 544.4C272.6 556.8 282.4 572.1 295.3 585.9C308.1 599.7 321.9 615 336.7 627.3C351.5 639.6 368.2 649 384 659.8C399.8 670.7 417.6 683.2 431.4 692.4C445.2 701.5 460.9 711.1 466.9 714.9M103 497.1C106 497.5 115.1 498.7 121.1 499.6C127.2 500.5 133.3 501.2 139.3 502.4C145.3 503.5 151.3 504.8 157.2 506.4C163.1 508 168.9 510 174.7 512C180.4 514.1 186.2 516.3 191.8 518.7C197.4 521.1 203 523.6 208.4 526.4C213.9 529.2 219.2 532.3 224.4 535.6C229.5 538.8 234.4 542.5 239.3 546.2C244.1 549.9 248.8 553.8 253.4 557.8C257.9 561.8 262.3 566.1 266.6 570.4C270.9 574.7 275 579.2 279.2 583.5C283.5 587.8 287.8 592.1 292.2 596.3C296.6 600.5 301 604.7 305.5 608.8C310 613 314.5 617.1 319.1 621.1C323.7 625.1 328.4 629.1 333.2 632.8C338 636.6 343 640.1 348.1 643.6C353.1 647.1 358.2 650.4 363.3 653.8C368.4 657.2 373.5 660.6 378.5 664.1C383.6 667.6 388.6 671.1 393.6 674.6C398.6 678.1 403.7 681.6 408.7 685C413.8 688.5 418.8 691.9 423.9 695.3C429.1 698.6 434.2 701.9 439.4 705.2C444.6 708.4 452.4 713.2 455 714.9M103 514.9C105.8 515.3 114.4 516.6 120.2 517.5C125.9 518.4 131.7 519.3 137.4 520.4C143.1 521.5 148.8 522.7 154.4 524.3C160 525.8 165.5 527.7 170.9 529.6C176.4 531.6 181.8 533.8 187.1 536.1C192.5 538.3 197.8 540.8 203 543.4C208.2 546 213.3 548.7 218.3 551.7C223.3 554.6 228.2 557.7 233 561C237.7 564.2 242.4 567.7 247 571.2C251.6 574.7 256.1 578.4 260.5 582C264.9 585.7 269.2 589.6 273.6 593.3C278 597 282.5 600.6 286.9 604.3C291.4 608 295.9 611.6 300.4 615.3C304.9 618.9 309.3 622.6 313.9 626.2C318.4 629.7 323 633.3 327.7 636.8C332.3 640.2 337.1 643.6 341.9 646.9C346.6 650.2 351.5 653.5 356.2 656.8C361 660 365.8 663.3 370.6 666.7C375.4 670 380.1 673.3 384.9 676.7C389.6 680 394.4 683.3 399.2 686.6C404 689.9 408.8 693.1 413.7 696.3C418.5 699.5 423.4 702.6 428.4 705.7C433.3 708.8 440.7 713.3 443.2 714.9M103 532.6C112.3 534.6 139.9 538 159.2 544.4C178.4 550.8 198.6 560.2 218.3 571.1C238.1 581.9 257.8 596.2 277.5 609.5C297.2 622.8 317 637.1 336.7 650.9C356.4 664.8 380.1 681.7 395.9 692.4C411.6 703 425.4 711.1 431.4 714.9M103 550.4C105.5 550.8 113.1 552.3 118.1 553.3C123.1 554.3 128.2 555.2 133.2 556.3C138.2 557.4 143.3 558.5 148.2 559.9C153.2 561.3 158.1 562.9 162.9 564.6C167.8 566.2 172.6 568.1 177.3 570.1C182.1 572 186.8 574 191.5 576.1C196.2 578.3 200.8 580.5 205.4 582.7C210 585 214.6 587.4 219.1 589.8C223.6 592.3 228.1 594.9 232.5 597.5C236.9 600.1 241.3 602.8 245.6 605.5C250 608.3 254.3 611 258.6 613.8C262.9 616.6 267.3 619.4 271.6 622.2C275.9 625 280.2 627.8 284.5 630.6C288.8 633.5 293 636.3 297.3 639.2C301.6 642 305.8 644.9 310.1 647.8C314.4 650.6 318.6 653.5 322.9 656.4C327.2 659.2 331.4 662.1 335.7 665C339.9 667.9 344.2 670.8 348.5 673.7C352.7 676.5 357 679.4 361.3 682.3C365.5 685.1 369.8 688 374.1 690.8C378.4 693.5 382.8 696.3 387.1 699C391.5 701.7 395.9 704.4 400.3 707C404.7 709.6 411.4 713.5 413.6 714.9M103 568.1C105.3 568.6 112.3 570.1 117 571.1C121.7 572.2 126.3 573.1 131 574.2C135.7 575.3 140.3 576.4 144.9 577.7C149.5 579 154.1 580.3 158.7 581.8C163.2 583.3 167.7 585 172.2 586.7C176.7 588.4 181.1 590.2 185.5 592C189.9 593.8 194.3 595.8 198.7 597.7C203 599.7 207.3 601.7 211.6 603.8C215.9 606 220.2 608.2 224.4 610.4C228.6 612.7 232.7 615 236.9 617.4C241 619.7 245.2 622.2 249.3 624.6C253.4 627.1 257.5 629.5 261.5 632C265.6 634.5 269.7 637 273.8 639.6C277.8 642.1 281.9 644.6 285.9 647.2C290 649.7 294 652.2 298.1 654.8C302.1 657.4 306.1 659.9 310.2 662.5C314.2 665.1 318.2 667.7 322.2 670.3C326.2 672.9 330.3 675.5 334.3 678.1C338.3 680.7 342.3 683.3 346.4 685.8C350.4 688.3 354.5 690.9 358.6 693.4C362.7 695.8 366.8 698.3 370.9 700.7C375 703.1 379.2 705.5 383.3 707.8C387.5 710.2 393.8 713.7 395.9 714.9M103 585.9C112.3 588.3 139.9 594.2 159.2 600.7C178.4 607.1 198.6 615 218.3 624.3C238.1 633.7 257.8 645.5 277.5 656.9C297.2 668.2 319.9 682.7 336.7 692.4C353.5 702 371.2 711.1 378.1 714.9M103 609.5C104.8 610 110.3 611.3 114 612.2C117.6 613.1 121.3 614 125 614.9C128.6 615.8 132.3 616.7 136 617.6C139.6 618.6 143.2 619.6 146.9 620.7C150.5 621.7 154.1 622.8 157.7 624C161.3 625.2 164.9 626.4 168.4 627.6C172 628.9 175.5 630.2 179 631.5C182.6 632.9 186.1 634.3 189.6 635.7C193.1 637.1 196.5 638.6 200 640.1C203.5 641.6 206.9 643.1 210.3 644.7C213.7 646.3 217.1 648 220.5 649.7C223.9 651.3 227.3 653 230.6 654.8C234 656.5 237.3 658.3 240.6 660C243.9 661.8 247.3 663.6 250.6 665.5C253.9 667.3 257.2 669.1 260.4 671C263.7 672.9 267 674.8 270.2 676.7C273.5 678.6 276.7 680.5 280 682.5C283.2 684.4 286.5 686.3 289.7 688.3C293 690.2 296.2 692.1 299.5 694C302.7 695.9 306 697.8 309.3 699.6C312.6 701.4 316 703.2 319.3 704.9C322.7 706.6 326 708.3 329.4 710C332.8 711.6 337.9 714 339.6 714.9M103 633.2C112.3 635.7 139.9 641.6 159.2 648C178.4 654.4 198.6 662.3 218.3 671.7C238.1 681 263.7 697 277.5 704.2C291.3 711.4 297.2 713.1 301.2 714.9M103 656.9C104.1 657.2 107.5 658.1 109.8 658.7C112 659.3 114.3 659.9 116.6 660.5C118.9 661.1 121.1 661.7 123.4 662.3C125.7 662.9 127.9 663.5 130.2 664.2C132.5 664.8 134.7 665.5 137 666.1C139.2 666.8 141.5 667.5 143.7 668.2C146 668.9 148.2 669.7 150.4 670.4C152.7 671.2 154.9 671.9 157.1 672.7C159.3 673.5 161.5 674.3 163.7 675.1C166 675.9 168.2 676.7 170.4 677.5C172.6 678.3 174.7 679.2 176.9 680C179.1 680.9 181.3 681.8 183.5 682.7C185.7 683.5 187.8 684.4 190 685.4C192.1 686.3 194.3 687.2 196.4 688.2C198.6 689.2 200.7 690.2 202.8 691.2C204.9 692.2 207 693.2 209.1 694.2C211.2 695.3 213.3 696.3 215.4 697.3C217.5 698.4 219.6 699.4 221.7 700.5C223.8 701.5 225.9 702.5 228 703.6C230.1 704.6 232.2 705.6 234.4 706.6C236.5 707.6 238.6 708.6 240.8 709.6C242.9 710.5 245.1 711.4 247.3 712.3C249.5 713.2 252.8 714.4 253.8 714.9M103 680.5C112.3 683.5 141.9 692.6 159.2 698.3C176.4 704 198.6 712.1 206.5 714.9M103 429.1C112.3 429.5 141.9 430 159.2 432C176.4 434 190.5 435.5 206.5 440.9C222.5 446.3 246.9 460.6 255 464.6M103 446.8C112.3 447.8 141.9 449.3 159.2 452.7C176.4 456.2 192.7 460.1 206.5 467.5C220.3 474.9 232.6 487.2 242 497.1C251.4 507 259.3 521.8 262.7 526.7M103 461.6C112.3 462.8 140.9 463.8 159.2 468.7C177.4 473.6 197.6 481.5 212.4 491.2C227.2 500.8 237.1 513.9 247.9 526.7C258.8 539.5 268.1 556.3 277.5 568.1C286.9 579.9 299.7 592.8 304.1 597.7M103 417.2C112.3 417.2 139.9 418.7 159.2 417.2C178.4 415.7 201.6 413.8 218.3 408.3C235.1 402.9 252.9 388.6 259.8 384.7M385 471.1C377.8 473.9 357.7 483.1 341.4 487.9C325.2 492.6 296.7 497.6 287.8 499.6M388.4 477.8C381.7 480.6 363.8 489.3 348.2 494.6C332.5 499.9 303.4 507.1 294.5 509.7M385 464.4C380 471.1 363.8 494.6 354.9 504.6C345.9 514.7 338.1 518.3 331.4 524.7C324.7 531.2 317.4 540.1 314.6 543.2M401.8 491.2C396.2 496.8 378.3 514.1 368.3 524.7C358.2 535.4 348.2 547.1 341.4 554.9C334.7 562.7 331.9 564.4 328 571.7C324.1 579 319.7 594 318 598.5M435.3 404C427 408.5 401.8 424.4 385 430.8C368.3 437.3 348.7 441.2 334.7 442.6C320.8 444 306.8 439.8 301.2 439.2M440 424.1C430.9 428.1 402.6 442 385 447.6C367.5 453.2 350.4 456.6 334.7 457.7C319.1 458.8 298.4 454.9 291.1 454.3M440 440.9C430.9 444.3 402.6 456 385 461C367.5 466.1 348.7 469.4 334.7 471.1C320.8 472.8 309.3 471.6 301.2 471.1C293.1 470.5 288.6 468.3 286.1 467.7M375 538.2C374.4 541.5 371.9 551 371.6 558.3C371.4 565.5 371.6 573.4 373.3 581.8C375 590.1 378.1 600.2 381.7 608.6C385.3 617 392.9 628.1 395.1 632.1M385 544.9C384.2 548.8 380.3 560.5 380 568.3C379.7 576.2 380.9 583.4 383.4 591.8C385.9 600.2 390.4 610.8 395.1 618.6C399.9 626.5 409.1 635.4 411.9 638.8M324.7 373.8C324.4 377.2 321.9 388.1 323 394C324.1 399.8 327.2 405.7 331.4 409C335.6 412.4 342 413.8 348.2 414.1C354.3 414.4 362.1 412.1 368.3 410.7C374.4 409.3 382.2 406.5 385 405.7M351.5 358.7C354.3 361 362.1 367.7 368.3 372.2C374.4 376.6 382.8 382.8 388.4 385.6C394 388.4 399.6 388.4 401.8 388.9M385 352C390.9 352 414.1 351.2 420.3 352C426.4 352.9 424.2 352.3 421.9 357.1C419.7 361.8 410.5 375.5 406.8 380.5C403.2 385.6 402.6 388.9 400.1 387.3C397.6 385.6 394.3 376.4 391.8 370.5C389.2 364.6 386.2 355.1 385 352"/>
<path class="ar" d="M122.4 69L132.8 70.2M123.9 75.7L132.8 70.2M267.7 32.7L278.2 33.2M269.6 39.2L278.2 33.2M158.8 80.6L169.2 81.7M160.3 87.3L169.2 81.7M302.9 42.5L313.4 42.9M304.9 49.1L313.4 42.9M195.9 92L206.3 93.1M197.4 98.7L206.3 93.1M339.5 51.8L350 52M341.6 58.3L350 52M233.1 103.4L243.5 104.3M234.7 110L243.5 104.3M374.2 61.5L384.7 61.6M376.4 68L384.7 61.6M152.1 141.6L162.5 142.9M153.5 148.3L162.5 142.9M296.6 107.1L307.1 107.5M298.5 113.6L307.1 107.5M439.4 59.8L449.9 58.8M442.3 66L449.9 58.8M186.6 152.4L197 153.6M188 159.1L197 153.6M331.9 113.9L342.4 114M334 120.4L342.4 114M470.1 58.2L480.2 55.6M473.8 63.9L480.2 55.6M222.3 162.6L232.8 163.7M223.9 169.3L232.8 163.7M366.4 119.6L376.9 119.4M368.8 126L376.9 119.4M498.9 53.4L508.7 49.7M503.3 58.7L508.7 49.7M143.4 197L153.7 198.5M144.6 203.7L153.7 198.5M287.5 163.9L298 164.3M289.5 170.5L298 164.3M429.1 111.9L439.5 110.8M431.9 118.1L439.5 110.8M549.1 24L558.5 19.3M554 28.8L558.5 19.3M178.8 208.3L189.2 209.7M180.1 215L189.2 209.7M324.9 170.4L335.4 170.4M327.1 176.9L335.4 170.4M460.8 113.8L471.1 111.8M464.2 119.7L471.1 111.8M572.1 17.1L581.3 12M577.2 21.7L581.3 12M213.6 219.2L224 220.4M215.1 225.8L224 220.4M358.6 176.8L369.1 176.4M361 183.2L369.1 176.4M492.6 112.6L502.7 109.5M496.6 118.1L502.7 109.5M134.2 252L144.6 253.8M135.3 258.8L144.6 253.8M278.8 219.5L289.3 219.6M280.9 226L289.3 219.6M422.3 173.2L432.8 173.2M424.5 179.7L432.8 173.2M538.4 89.7L547 83.6M543.9 93.7L547 83.6M170.2 264L180.6 265.5M171.5 270.8L180.6 265.5M312.5 223.4L322.9 222.3M315.3 229.6L322.9 222.3M458.3 183.4L468.8 184M460.2 189.9L468.8 184M554.9 82.4L562.9 75.5M560.8 85.8L562.9 75.5M204.9 274.9L215.4 275.9M206.5 281.6L215.4 275.9M346.5 222.7L357 222.9M348.6 229.2L357 222.9M494.9 195.9L505.4 197.1M496.4 202.6L505.4 197.1M566.5 78.4L575 72.2M572.1 82.3L575 72.2M125.5 307.1L135.9 309M126.5 313.8L135.9 309M270.5 274.9L281 274.7M272.8 281.3L281 274.7M409.4 225.9L419.5 229M409.7 232.8L419.5 229M549 195.2L556.3 187.6M555.3 198.1L556.3 187.6M596.7 54.8L605 48.4M602.4 58.5L605 48.4M161.8 319.8L172.1 321.5M162.9 326.5L172.1 321.5M303.6 279.5L314 278.1M306.6 285.6L314 278.1M444.7 238.3L454.8 241.1M445.1 245.2L454.8 241.1M571.1 200.4L574.7 190.6M577.9 200.6L574.7 190.6M605.1 56.6L613.1 49.8M611 60.1L613.1 49.8M144.1 340.1L154.4 342.1M145 346.9L154.4 342.1M277.6 308.7L288.1 308.5M280 315.2L288.1 308.5M405.4 250L415.3 253.5M405.3 256.8L415.3 253.5M547.3 259.7L553.1 268.4M543.1 265.1L553.1 268.4M495.9 372.9L485.8 375.6M492.1 367.3L485.8 375.6M370.5 436.7L360 437.5M367.8 430.4L360 437.5M172 354.5L182.3 356.2M173.1 361.2L182.3 356.2M304.8 316.2L315.1 314.2M308.2 322.1L315.1 314.2M432.7 263.7L442.3 267.8M432.1 270.5L442.3 267.8M533.3 327.6L525.5 334.5M527.3 324.2L525.5 334.5M420.2 409L409.7 410M417.3 402.8L409.7 410M202.6 367.8L213 369.2M203.9 374.5L213 369.2M332.1 318.6L342 315.2M336.3 324L342 315.2M457.6 274.1L467.1 278.4M456.9 280.9L467.1 278.4M478.4 372.1L468.2 374.8M474.5 366.4L468.2 374.8M351.3 429.1L340.8 429.4M348.8 422.7L340.8 429.4M231.6 383.3L242 384.7M232.9 390L242 384.7M343.1 308.4L351.9 302.7M348.4 312.6L351.9 302.7M479.3 302.5L480.8 312.9M473.2 305.6L480.8 312.9M394.1 400L383.6 400.9M391.3 393.7L383.6 400.9M262.1 392.8L272.5 391.9M264.9 399.1L272.5 391.9M366 302.1L376.5 302.4M368 308.6L376.5 302.4M473.7 343.1L464.2 347.4M469 338.1L464.2 347.4M852.5 107.2L846.3 98.7M856.4 101.6L846.3 98.7M833 145.3L826.7 136.8M836.9 139.7L826.7 136.8M771.9 34.2L778.8 26.3M778.2 36.8L778.8 26.3M815 184.8L808.6 176.5M818.8 179.1L808.6 176.5M732 83.9L732.7 73.5M738.6 82.1L732.7 73.5M795.7 209.1L789.5 200.6M799.6 203.5L789.5 200.6M710.8 108L710.8 97.5M717.3 105.7L710.8 97.5M776.2 235.8L770.2 227.1M780.2 230.3L770.2 227.1M693.7 134.6L693.1 124.1M700 132L693.1 124.1M781.5 274.6L774.5 266.8M784.8 268.6L774.5 266.8M769.7 328.9L759.3 327.1M768.6 322.2L759.3 327.1M641.6 192.8L634.1 185.5M644.5 186.6L634.1 185.5M584.9 88.9L590.7 80.3M591.5 90.7L590.7 80.3M627.9 227.1L617.6 225.3M626.8 220.4L617.6 225.3M572.9 158.3L576.5 148.4M579.8 158.4L576.5 148.4M604.8 45.2L614.1 40.4M609.8 49.9L614.1 40.4M609.5 155L606.4 145M615 151L606.4 145M616.3 260.5L606 262.1M613.2 254.5L606 262.1M535.9 344.8L526.5 349.5M531 340L526.5 349.5M436.3 414.7L425.9 416.3M433.1 408.7L425.9 416.3M328.5 466.1L318.1 466.7M326 459.8L318.1 466.7M617.5 293.6L607.1 295.1M614.3 287.5L607.1 295.1M531.5 372.9L522.1 377.5M526.6 368.1L522.1 377.5M431.7 440.6L421.3 442.2M428.5 434.5L421.3 442.2M321 491.4L310.5 491.3M318.8 484.9L310.5 491.3M625.9 324.8L615.6 326.7M622.5 318.9L615.6 326.7M526.8 388.6L517 392.1M522.6 383.3L517 392.1M426.3 457.7L416 459.5M423 451.7L416 459.5M316.3 508L305.8 508M314.1 501.5L305.8 508M617.5 351.8L607.2 353.7M614.1 345.8L607.2 353.7M513.7 408.5L504.1 412.8M509 403.5L504.1 412.8M415.4 476.9L405.1 479M411.9 471.1L405.1 479M525.3 409.8L514.9 411.4M522.1 403.8L514.9 411.4M856.8 623.8L848.6 630.3M851.1 620.1L848.6 630.3M811.5 594.2L801.7 597.9M807.1 588.9L801.7 597.9M845.7 703L852.2 711.3M842 708.7L852.2 711.3M764.6 572.8L754.4 575.3M760.9 567.1L754.4 575.3M762.1 680.3L767.3 689.4M757.6 685.4L767.3 689.4M841 507.4L830.5 507.3M838.9 500.9L830.5 507.3M703.6 566.6L693.5 569.5M699.7 561L693.5 569.5M734.4 683.2L739.5 692.4M729.9 688.3L739.5 692.4M797.2 497.4L786.7 497.2M795.1 490.9L786.7 497.2M655.5 548.9L645.1 550.4M652.4 542.8L645.1 550.4M645.5 660.6L650.3 669.9M640.8 665.5L650.3 669.9M749.8 490.1L739.3 489.8M747.8 483.6L739.3 489.8M611.4 538.3L601.2 540.7M607.8 532.6L601.2 540.7M616 663.1L620.2 672.8M611 667.7L620.2 672.8M830.1 455.6L819.6 454.4M828.6 448.9L819.6 454.4M683.8 489.5L673.3 488.7M682.1 482.9L673.3 488.7M549.7 550.5L542.6 558.2M543.4 547.7L542.6 558.2M599.2 678.4L603.1 688.2M594.1 682.9L603.1 688.2M781.8 459.1L771.4 457.8M780.4 452.4L771.4 457.8M636 496.4L625.5 496M634 489.9L625.5 496M531.6 575.1L529.6 585.5M524.8 576.1L529.6 585.5M608.2 701.9L612.3 711.6M603.1 706.5L612.3 711.6M737.2 462.4L726.7 461.9M735.3 455.9L726.7 461.9M591 502.8L580.6 502.6M588.9 496.3L580.6 502.6M526.9 602.6L527.7 613.1M520.6 605.4L527.7 613.1M817.4 442.5L807.1 440.5M816.4 435.7L807.1 440.5M671 476.5L660.5 475.9M669.2 469.9L660.5 475.9M531 525L521.7 529.9M526 520.4L521.7 529.9M549.5 653.4L552.8 663.4M544 657.6L552.8 663.4M771.6 445.6L761.2 444.2M770.2 438.9L761.2 444.2M624.4 485.6L613.9 484.7M622.7 478.9L613.9 484.7M507.6 556.5L503.3 566.1M500.7 555.9L503.3 566.1M568 685.7L571.8 695.5M562.8 690.2L571.8 695.5M725.3 452L714.9 451.3M723.6 445.4L714.9 451.3M580 493.6L569.5 493.4M577.9 487.1L569.5 493.4M504 591.9L503.5 602.4M497.4 593.8L503.5 602.4M804.5 432.4L794.2 430.3M803.6 425.6L794.2 430.3M659.3 466.5L648.8 466.4M657.2 460L648.8 466.4M519.7 515.5L510.1 519.6M515.1 510.4L510.1 519.6M522.8 646.1L525.8 656.1M517.3 650L525.8 656.1M760.1 435.2L749.7 433.9M758.8 428.5L749.7 433.9M615.5 476.9L605 476.2M613.7 470.3L605 476.2M492 544.9L486.1 553.6M485.4 543.1L486.1 553.6M537.9 676L541.5 685.8M532.6 680.3L541.5 685.8M841.7 415.7L831.6 413M841.3 408.9L831.6 413M696 442.4L685.5 442.3M693.8 435.9L685.5 442.3M553.3 486.9L542.8 487.3M550.8 480.6L542.8 487.3M483 597.4L482.5 607.9M476.5 599.3L482.5 607.9M794.3 409.6L784.1 407.2M793.6 402.8L784.1 407.2M652.3 450.8L641.8 450.6M650.2 444.3L641.8 450.6M511.9 498.1L501.8 501M507.9 492.5L501.8 501M486.2 628.2L488.3 638.5M480.3 631.7L488.3 638.5M749.2 406.6L738.7 406M747.3 400L738.7 406M606.3 458L595.8 457.3M604.4 451.4L595.8 457.3M477.8 521.2L469.8 528M471.9 517.7L469.8 528M493.9 655.6L496.8 665.7M488.3 659.5L496.8 665.7M829.6 389.7L819.7 386.1M829.7 382.9L819.7 386.1M686.2 420.6L675.8 422.5M682.7 414.6L675.8 422.5M545.7 468.4L535.2 468.7M543.3 462L535.2 468.7M452.8 570.6L449.3 580.5M446 570.5L449.3 580.5M517.6 698.8L521.3 708.6M512.3 703.2L521.3 708.6M782.1 380.9L771.8 378.7M781.3 374.2L771.8 378.7M645 432.7L634.5 432.4M643 426.2L634.5 432.4M502 477.5L491.8 479.8M498.4 471.6L491.8 479.8M449.7 603.1L449.6 613.6M443.2 605.3L449.6 613.6M739.4 382.2L729 382.7M736.9 375.9L729 382.7M599.3 438.1L588.9 436.9M597.9 431.4L588.9 436.9M466.2 495.4L457.5 501.2M460.8 491.2L457.5 501.2M453.5 633.3L455 643.7M447.5 636.5L455 643.7M819.6 360.2L809.7 356.7M819.6 353.4L809.7 356.7M679.3 402.4L668.9 403.7M676.3 396.3L668.9 403.7M534.5 441.7L524.1 441.2M532.6 435.1L524.1 441.2M436.1 540.8L430.7 549.8M429.4 539.4L430.7 549.8M471.7 678L474.8 688.1M466.2 682.1L474.8 688.1M771.9 353.2L761.5 352.3M770.3 346.6L761.5 352.3M637.9 413.7L627.4 413.7M635.7 407.2L627.4 413.7M494.5 448.9L484.4 451.8M490.6 443.3L484.4 451.8M423.4 572.8L419.9 582.7M416.6 572.7L419.9 582.7M480.8 703.5L484 713.4M475.3 707.6L484 713.4M524.1 352.2L514.6 356.6M519.4 347.3L514.6 356.6M421 444.1L413.5 451.5M414.8 441.1L413.5 451.5M417.6 576.4L418.5 586.9M411.3 579.2L418.5 586.9M501.1 686.3L506 695.6M496.4 691.3L506 695.6M484.9 375.5L475 379M480.6 370.1L475 379M396.7 479.2L391 488M390 477.6L391 488M409.7 613.5L411.4 623.8M403.7 616.7L411.4 623.8M442.4 397.3L432.6 400.9M438.1 392L432.6 400.9M380.8 513.3L376.8 523M374 512.9L376.8 523M407.1 647.2L409.6 657.4M401.4 650.9L409.6 657.4M143.4 481.3L152.5 486.5M142.1 488L152.5 486.5M273.9 554.7L277.5 564.6M268.6 559L277.5 564.6M382.8 654.9L389.1 663.3M378.9 660.5L389.1 663.3M183.9 511.8L191.8 518.7M181.3 518.1L191.8 518.7M302.8 601.6L307.8 610.9M298.2 606.6L307.8 610.9M422.6 690.3L429.1 698.6M418.9 696.1L429.1 698.6M220.5 549L227.2 557.1M216.9 554.8L227.2 557.1M341.4 642.4L347.6 650.9M337.5 648L347.6 650.9M156.4 539.9L164.7 546.3M154.2 546.4L164.7 546.3M288.6 612.9L294.8 621.4M284.7 618.5L294.8 621.4M410.7 698L417.3 706.2M407.1 703.8L417.3 706.2M195.2 574L202.7 581.4M192.2 580.2L202.7 581.4M324.3 653.2L330.6 661.5M320.4 658.8L330.6 661.5M233.1 611.3L240 619.1M229.7 617.2L240 619.1M361 690.8L367.8 698.9M357.5 696.7L367.8 698.9M170.5 600.9L178.7 607.6M168.2 607.4L178.7 607.6M302.8 668L309.5 676.1M299.3 673.8L309.5 676.1M206.2 639.1L213.7 646.3M203.3 645.3L213.7 646.3M243.2 680.9L250.1 688.7M239.8 686.8L250.1 688.7M182.1 678.4L190 685.4M179.5 684.7L190 685.4M214.5 440.3L222.2 447.5M211.7 446.6L222.2 447.5M193.3 458L201.2 464.9M190.7 464.3L201.2 464.9M192.2 476.6L199.8 483.9M189.3 482.8L199.8 483.9M297.2 585.3L301.5 594.9M292.2 590L301.5 594.9M193.6 410.3L204 412M194.8 417L204 412M336.2 492.8L325.8 491.8M334.6 486.2L325.8 491.8M332.8 502.8L322.3 502.2M330.9 496.2L322.3 502.2M345.5 517.9L335.5 521.1M341.4 512.4L335.5 521.1M353.9 545.8L344.8 551.1M348.7 541.3L344.8 551.1M364.7 440.7L354.3 439.6M363.2 434.1L354.3 439.6M359.3 457.8L348.9 456.1M358.1 451.1L348.9 456.1M352.9 471.9L342.6 470M351.8 465.1L342.6 470M385.1 379.8L392.5 387.2M382.1 385.9L392.5 387.2"/>
<path d="M616.4 102.1A162.0 162.0 0 0 1 523 412.3M465.9 317.1A162.0 162.0 0 0 0 371.1 626.9" fill="none" stroke="#fff" stroke-width="7.3"/>
<circle cx="401" cy="387" r="3" fill="#000"/><circle cx="690" cy="206" r="1.6" fill="#000"/>
</g>
<rect x="100" y="8" width="3.5" height="711.5" fill="#000"/>
<rect x="100" y="715.5" width="780" height="4" fill="#000"/>
<rect x="103.5" y="12.1" width="8.5" height="1" fill="#000"/>
<rect x="103.5" y="31.3" width="16.4" height="4" fill="#000"/>
<rect x="103.5" y="53.5" width="8.5" height="1" fill="#000"/>
<rect x="103.5" y="74.2" width="8.5" height="1" fill="#000"/>
<rect x="103.5" y="94.9" width="8.5" height="1" fill="#000"/>
<rect x="103.5" y="114.1" width="16.4" height="4" fill="#000"/>
<rect x="103.5" y="136.3" width="8.5" height="1" fill="#000"/>
<rect x="103.5" y="157" width="8.5" height="1" fill="#000"/>
<rect x="103.5" y="177.7" width="8.5" height="1" fill="#000"/>
<rect x="103.5" y="196.9" width="16.4" height="4" fill="#000"/>
<rect x="103.5" y="219.1" width="8.5" height="1" fill="#000"/>
<rect x="103.5" y="239.8" width="8.5" height="1" fill="#000"/>
<rect x="103.5" y="260.5" width="8.5" height="1" fill="#000"/>
<rect x="103.5" y="279.7" width="16.4" height="4" fill="#000"/>
<rect x="103.5" y="301.9" width="8.5" height="1" fill="#000"/>
<rect x="103.5" y="322.6" width="8.5" height="1" fill="#000"/>
<rect x="103.5" y="343.3" width="8.5" height="1" fill="#000"/>
<rect x="103.5" y="362.5" width="16.4" height="4" fill="#000"/>
<rect x="103.5" y="384.7" width="8.5" height="1" fill="#000"/>
<rect x="103.5" y="405.4" width="8.5" height="1" fill="#000"/>
<rect x="103.5" y="426.1" width="8.5" height="1" fill="#000"/>
<rect x="103.5" y="445.3" width="16.4" height="4" fill="#000"/>
<rect x="103.5" y="467.5" width="8.5" height="1" fill="#000"/>
<rect x="103.5" y="488.2" width="8.5" height="1" fill="#000"/>
<rect x="103.5" y="508.9" width="8.5" height="1" fill="#000"/>
<rect x="103.5" y="528.1" width="16.4" height="4" fill="#000"/>
<rect x="103.5" y="550.3" width="8.5" height="1" fill="#000"/>
<rect x="103.5" y="571" width="8.5" height="1" fill="#000"/>
<rect x="103.5" y="591.7" width="8.5" height="1" fill="#000"/>
<rect x="103.5" y="610.9" width="16.4" height="4" fill="#000"/>
<rect x="103.5" y="633.1" width="8.5" height="1" fill="#000"/>
<rect x="103.5" y="653.8" width="8.5" height="1" fill="#000"/>
<rect x="103.5" y="674.5" width="8.5" height="1" fill="#000"/>
<rect x="103.5" y="693.7" width="16.4" height="4" fill="#000"/>
<rect x="121" y="708.5" width="1" height="7" fill="#000"/>
<rect x="162.4" y="708.5" width="1" height="7" fill="#000"/>
<rect x="203.7" y="708.5" width="1" height="7" fill="#000"/>
<rect x="245.1" y="708.5" width="1" height="7" fill="#000"/>
<rect x="285.3" y="700.3" width="3.2" height="15.2" fill="#000"/>
<rect x="327.7" y="708.5" width="1" height="7" fill="#000"/>
<rect x="369.1" y="708.5" width="1" height="7" fill="#000"/>
<rect x="410.4" y="708.5" width="1" height="7" fill="#000"/>
<rect x="451.8" y="708.5" width="1" height="7" fill="#000"/>
<rect x="492" y="700.3" width="3.2" height="15.2" fill="#000"/>
<rect x="534.4" y="708.5" width="1" height="7" fill="#000"/>
<rect x="575.8" y="708.5" width="1" height="7" fill="#000"/>
<rect x="617.1" y="708.5" width="1" height="7" fill="#000"/>
<rect x="658.5" y="708.5" width="1" height="7" fill="#000"/>
<rect x="698.7" y="700.3" width="3.2" height="15.2" fill="#000"/>
<rect x="741.1" y="708.5" width="1" height="7" fill="#000"/>
<rect x="782.5" y="708.5" width="1" height="7" fill="#000"/>
<rect x="823.8" y="708.5" width="1" height="7" fill="#000"/>
<rect x="865.2" y="708.5" width="1" height="7" fill="#000"/>
<text transform="translate(90 43.1) scale(0.96 1)" font-size="27.4" text-anchor="end">-0.08</text>
<text transform="translate(90 125.9) scale(0.96 1)" font-size="27.4" text-anchor="end">-0.06</text>
<text transform="translate(90 208.7) scale(0.96 1)" font-size="27.4" text-anchor="end">-0.04</text>
<text transform="translate(90 291.5) scale(0.96 1)" font-size="27.4" text-anchor="end">-0.02</text>
<text transform="translate(90 374.3) scale(0.96 1)" font-size="27.4" text-anchor="end">0</text>
<text transform="translate(90 457.1) scale(0.96 1)" font-size="27.4" text-anchor="end">0.02</text>
<text transform="translate(90 539.9) scale(0.96 1)" font-size="27.4" text-anchor="end">0.04</text>
<text transform="translate(90 622.7) scale(0.96 1)" font-size="27.4" text-anchor="end">0.06</text>
<text transform="translate(90 705.5) scale(0.96 1)" font-size="27.4" text-anchor="end">0.08</text>
<text transform="translate(286.9 745.5) scale(0.96 1)" font-size="27.4" text-anchor="middle">-0.05</text>
<text transform="translate(493.6 745.5) scale(0.96 1)" font-size="27.4" text-anchor="middle">0</text>
<text transform="translate(700.3 745.5) scale(0.96 1)" font-size="27.4" text-anchor="middle">0.05</text>
<text transform="translate(39.5 365) rotate(-90)" font-size="31.5" font-weight="bold" text-anchor="middle">Z</text>
<text x="490" y="778" font-size="31.5" font-weight="bold" text-anchor="middle">X</text>
<text class="s" x="509" y="850" text-anchor="middle"><tspan font-size="60">(</tspan><tspan font-size="55" font-weight="bold">a</tspan><tspan font-size="60">)</tspan></text>
<text class="s" x="886" y="165.8" font-size="35.5" font-weight="bold" textLength="126.5" lengthAdjust="spacingAndGlyphs">Unit: Pa</text>
<rect x="903.6" y="180" width="33.8" height="13.4" fill="#ff0000"/>
<rect x="903.6" y="193.4" width="33.8" height="27.7" fill="#ff4000"/>
<rect x="903.6" y="221.1" width="33.8" height="27.7" fill="#ff8000"/>
<rect x="903.6" y="248.8" width="33.8" height="27.7" fill="#ffbf00"/>
<rect x="903.6" y="276.4" width="33.8" height="27.7" fill="#ffff00"/>
<rect x="903.6" y="304.1" width="33.8" height="27.7" fill="#bfff00"/>
<rect x="903.6" y="331.8" width="33.8" height="27.7" fill="#80ff00"/>
<rect x="903.6" y="359.5" width="33.8" height="27.7" fill="#40ff00"/>
<rect x="903.6" y="387.2" width="33.8" height="27.7" fill="#00ff00"/>
<rect x="903.6" y="414.8" width="33.8" height="27.7" fill="#00ff40"/>
<rect x="903.6" y="442.5" width="33.8" height="27.7" fill="#00ff80"/>
<rect x="903.6" y="470.2" width="33.8" height="27.7" fill="#00ffbf"/>
<rect x="903.6" y="497.9" width="33.8" height="27.7" fill="#00ffff"/>
<rect x="903.6" y="525.6" width="33.8" height="27.7" fill="#00bfff"/>
<rect x="903.6" y="553.2" width="33.8" height="27.7" fill="#0080ff"/>
<rect x="903.6" y="580.9" width="33.8" height="27.7" fill="#0040ff"/>
<rect x="903.6" y="608.6" width="33.8" height="13.7" fill="#0000ff"/>
<path d="M903.6 193.4H937.4M903.6 221.1H937.4M903.6 248.8H937.4M903.6 276.4H937.4M903.6 304.1H937.4M903.6 331.8H937.4M903.6 359.5H937.4M903.6 387.2H937.4M903.6 414.8H937.4M903.6 442.5H937.4M903.6 470.2H937.4M903.6 497.9H937.4M903.6 525.6H937.4M903.6 553.2H937.4M903.6 580.9H937.4M903.6 608.6H937.4" stroke="#000" stroke-width="1" fill="none"/>
<rect x="903.6" y="180" width="33.8" height="442.3" fill="none" stroke="#000" stroke-width="1"/>
<text x="955.2" y="206.3" font-size="23.8">65</text>
<text x="955.2" y="234" font-size="23.8">60</text>
<text x="955.2" y="261.7" font-size="23.8">55</text>
<text x="955.2" y="289.3" font-size="23.8">50</text>
<text x="955.2" y="317" font-size="23.8">45</text>
<text x="955.2" y="344.7" font-size="23.8">40</text>
<text x="955.2" y="372.4" font-size="23.8">35</text>
<text x="955.2" y="400.1" font-size="23.8">30</text>
<text x="955.2" y="427.7" font-size="23.8">25</text>
<text x="955.2" y="455.4" font-size="23.8">20</text>
<text x="955.2" y="483.1" font-size="23.8">15</text>
<text x="955.2" y="510.8" font-size="23.8">10</text>
<text x="955.2" y="538.5" font-size="23.8">5</text>
<text x="955.2" y="566.1" font-size="23.8">0</text>
<text x="946.1" y="593.8" font-size="23.8">-5</text>
<text x="946.1" y="621.5" font-size="23.8">-10</text>
<defs><clipPath id="clip1"><rect x="96.5" y="871" width="780" height="710.5"/></clipPath></defs>
<g clip-path="url(#clip1)">
<rect x="96.5" y="871" width="780" height="710.5" fill="#0088ff"/>
<path d="M96.5 1042.7 L110 1032.7 L123.5 1019.3 L143.7 1009.2 L167 997.5 L190.6 985.7 L224 979 L257.7 978.3 L284.5 975.7 L298 990.8 L318 1002.5 L338 1017.6 L350 1022.6 L372 1018 L392 1011 L392.9 1009.9 L405 1004.2 L417.6 999.9 L430.7 996.9 L443.9 995.3 L457.3 995.1 L470.6 996.3 L483.7 998.9 L496.5 1002.9 L508.8 1008.1 L520.4 1014.7 L531.3 1022.4 L541.4 1031.3 L550.4 1041.1 L558.4 1051.8 L565.2 1063.4 L570.7 1075.5 L574.9 1088.2 L577.8 1101.3 L579.3 1114.5 L579.4 1127.9 L578 1141.2 L575.3 1154.3 L571.2 1167 L565.9 1179.3 L559.2 1190.9 L551.4 1201.7 L542.5 1211.6 L532.5 1220.6 L521.7 1228.5 L510.2 1235.2 L507 1240.5 L490.4 1245.5 L463.5 1235.5 L440 1222 L426 1217 L427.2 1218.3 L415.6 1224.7 L404.7 1232.3 L394.7 1241 L385.6 1250.8 L377.6 1261.4 L370.8 1272.8 L365.1 1284.8 L360.8 1297.4 L357.8 1310.3 L356.2 1323.5 L356 1336.8 L357.1 1350.1 L359.7 1363.1 L363.6 1375.8 L368.8 1388.1 L375.2 1399.7 L366.7 1390.5 L361.6 1392.2 L344.9 1404 L324.7 1414 L314.7 1422.4 L301.3 1435.8 L281 1444.2 L261 1456 L237.6 1469.4 L224 1472.7 L200.7 1467.7 L173.8 1461 L147 1452.6 L123.5 1442.5 L110 1429 L96.5 1412.3Z" fill="#00ccff"/>
<path d="M517 1228.8 L507 1218.7 L487 1195.2 L463.5 1171.8 L430 1178.5 L420 1170 L408.6 1155 L398.5 1146.7 L385 1126.6 L375 1093 L373.4 1066.2 L381.7 1056 L393.5 1039.4 L391.8 1016 L392.9 1009.9 L404.7 1004.4 L416.9 1000.1 L429.6 997.1 L442.5 995.4 L455.5 995 L468.4 996 L481.2 998.3 L493.7 1001.9 L505.8 1006.7 L517.3 1012.8 L528.1 1020 L538.1 1028.2 L547.3 1037.5 L555.4 1047.6 L562.5 1058.5 L568.4 1070.1 L573.1 1082.2 L576.5 1094.7 L578.7 1107.5 L579.5 1120.5 L579 1133.5 L577.1 1146.4 L574 1159 L569.6 1171.2 L563.9 1182.9 L557.1 1194 L549.2 1204.3 L540.3 1213.8 L530.5 1222.3 L519.8 1229.7Z" fill="#00ffee"/>
<path d="M376.7 1250.6 L358.3 1242.9 L338.2 1244.9 L321.4 1259 L309.7 1287.5 L321.4 1309.3 L334.8 1331 L355 1336 L362 1338 L357 1310 L360 1285 L368 1262Z" fill="#00ffee"/>
<path d="M391.8 1005.8 L381.7 999 L379 980.7 L391.8 962.2 L401.9 942 L412 918.7 L430 908.6 L440 900.2 L460.2 912 L480.3 923.7 L498.7 937 L502 959 L508.8 979 L518.9 999 L530.6 1016 L544 1029.3 L564 1036 L581 1037.7 L584.3 1051 L597.7 1046 L614.4 1037.7 L627.9 1016 L639.6 997.5 L664.7 1005.8 L695 1012.6 L711.7 1022.6 L716.7 1046 L708.3 1066.2 L691.6 1083 L669.8 1094.7 L644.6 1089.7 L621.1 1079.6 L597.7 1076.3 L581 1079.6 L571 1069.6 L568.5 1070.3 L563.9 1061 L558.5 1052.1 L552.4 1043.6 L545.7 1035.7 L538.3 1028.4 L530.3 1021.7 L521.9 1015.6 L512.9 1010.3 L503.5 1005.7 L493.8 1001.9 L483.9 998.9 L473.7 996.8 L463.3 995.5 L452.9 995 L442.5 995.4 L432.2 996.6 L422 998.7 L412 1001.6 L402.3 1005.4 L392.9 1009.9Z" fill="#0044ff"/>
<path d="M386.8 1417.4 L388.5 1434 L393.5 1461 L398.5 1487.8 L412 1508 L425.3 1524.7 L430 1531.4 L456.8 1539.8 L487 1543 L520.5 1534.7 L529 1508 L537.3 1481 L544 1457.6 L554 1444.2 L543 1443 L542.5 1444.5 L533 1449.1 L523.2 1452.8 L513.1 1455.8 L502.8 1457.8 L492.3 1459.1 L481.8 1459.4 L471.3 1458.9 L460.8 1457.5 L450.6 1455.2 L440.5 1452.1 L430.7 1448.2 L421.3 1443.5 L412.3 1438 L403.8 1431.8 L395.9 1424.9 L388.5 1417.4Z" fill="#0044ff"/>
<path class="sl" d="M96.5 892C113.8 890.3 166.1 885 200 882C233.9 879 277.5 875.8 300 874C322.5 872.2 329.2 871.5 335 871M96.5 908C99.2 907.7 107.3 906.9 112.6 906.4C118 905.8 123.4 905.3 128.8 904.8C134.1 904.2 139.5 903.7 144.9 903.1C150.3 902.5 155.7 902 161 901.4C166.4 900.8 171.8 900.2 177.1 899.6C182.5 898.9 187.9 898.3 193.2 897.6C198.6 896.9 203.9 896.2 209.3 895.5C214.7 894.7 220 894 225.4 893.3C230.7 892.6 236.1 891.8 241.4 891.1C246.8 890.4 252.1 889.7 257.5 889.1C262.9 888.4 268.2 887.8 273.6 887.2C279 886.6 284.4 886 289.7 885.4C295.1 884.9 300.5 884.3 305.9 883.8C311.2 883.2 316.6 882.7 322 882.2C327.4 881.6 332.8 881.1 338.1 880.7C343.5 880.2 348.9 879.7 354.3 879.2C359.7 878.8 365.1 878.3 370.5 877.9C375.8 877.5 381.2 877.1 386.6 876.6C392 876.2 397.4 875.9 402.8 875.5C408.2 875.1 413.6 874.7 419 874.3C424.4 873.9 429.8 873.5 435.1 873.1C440.5 872.8 445.9 872.3 451.3 872C456.7 871.6 464.8 871.2 467.5 871M96.5 924C115.1 922 169.6 916.9 208 912C246.4 907.1 287.2 899.7 326.7 894.6C366.2 889.5 405.6 885.2 445 881.6C484.4 878 537.2 874.8 563 873C588.8 871.2 593.8 871.3 600 871M96.5 940.4C101.2 939.9 115.1 938.6 124.4 937.6C133.7 936.7 143 935.9 152.3 934.9C161.6 933.9 170.9 932.9 180.2 931.8C189.5 930.7 198.7 929.4 208 928C217.2 926.7 226.5 925.2 235.7 923.7C244.9 922.2 254.1 920.6 263.3 919C272.6 917.5 281.8 916 291 914.6C300.3 913.1 309.5 911.7 318.8 910.3C328 908.9 337.2 907.6 346.5 906.3C355.8 905 365 903.7 374.3 902.5C383.6 901.4 392.9 900.3 402.2 899.3C411.5 898.2 420.8 897.3 430.1 896.4C439.4 895.4 448.7 894.6 458 893.8C467.3 892.9 476.6 892.2 485.9 891.4C495.2 890.7 504.6 890 513.9 889.4C523.2 888.7 532.5 888.1 541.9 887.6C551.2 887 560.5 886.5 569.9 886.1C579.2 885.6 588.5 885.2 597.9 884.8C607.2 884.4 616.6 884 625.9 883.7C635.2 883.3 644.6 883 653.9 882.7C663.3 882.3 672.6 882 681.9 881.7C691.3 881.4 700.6 881 710 880.8C719.3 880.5 733.3 880.1 738 880M96.5 956.7C115.1 954.8 169.6 950.5 208 945C246.4 939.5 287.2 930.2 326.7 924C366.2 917.8 405.6 912 445 907.6C484.4 903.2 522.2 900.1 563 897.5C603.8 894.9 637.8 893.4 690 892C742.2 890.6 845 889.5 876 889M95.3 973.1C101 972.5 118 970.9 129.4 969.8C140.7 968.6 152 967.6 163.4 966.3C174.7 965 186 963.8 197.3 962.2C208.6 960.6 219.8 958.8 231 956.8C242.3 954.8 253.4 952.5 264.6 950.3C275.8 948.1 286.9 945.7 298.1 943.5C309.3 941.3 320.5 939.2 331.6 937C342.8 934.8 353.9 932.4 365 930.3C376.2 928.1 387.3 925.8 398.5 923.9C409.8 921.9 421 920.2 432.3 918.6C443.6 917.1 454.9 915.9 466.3 914.8C477.6 913.6 488.9 912.5 500.3 911.5C511.6 910.6 523 909.7 534.4 908.9C545.7 908.1 557.1 907.3 568.5 906.7C579.8 906 591.2 905.5 602.6 905.1C614 904.6 625.4 904.3 636.8 904C648.2 903.6 659.5 903.4 670.9 903.1C682.3 902.8 693.7 902.6 705.1 902.3C716.5 902.1 727.9 901.9 739.3 901.7C750.7 901.5 762.1 901.3 773.5 901.2C784.9 901 796.3 900.8 807.6 900.7C819 900.5 830.4 900.3 841.8 900.2C853.2 900 870.3 899.7 876 899.7M94.2 989.4C99.9 988.9 116.9 987.2 128.3 986C139.7 984.8 151 983.7 162.4 982.4C173.7 981.1 185.1 979.8 196.4 978.1C207.7 976.4 219 974.5 230.2 972.4C241.4 970.3 252.6 967.9 263.8 965.6C275 963.2 286.1 960.7 297.3 958.3C308.5 955.8 319.7 953.5 330.8 950.9C341.9 948.3 352.9 945.3 363.9 942.5C375 939.8 386 936.9 397.2 934.6C408.4 932.2 419.6 930.1 430.9 928.4C442.2 926.7 453.6 925.5 464.9 924.3C476.3 923.1 487.7 922.1 499.1 921.1C510.5 920.1 521.8 919.2 533.2 918.4C544.6 917.6 556.1 916.8 567.5 916.3C578.9 915.7 590.3 915.3 601.7 914.9C613.2 914.6 624.6 914.4 636 914.2C647.4 914 658.9 913.9 670.3 913.7C681.7 913.5 693.1 913.3 704.6 913.1C716 912.9 727.4 912.7 738.9 912.5C750.3 912.3 761.7 912.1 773.1 911.9C784.6 911.7 796 911.6 807.4 911.4C818.9 911.2 830.3 911 841.7 910.9C853.1 910.7 870.3 910.4 876 910.3M93 1005.8C112.2 1003.5 169.1 998.7 208 992C246.9 985.3 297.1 973 326.7 965.6C356.3 958.2 366.2 952.7 385.9 947.8C405.6 942.9 415.4 939.6 445 936C474.6 932.4 522.6 928 563.4 926C604.2 924 637.9 924.8 690 924C742.1 923.2 845 921.5 876 921M93 1021.9C98.7 1021.3 115.9 1019.5 127.3 1018.4C138.7 1017.2 150.2 1016 161.6 1014.7C173 1013.3 184.4 1012 195.8 1010.3C207.1 1008.5 218.5 1006.5 229.7 1004.2C241 1002 252.2 999.4 263.4 996.8C274.6 994.1 285.7 991.3 296.8 988.2C307.8 985.1 318.8 981.8 329.7 978.2C340.5 974.6 351.2 970.2 362 966.6C372.9 963 383.9 959.4 395 956.4C406 953.4 417.2 950.7 428.5 948.6C439.8 946.4 451.2 945.1 462.6 943.8C474 942.4 485.5 941.6 497 940.6C508.4 939.5 519.9 938.4 531.3 937.5C542.8 936.6 554.2 935.7 565.7 935.1C577.2 934.6 588.7 934.2 600.2 933.9C611.7 933.6 623.2 933.4 634.6 933.2C646.1 933 657.6 932.9 669.1 932.7C680.6 932.5 692.1 932.3 703.6 932.1C715.1 931.9 726.6 931.7 738.1 931.5C749.6 931.3 761.1 931.1 772.6 930.9C784.1 930.8 795.5 930.6 807 930.4C818.5 930.2 830 930 841.5 929.9C853 929.7 870.3 929.4 876 929.3M93 1037.9C98.7 1037.4 115.9 1035.7 127.4 1034.5C138.9 1033.3 150.3 1032.2 161.8 1030.9C173.2 1029.6 184.7 1028.3 196.1 1026.6C207.5 1024.8 218.8 1022.8 230.1 1020.5C241.4 1018.2 252.6 1015.5 263.8 1012.7C274.9 1009.9 286.1 1007 297.1 1003.5C308 999.9 318.7 995.8 329.4 991.6C340.1 987.5 350.5 982.4 361.3 978.4C372 974.4 383 970.8 394.1 967.6C405.1 964.3 416.3 961.3 427.5 959C438.8 956.6 450.2 955 461.7 953.6C473.1 952.2 484.6 951.6 496.1 950.5C507.6 949.4 519 948.1 530.5 947C542 946 553.4 945.1 564.9 944.4C576.5 943.8 588 943.4 599.5 943C611 942.5 622.5 942.2 634 941.9C645.6 941.6 657.1 941.4 668.6 941.1C680.1 940.9 691.6 940.6 703.2 940.4C714.7 940.2 726.2 940 737.7 939.8C749.3 939.6 760.8 939.4 772.3 939.2C783.8 939 795.3 938.9 806.9 938.7C818.4 938.5 829.9 938.4 841.4 938.2C853 938 870.2 937.8 876 937.7M93 1054C112.2 1051.8 174 1046.9 208 1041C242 1035.1 272.3 1027 297 1018.8C321.7 1010.6 339.2 998.9 356 992C372.8 985.1 382.9 981.8 397.7 977.4C412.5 973 427.3 968.5 445 965.6C462.7 962.7 484.3 961.7 504 959.7C523.7 957.7 532 955.6 563 953.8C594 952 637.8 950.3 690 949C742.2 947.7 845 946.5 876 946M93 1071C98.8 1070.5 116.2 1068.9 127.7 1067.9C139.3 1066.8 150.9 1065.8 162.5 1064.6C174 1063.4 185.6 1062.3 197.1 1060.6C208.6 1059 220.1 1057.1 231.5 1054.8C242.9 1052.5 254.2 1049.9 265.4 1046.9C276.6 1043.8 287.9 1040.6 298.7 1036.4C309.5 1032.2 319.9 1026.9 330.2 1021.6C340.5 1016.3 350.5 1010.2 360.7 1004.9C370.9 999.5 381 993.9 391.7 989.5C402.3 985 413.4 981.1 424.6 978.4C435.8 975.6 447.5 974.2 459 973C470.6 971.9 482.2 971.9 493.8 971.6C505.4 971.3 517 971.1 528.5 971.2C540.1 971.3 551.6 972.2 563.1 972.2C574.7 972.3 586.4 972.1 597.9 971.5C609.5 970.9 621.1 969.5 632.6 968.4C644.2 967.4 655.7 966.1 667.3 965C678.8 963.9 690.3 962.7 701.9 961.8C713.5 960.9 725.1 960.2 736.7 959.5C748.3 958.8 759.9 958.1 771.5 957.5C783.1 956.9 794.7 956.4 806.3 956C817.9 955.5 829.5 955.2 841.1 954.9C852.8 954.6 870.2 954.2 876 954M93 1088C112.2 1086.2 175.2 1082 208 1077C240.8 1072 267.2 1065.8 290 1058C312.8 1050.2 329.2 1039.2 345 1030C360.8 1020.8 372.5 1010 385 1003C397.5 996 405.8 991.5 420 988C434.2 984.5 451.7 982.3 470 982C488.3 981.7 511.7 984.3 530 986C548.3 987.7 561.7 992.2 580 992C598.3 991.8 620 987.8 640 985C660 982.2 675 978.2 700 975C725 971.8 760.7 968.2 790 966C819.3 963.8 861.7 962.7 876 962M430 871C451.7 871.8 515 874.7 560 876C605 877.3 647.3 878.7 700 879C752.7 879.3 846.7 878.2 876 878M600 905C616.7 905.2 666.7 905.5 700 906C733.3 906.5 770.7 907.7 800 908C829.3 908.3 863.3 908 876 908M520 940C540 939.5 600 937.8 640 937C680 936.2 720.7 935.3 760 935C799.3 934.7 856.7 935 876 935M93 1104C112.2 1102.3 175.2 1098.3 208 1094C240.8 1089.7 267.2 1085.3 290 1078C312.8 1070.7 330.8 1058.8 345 1050C359.2 1041.2 367.2 1031.3 375 1025C382.8 1018.7 389.2 1014.2 392 1012M420 992.2C434.8 993.2 488 992.7 508.8 998.1C529.5 1003.6 532.4 1020.8 544.3 1024.8C556.1 1028.7 567.9 1026.2 579.8 1021.8C591.6 1017.4 597.5 1004.5 615.3 998.1C633 991.7 659.6 987.3 686.3 983.3C712.9 979.4 743.5 976.4 775 974.5C806.6 972.5 858.9 972 875.6 971.5M96.5 1113C113.8 1111.7 169.4 1107.7 200 1105C230.6 1102.3 258.3 1099.6 280 1097C301.7 1094.4 314.3 1094.2 330 1089.5C345.7 1084.8 362.1 1076.7 374.4 1068.8C386.7 1060.9 395.1 1048.4 404 1042C412.9 1035.6 419.2 1033.2 427.6 1030.3C436 1027.4 444.9 1025.4 454.3 1024.4C463.7 1023.4 474 1022.7 483.8 1024.4C493.6 1026.1 504.5 1030.3 513.4 1034.7C522.3 1039.1 533.1 1048.3 537 1051M96.5 1121C100.1 1120.7 110.9 1120 118.1 1119.5C125.3 1119 132.5 1118.5 139.7 1118C146.9 1117.5 154.1 1117 161.3 1116.4C168.5 1115.9 175.7 1115.3 182.9 1114.8C190.1 1114.2 197.3 1113.5 204.5 1112.9C211.7 1112.2 218.9 1111.5 226.1 1110.7C233.3 1110 240.4 1109.2 247.6 1108.3C254.8 1107.5 261.9 1106.7 269.1 1105.7C276.3 1104.7 283.4 1103.6 290.5 1102.6C297.7 1101.5 304.8 1100.5 311.9 1099.5C319.1 1098.4 326.3 1097.8 333.4 1096.3C340.4 1094.7 347.4 1092.7 354.1 1090.2C360.9 1087.8 367.5 1084.7 374 1081.7C380.6 1078.7 387.2 1075.6 393.4 1072.3C399.7 1068.9 405.5 1065 411.6 1061.6C417.6 1058.3 423.2 1054.5 429.5 1052.2C435.8 1049.9 442.8 1048.5 449.4 1047.9C456 1047.2 462.9 1047.3 469.3 1048.1C475.8 1048.9 482 1050.6 487.9 1052.7C493.8 1054.7 499.5 1057.2 504.7 1060.5C509.9 1063.7 514.6 1067.9 518.9 1072.2C523.3 1076.5 527.2 1081.4 530.8 1086.4C534.3 1091.4 538.5 1099.6 540 1102.3M96.5 1129C100.3 1128.7 111.8 1128 119.5 1127.5C127.1 1127 134.8 1126.5 142.4 1126C150.1 1125.5 157.7 1125 165.3 1124.4C173 1123.9 180.6 1123.3 188.3 1122.7C195.9 1122 203.6 1121.3 211.2 1120.5C218.8 1119.8 226.4 1118.9 234 1118C241.7 1117.1 249.3 1116.2 256.9 1115.2C264.5 1114.2 272.1 1113.2 279.6 1112C287.2 1110.8 294.7 1109.3 302.3 1108C309.8 1106.7 317.3 1105.3 324.9 1104C332.4 1102.8 340.1 1102 347.6 1100.3C355 1098.6 362.4 1096.5 369.6 1093.9C376.8 1091.3 383.7 1087.8 390.8 1084.8C397.8 1081.9 404.9 1078.9 412 1076.1C419 1073.3 425.9 1070.4 432.9 1068.2C439.9 1066 446.9 1063.8 454 1063.1C461.1 1062.3 468.7 1062.6 475.7 1063.8C482.7 1064.9 489.9 1067.1 496.1 1070C502.3 1073 508.1 1077.2 513.1 1081.7C518.1 1086.1 522.7 1091.2 526.4 1096.7C530.1 1102.2 533 1108.3 535.4 1114.5C537.8 1120.7 539.6 1127.3 540.9 1133.8C542.2 1140.3 542.6 1150.3 543 1153.6M96.5 1137C113.8 1135.8 169.4 1132.8 200 1130C230.6 1127.2 258.3 1123.3 280 1120C301.7 1116.7 314.3 1113.1 330 1110C345.7 1106.9 359.6 1105.7 374.4 1101.3C389.2 1096.9 405.5 1088 418.8 1083.6C432.1 1079.2 443.5 1076.2 454.3 1074.7C465.1 1073.2 474 1073 483.8 1074.7C493.6 1076.4 505 1080.1 513.4 1085C521.8 1089.9 528.4 1096.6 534.1 1104.3C539.8 1112 544.5 1122 547.5 1130.9C550.5 1139.8 551.4 1148.1 551.9 1157.5C552.4 1166.9 551.4 1179.2 550.4 1187.1C549.4 1195 546.7 1201.9 546 1204.9M96.5 1150C113.8 1148.8 169.4 1145.8 200 1143C230.6 1140.2 258.3 1136.5 280 1133C301.7 1129.5 314.3 1125.8 330 1122C345.7 1118.2 359.6 1114.9 374.4 1110.2C389.2 1105.5 405.5 1097.9 418.8 1093.9C432.1 1090 443 1087.5 454.3 1086.5C465.6 1085.5 477 1086 486.8 1088C496.6 1090 506 1093.1 513.4 1098.3C520.8 1103.5 526.5 1111.1 531.2 1119C535.9 1126.9 539.5 1136.8 541.5 1145.7C543.5 1154.6 543.7 1162.4 543 1172.3C542.3 1182.2 541.6 1194.8 537.1 1204.9C532.6 1215 520 1223.5 516 1233C512 1242.5 513.8 1252.2 513 1262C512.2 1271.8 510.5 1280.3 511 1292C511.5 1303.7 512.7 1317.3 516 1332C519.3 1346.7 524.7 1365.7 531 1380C537.3 1394.3 544.7 1408.7 554 1418C563.3 1427.3 571 1430.3 587 1436C603 1441.7 619.5 1445.8 650 1452C680.5 1458.2 732.3 1466.7 770 1473C807.7 1479.3 858.3 1487.2 876 1490M96.5 1158.3C104.3 1157.8 127.9 1156.4 143.5 1155.4C159.2 1154.4 174.9 1153.4 190.5 1152.1C206.2 1150.8 221.8 1149.3 237.4 1147.5C253 1145.7 268.7 1143.9 284.1 1141.2C299.6 1138.6 315 1135.3 330.2 1131.7C345.5 1128.1 360.7 1124 375.8 1119.7C390.9 1115.4 405.4 1109 420.7 1105.8C436 1102.7 452.3 1099 467.4 1100.7C482.4 1102.3 500.1 1106.5 510.9 1115.9C521.6 1125.4 528.5 1142.6 531.8 1157.3C535.1 1172 533.7 1189.3 530.4 1204.1C527.1 1218.8 515.6 1231.2 512 1245.9C508.3 1260.7 508.1 1277.1 508.6 1292.6C509 1308.1 511 1324 514.6 1339.1C518.1 1354.3 522.8 1369.8 529.7 1383.5C536.6 1397.2 544.7 1411.8 556.1 1421.5C567.5 1431.1 583.4 1436.3 598 1441.5C612.6 1446.7 628.4 1449.4 643.8 1452.7C659.1 1456.1 674.6 1458.8 690 1461.6C705.5 1464.4 721 1467 736.5 1469.7C751.9 1472.3 767.4 1474.9 782.9 1477.5C798.4 1480.1 813.9 1482.5 829.5 1485C845 1487.5 868.2 1491.1 876 1492.3M96.5 1166.7C104.2 1166.2 127.2 1164.8 142.6 1163.8C158 1162.7 173.3 1161.8 188.7 1160.6C204 1159.3 219.4 1158 234.7 1156.3C250 1154.7 265.3 1153.1 280.5 1150.8C295.8 1148.5 310.9 1145.7 326 1142.5C341 1139.2 355.9 1135.2 370.8 1131.5C385.7 1127.7 400.3 1122.6 415.4 1119.8C430.5 1117.1 446.5 1113.4 461.2 1115C476 1116.7 493.5 1120.5 503.8 1129.8C514 1139.2 520 1156.6 522.6 1171.1C525.3 1185.6 522.4 1202.1 519.9 1216.9C517.3 1231.8 509.6 1245.4 507.2 1260.2C504.9 1275.1 504.7 1290.9 505.8 1306.1C507 1321.3 509.9 1336.7 514.2 1351.3C518.4 1366 523.5 1381.2 531.3 1394C539.1 1406.8 549 1419.4 561 1427.9C573 1436.5 588.8 1440.4 603.4 1445.1C618 1449.7 633.3 1452.4 648.3 1455.7C663.4 1458.9 678.6 1461.6 693.7 1464.4C708.9 1467.2 724 1469.8 739.2 1472.4C754.4 1475 769.6 1477.6 784.8 1480.2C799.9 1482.7 815.2 1485.1 830.4 1487.5C845.6 1489.9 868.4 1493.5 876 1494.7M96.5 1175C113.8 1173.8 169.4 1170.5 200 1168C230.6 1165.5 258.3 1162.7 280 1160C301.7 1157.3 314.3 1154.7 330 1151.6C345.7 1148.5 359.6 1144.4 374.4 1141.2C389.2 1138 405.5 1134.4 418.8 1132.4C432.1 1130.4 444.5 1129.4 454.3 1129.4C464.1 1129.4 471 1130.2 477.9 1132.4C484.8 1134.6 490.8 1138 495.7 1142.7C500.6 1147.4 504.6 1153.6 507.5 1160.5C510.4 1167.4 512.4 1176.2 513.4 1184.1C514.4 1192 514.1 1199.9 513.4 1207.8C512.7 1215.7 510.4 1222.8 509 1231.5C507.6 1240.2 506.3 1250.2 505 1260C503.7 1269.8 501 1278.3 501 1290C501 1301.7 501.8 1315 505 1330C508.2 1345 513.3 1365 520 1380C526.7 1395 535 1410 545 1420C555 1430 562.5 1433.7 580 1440C597.5 1446.3 618.3 1451.3 650 1458C681.7 1464.7 732.3 1473.5 770 1480C807.7 1486.5 858.3 1494.2 876 1497M96.5 1187.4C103.9 1187 126.2 1185.6 141 1184.6C155.8 1183.6 170.6 1182.7 185.5 1181.6C200.3 1180.5 215.1 1179.3 229.9 1177.9C244.7 1176.5 259.5 1175.2 274.2 1173.3C288.9 1171.4 303.6 1169.3 318.2 1166.6C332.8 1163.9 347.2 1160.2 361.8 1157.1C376.3 1154 390.8 1150.4 405.4 1148.1C420.1 1145.8 435.6 1141.6 449.6 1143.4C463.7 1145.1 480.7 1149.4 489.9 1158.8C499.1 1168.1 502.9 1185.5 504.8 1199.6C506.6 1213.8 502.5 1229.2 501.2 1243.9C499.9 1258.5 497.1 1273.2 497 1287.8C496.9 1302.4 497.9 1317.2 500.8 1331.3C503.7 1345.5 508.6 1359.7 514.5 1372.8C520.5 1385.9 527.1 1399.4 536.5 1410C545.8 1420.7 557.8 1430 570.6 1436.6C583.4 1443.2 598.8 1445.9 613.1 1449.7C627.4 1453.6 642 1456.5 656.6 1459.6C671.1 1462.7 685.7 1465.4 700.3 1468.2C714.9 1470.9 729.5 1473.5 744.2 1476.1C758.8 1478.7 773.4 1481.3 788 1483.9C802.7 1486.4 817.4 1488.8 832 1491.2C846.7 1493.6 868.7 1497.1 876 1498.3M96.5 1199.9C103.8 1199.4 125.7 1198 140.3 1197.1C154.9 1196.2 169.5 1195.3 184.1 1194.2C198.6 1193.1 213.2 1192 227.8 1190.6C242.3 1189.3 256.9 1188 271.4 1186.3C285.9 1184.5 300.4 1182.5 314.8 1179.9C329.2 1177.4 343.4 1173.9 357.8 1171C372.1 1168.1 386.3 1164.6 400.8 1162.3C415.2 1160.1 430.5 1155.4 444.2 1157.3C457.9 1159.2 474.5 1164.2 483.2 1173.8C491.8 1183.3 494.4 1200.3 496.1 1214.4C497.7 1228.4 493.8 1243.5 493 1257.9C492.3 1272.4 490.6 1286.9 491.5 1301.1C492.4 1315.3 494.5 1329.6 498.5 1343.1C502.5 1356.6 508.3 1370 515.3 1382C522.2 1394.1 530.1 1406.1 540.1 1415.6C550.1 1425.1 562.5 1432.9 575.4 1438.8C588.2 1444.7 603.3 1447.2 617.4 1450.8C631.6 1454.4 645.9 1457.5 660.2 1460.6C674.5 1463.6 688.9 1466.4 703.2 1469.1C717.6 1471.9 732 1474.5 746.3 1477.1C760.7 1479.8 775.1 1482.4 789.5 1484.9C803.9 1487.4 818.3 1489.9 832.8 1492.3C847.2 1494.8 868.8 1498.4 876 1499.7M96.5 1212.3C103.7 1211.8 125.2 1210.5 139.6 1209.6C153.9 1208.7 168.3 1207.8 182.7 1206.8C197 1205.7 211.4 1204.6 225.7 1203.4C240 1202.1 254.4 1200.9 268.7 1199.2C282.9 1197.5 297.2 1195.6 311.4 1193.2C325.6 1190.9 339.6 1187.7 353.7 1184.9C367.8 1182.1 381.9 1178.9 396.1 1176.6C410.3 1174.3 425.4 1169.2 438.8 1171.2C452.2 1173.3 468.3 1179.1 476.4 1188.8C484.5 1198.4 485.9 1215.2 487.4 1229.1C488.8 1243 485.1 1257.8 484.9 1272C484.7 1286.3 484.2 1300.6 486 1314.4C487.9 1328.2 491.2 1342.1 496.2 1354.9C501.2 1367.7 508.1 1380.2 516 1391.3C523.9 1402.3 533 1412.9 543.7 1421.2C554.4 1429.4 567.1 1435.9 580.1 1441C593.1 1446.1 607.8 1448.5 621.7 1451.9C635.7 1455.3 649.7 1458.5 663.8 1461.6C677.9 1464.6 692 1467.4 706.1 1470.1C720.3 1472.9 734.4 1475.5 748.5 1478.1C762.7 1480.8 776.8 1483.4 791 1486C805.2 1488.5 819.3 1491 833.5 1493.5C847.7 1496 868.9 1499.8 876 1501M96.5 1224.7C103.6 1224.3 124.8 1223 138.9 1222.1C153 1221.2 167.1 1220.3 181.3 1219.3C195.4 1218.3 209.5 1217.3 223.6 1216.1C237.7 1214.9 251.8 1213.7 265.9 1212.1C280 1210.6 294 1208.8 308 1206.6C322 1204.3 335.8 1201.4 349.7 1198.8C363.6 1196.2 377.5 1193.1 391.4 1190.8C405.4 1188.6 420.3 1183 433.3 1185.2C446.4 1187.4 462.1 1194 469.6 1203.8C477.2 1213.6 477.5 1230.1 478.7 1243.8C479.8 1257.6 476.4 1272.2 476.7 1286.1C477 1300.1 477.7 1314.2 480.6 1327.7C483.4 1341.1 487.8 1354.5 493.9 1366.6C499.9 1378.8 507.8 1390.5 516.7 1400.5C525.6 1410.6 535.9 1419.6 547.3 1426.7C558.6 1433.8 571.7 1438.8 584.9 1443.2C598 1447.6 612.3 1449.7 626.1 1453C639.8 1456.2 653.6 1459.6 667.4 1462.6C681.3 1465.6 695.2 1468.3 709 1471.1C722.9 1473.8 736.8 1476.5 750.7 1479.1C764.6 1481.8 778.6 1484.4 792.5 1487C806.4 1489.6 820.3 1492.1 834.2 1494.7C848.2 1497.3 869 1501.1 876 1502.3M96.5 1237.2C103.4 1236.7 124.3 1235.5 138.2 1234.6C152.1 1233.7 166 1232.9 179.9 1231.9C193.8 1230.9 207.6 1229.9 221.5 1228.8C235.4 1227.7 249.3 1226.6 263.1 1225.1C277 1223.6 290.8 1222 304.6 1219.9C318.3 1217.8 332 1215.2 345.7 1212.7C359.4 1210.3 373 1207.4 386.8 1205.1C400.5 1202.8 415.2 1196.9 427.9 1199.1C440.6 1201.4 455.9 1208.9 462.9 1218.8C469.9 1228.7 469 1245 470 1258.6C470.9 1272.1 467.7 1286.5 468.6 1300.2C469.4 1314 471.2 1327.9 475.1 1340.9C478.9 1354 484.5 1366.9 491.6 1378.4C498.6 1389.9 507.6 1400.8 517.5 1409.8C527.3 1418.8 538.9 1426.4 550.9 1432.3C562.9 1438.2 576.4 1441.7 589.6 1445.4C602.9 1449 616.8 1451 630.4 1454.1C644 1457.1 657.5 1460.6 671.1 1463.6C684.7 1466.6 698.3 1469.3 712 1472.1C725.6 1474.8 739.3 1477.5 752.9 1480.1C766.6 1482.8 780.3 1485.4 793.9 1488.1C807.6 1490.7 821.3 1493.3 835 1495.9C848.6 1498.5 869.2 1502.4 876 1503.7M96.5 1249.6C113.8 1248.5 169.4 1245.3 200 1243C230.6 1240.7 258.3 1238.4 280 1236C301.7 1233.6 314.3 1231 330 1228.5C345.7 1226 361.6 1223.5 374.4 1221C387.2 1218.5 398.1 1214.9 407 1213.7C415.9 1212.5 421.7 1212.7 427.6 1213.7C433.5 1214.7 437.9 1216.6 442.4 1219.6C446.8 1222.6 451 1227 454.3 1231.5C457.6 1236 460.9 1238.2 462 1246.3C463.1 1254.4 461.2 1267.7 461 1280C460.8 1292.3 459.2 1306.7 461 1320C462.8 1333.3 466 1346.7 472 1360C478 1373.3 487 1388.7 497 1400C507 1411.3 519.5 1420.8 532 1428C544.5 1435.2 556.5 1438.8 572 1443C587.5 1447.2 603.7 1448.5 625 1453C646.3 1457.5 658.2 1461.3 700 1470C741.8 1478.7 846.7 1499.2 876 1505M374.4 1056.9C378.3 1053.5 390.2 1042.1 398 1036.2C405.9 1030.3 413.3 1025.6 421.7 1021.4C430.1 1017.2 439 1013.3 448.3 1011.1C457.7 1008.8 468.1 1007.4 477.9 1008.1C487.8 1008.8 500.1 1012.7 507.5 1015.5C514.9 1018.3 519.8 1023.4 522.3 1025M374.4 1068.8C379.3 1064.3 395.1 1048.5 404 1042.1C412.8 1035.7 419.3 1033.3 427.6 1030.3C436 1027.3 444.9 1025.4 454.3 1024.4C463.6 1023.4 474 1022.7 483.8 1024.4C493.7 1026.1 505 1030.5 513.4 1034.7C521.8 1038.9 530.7 1047.1 534.1 1049.5M96.5 1262C113.8 1262 166.1 1260.7 200 1262C233.9 1263.3 273.7 1265.7 300 1270C326.3 1274.3 348.3 1285 358 1288M96.5 1280C113.8 1281.3 169.4 1284.2 200 1288C230.6 1291.8 258.3 1296.3 280 1303C301.7 1309.7 316.3 1316.8 330 1328C343.7 1339.2 352.8 1356.7 362 1370C371.2 1383.3 375.3 1395.5 385 1408C394.7 1420.5 405.8 1435.3 420 1445C434.2 1454.7 453.3 1462.2 470 1466C486.7 1469.8 505 1468.7 520 1468C535 1467.3 543.3 1462 560 1462C576.7 1462 596.7 1464 620 1468C643.3 1472 657.3 1478 700 1486C742.7 1494 846.7 1511 876 1516M96.5 1295C102.6 1295.5 120.9 1296.8 133.2 1297.8C145.4 1298.8 157.6 1299.7 169.8 1301C182 1302.3 194.2 1303.7 206.3 1305.6C218.4 1307.5 230.4 1309.6 242.4 1312.3C254.3 1314.9 266.3 1317.7 277.9 1321.6C289.5 1325.6 301.3 1329.8 311.7 1335.9C322.1 1342.1 331.8 1350 340.4 1358.5C349 1366.9 355.9 1377.1 363.3 1386.6C370.7 1396.1 377.1 1406.3 384.9 1415.4C392.7 1424.6 400.8 1434.2 410.1 1441.7C419.5 1449.3 430.2 1455.8 441.2 1460.8C452.2 1465.8 464.3 1469.4 476.2 1471.7C488.2 1474 500.6 1474.6 512.8 1474.5C525 1474.4 537 1471.7 549.2 1471.1C561.4 1470.6 573.7 1470.4 585.9 1471.2C598.1 1471.9 610.3 1473.5 622.4 1475.5C634.5 1477.4 646.4 1480.3 658.4 1482.7C670.4 1485.1 682.4 1487.7 694.5 1489.9C706.5 1492.1 718.6 1494 730.7 1496C742.8 1498 754.9 1499.9 767 1501.8C779.1 1503.8 791.3 1505.7 803.4 1507.6C815.5 1509.6 827.6 1511.5 839.7 1513.4C851.8 1515.4 869.9 1518.3 876 1519.2M96.5 1310C102.5 1310.5 120.6 1312.1 132.7 1313.3C144.7 1314.4 156.8 1315.4 168.8 1316.9C180.8 1318.4 192.8 1320 204.7 1322.2C216.6 1324.4 228.4 1326.9 240.2 1329.9C251.9 1332.8 263.6 1336 275 1340C286.3 1344.1 297.9 1348.4 308.4 1354.2C318.8 1360.1 328.7 1367.4 337.7 1375.1C346.8 1382.8 354.6 1391.9 362.8 1400.4C371 1408.9 378.6 1417.8 387.1 1426.1C395.6 1434.3 404.2 1443.1 413.9 1450C423.6 1456.8 434.4 1462.6 445.5 1467.1C456.6 1471.6 468.6 1474.7 480.4 1476.9C492.2 1479.2 504.4 1480.1 516.5 1480.5C528.5 1480.8 540.5 1479.1 552.5 1478.9C564.6 1478.7 576.7 1478.6 588.8 1479.3C600.9 1479.9 613 1481.3 624.9 1482.9C636.9 1484.6 648.8 1487 660.7 1489C672.6 1491 684.5 1493.2 696.4 1495.2C708.4 1497.1 720.4 1498.9 732.3 1500.7C744.3 1502.5 756.3 1504.3 768.3 1506.1C780.2 1507.9 792.2 1509.7 804.2 1511.5C816.1 1513.4 828.1 1515.2 840.1 1517C852.1 1518.8 870 1521.6 876 1522.5M96.5 1325C102.4 1325.6 120.3 1327.4 132.2 1328.7C144.1 1330 156 1331.1 167.8 1332.8C179.6 1334.5 191.5 1336.4 203.2 1338.8C214.8 1341.2 226.4 1344.2 237.9 1347.5C249.4 1350.7 260.9 1354.2 272 1358.4C283.2 1362.6 294.5 1367 305 1372.5C315.5 1378.1 325.5 1384.8 335.1 1391.7C344.6 1398.7 353.3 1406.8 362.3 1414.3C371.3 1421.8 380.1 1429.4 389.3 1436.7C398.6 1444 407.6 1452.1 417.7 1458.2C427.7 1464.3 438.7 1469.4 449.9 1473.4C461 1477.4 472.8 1480 484.6 1482.2C496.3 1484.4 508.3 1485.7 520.1 1486.4C532 1487.2 543.9 1486.5 555.9 1486.7C567.8 1486.8 579.8 1486.7 591.7 1487.3C603.6 1488 615.6 1489.1 627.4 1490.4C639.3 1491.8 651.1 1493.6 662.9 1495.3C674.8 1497 686.6 1498.8 698.4 1500.5C710.2 1502.2 722.1 1503.8 733.9 1505.4C745.8 1507.1 757.6 1508.7 769.5 1510.4C781.3 1512 793.1 1513.7 805 1515.4C816.8 1517.1 828.7 1518.9 840.5 1520.6C852.3 1522.3 870.1 1524.9 876 1525.8M96.5 1340C113.8 1342.5 166.1 1346.7 200 1355C233.9 1363.3 270 1375.8 300 1390C330 1404.2 356.7 1425.8 380 1440C403.3 1454.2 416.7 1466.3 440 1475C463.3 1483.7 490 1488.3 520 1492C550 1495.7 581.7 1493.7 620 1497C658.3 1500.3 707.3 1506.7 750 1512C792.7 1517.3 855 1526.2 876 1529M96.5 1358C102.3 1358.7 119.8 1360.9 131.4 1362.5C143.1 1364 154.8 1365.5 166.3 1367.4C177.9 1369.4 189.5 1371.5 200.9 1374.2C212.3 1377 223.6 1380.3 234.8 1383.8C246 1387.3 257.1 1391.1 268.1 1395.2C279.1 1399.3 290.1 1403.6 300.8 1408.5C311.4 1413.4 321.7 1418.9 331.9 1424.6C342.1 1430.3 351.9 1436.7 362 1442.5C372.1 1448.4 382.3 1454 392.5 1459.7C402.7 1465.3 412.5 1471.6 423.1 1476.4C433.7 1481.1 444.9 1485 456.1 1488.2C467.4 1491.3 479 1493.4 490.6 1495.4C502.1 1497.4 513.8 1499 525.5 1500.2C537.2 1501.4 548.9 1502 560.6 1502.6C572.4 1503.2 584.1 1503.3 595.8 1504C607.6 1504.6 619.3 1505.5 631 1506.5C642.7 1507.5 654.4 1508.8 666 1510C677.7 1511.2 689.4 1512.5 701.1 1513.8C712.7 1515.1 724.4 1516.4 736.1 1517.7C747.8 1519 759.4 1520.3 771.1 1521.7C782.8 1523 794.4 1524.5 806.1 1525.9C817.7 1527.3 829.4 1528.7 841 1530.1C852.7 1531.5 870.2 1533.7 876 1534.4M96.5 1376C102.3 1376.8 119.6 1379.2 131.2 1380.9C142.8 1382.6 154.3 1384.1 165.8 1386.1C177.3 1388.2 188.8 1390.3 200.2 1393.1C211.5 1395.8 222.8 1399 233.9 1402.5C245.1 1405.9 256.2 1409.7 267.2 1413.6C278.2 1417.6 289.1 1421.6 299.8 1426.1C310.6 1430.7 321.1 1435.7 331.5 1440.8C341.8 1446 351.9 1451.7 362.2 1456.9C372.5 1462.1 383 1467.1 393.4 1472C403.8 1476.9 414 1482.2 424.8 1486.3C435.6 1490.4 446.8 1493.8 458 1496.6C469.3 1499.5 480.9 1501.4 492.4 1503.3C503.9 1505.2 515.5 1506.8 527.1 1508.1C538.8 1509.3 550.4 1510 562.1 1510.8C573.7 1511.5 585.4 1511.8 597.1 1512.6C608.7 1513.3 620.4 1514.1 632 1515.1C643.7 1516.1 655.3 1517.2 666.9 1518.3C678.5 1519.4 690.2 1520.6 701.8 1521.7C713.4 1522.9 725 1524 736.6 1525.2C748.3 1526.4 759.9 1527.5 771.5 1528.7C783.1 1529.9 794.7 1531.1 806.3 1532.4C818 1533.6 829.6 1534.8 841.2 1536.1C852.8 1537.3 870.2 1539.2 876 1539.8M96.5 1394C102.2 1394.9 119.5 1397.5 130.9 1399.3C142.4 1401.1 153.9 1402.8 165.3 1404.9C176.8 1407 188.2 1409.2 199.5 1411.9C210.8 1414.6 222 1417.8 233.1 1421.2C244.2 1424.5 255.2 1428.2 266.2 1432C277.2 1435.8 288.2 1439.6 298.9 1443.8C309.7 1448 320.4 1452.5 331 1457.1C341.6 1461.6 351.9 1466.7 362.4 1471.3C373 1475.8 383.6 1480.2 394.3 1484.4C405 1488.6 415.5 1492.8 426.5 1496.3C437.4 1499.7 448.7 1502.6 460 1505.1C471.3 1507.6 482.8 1509.4 494.3 1511.2C505.7 1513 517.3 1514.6 528.8 1515.9C540.3 1517.2 551.9 1518.1 563.5 1518.9C575.1 1519.8 586.7 1520.3 598.3 1521.1C609.9 1521.9 621.5 1522.8 633.1 1523.7C644.6 1524.6 656.2 1525.7 667.8 1526.7C679.4 1527.7 690.9 1528.7 702.5 1529.7C714.1 1530.7 725.6 1531.7 737.2 1532.7C748.8 1533.7 760.4 1534.7 771.9 1535.8C783.5 1536.8 795.1 1537.8 806.6 1538.9C818.2 1539.9 829.7 1541 841.3 1542C852.9 1543.1 870.2 1544.7 876 1545.2M96.5 1412C102.2 1412.9 119.3 1415.7 130.7 1417.7C142.1 1419.6 153.5 1421.4 164.8 1423.6C176.2 1425.8 187.5 1428 198.8 1430.7C210 1433.4 221.1 1436.6 232.2 1439.9C243.3 1443.2 254.2 1446.8 265.2 1450.4C276.2 1454 287.2 1457.7 298 1461.5C308.9 1465.3 319.7 1469.3 330.5 1473.3C341.3 1477.3 351.9 1481.7 362.6 1485.7C373.4 1489.6 384.3 1493.3 395.2 1496.7C406.1 1500.2 417.1 1503.4 428.2 1506.2C439.3 1509 450.6 1511.4 461.9 1513.6C473.2 1515.7 484.7 1517.5 496.1 1519.2C507.5 1520.8 519 1522.4 530.5 1523.7C541.9 1525 553.5 1526.1 565 1527.1C576.5 1528.1 588 1528.8 599.5 1529.7C611 1530.6 622.6 1531.4 634.1 1532.3C645.6 1533.2 657.1 1534.1 668.6 1535C680.2 1535.9 691.7 1536.8 703.2 1537.7C714.7 1538.5 726.3 1539.4 737.8 1540.2C749.3 1541.1 760.8 1542 772.3 1542.8C783.9 1543.7 795.4 1544.5 806.9 1545.4C818.4 1546.3 829.9 1547.1 841.4 1548C853 1548.9 870.2 1550.2 876 1550.6M96.5 1430C113.8 1433.3 166.1 1441.7 200 1450C233.9 1458.3 266.7 1470 300 1480C333.3 1490 363.3 1501.7 400 1510C436.7 1518.3 478.3 1524.7 520 1530C561.7 1535.3 590.7 1537.7 650 1542C709.3 1546.3 838.3 1553.7 876 1556M96.5 1450C102.1 1451 119.1 1454 130.4 1456.1C141.6 1458.1 152.9 1460.1 164.2 1462.4C175.4 1464.6 186.7 1466.8 197.8 1469.5C209 1472.2 220.1 1475.2 231.1 1478.3C242.1 1481.5 253 1485 264 1488.3C275 1491.6 286 1494.9 297 1498.2C308 1501.4 319 1504.6 330 1507.7C341 1510.9 352 1514.2 363.1 1517.2C374.2 1520.1 385.3 1522.9 396.5 1525.3C407.7 1527.7 419 1529.7 430.3 1531.6C441.6 1533.6 453 1535.3 464.3 1536.9C475.7 1538.6 487 1540 498.4 1541.4C509.8 1542.8 521.2 1544.2 532.6 1545.4C544 1546.6 555.4 1547.7 566.8 1548.7C578.2 1549.8 589.7 1550.6 601.1 1551.4C612.6 1552.2 624 1552.9 635.5 1553.6C646.9 1554.3 658.4 1555 669.8 1555.6C681.3 1556.2 692.7 1556.8 704.2 1557.3C715.6 1557.9 727.1 1558.4 738.5 1558.9C750 1559.5 761.4 1560 772.9 1560.5C784.3 1561 795.8 1561.5 807.3 1562C818.7 1562.5 830.2 1563 841.6 1563.5C853.1 1564 870.3 1564.7 876 1565M96.5 1470C113.8 1473.3 166.1 1482 200 1490C233.9 1498 266.7 1509.3 300 1518C333.3 1526.7 363.3 1535.3 400 1542C436.7 1548.7 478.3 1553.8 520 1558C561.7 1562.2 590.7 1564.3 650 1567C709.3 1569.7 838.3 1572.8 876 1574M96.5 1485C100.7 1485.8 113.3 1488.1 121.8 1489.6C130.2 1491.2 138.6 1492.7 147 1494.3C155.4 1495.9 163.8 1497.6 172.2 1499.4C180.6 1501.2 188.9 1503.3 197.2 1505.3C205.5 1507.4 213.7 1509.7 222 1511.8C230.3 1514 238.6 1516.1 246.9 1518.2C255.2 1520.4 263.5 1522.4 271.8 1524.5C280.1 1526.6 288.4 1528.8 296.7 1530.8C305 1532.8 313.4 1534.7 321.7 1536.5C330.1 1538.3 338.5 1539.9 346.9 1541.5C355.3 1543.1 363.7 1544.5 372.2 1546C380.6 1547.4 389.1 1548.7 397.5 1550C406 1551.2 414.4 1552.4 422.9 1553.5C431.4 1554.7 439.9 1555.7 448.4 1556.8C456.9 1557.8 465.4 1558.7 473.9 1559.6C482.4 1560.5 490.9 1561.3 499.4 1562.1C507.9 1562.9 516.4 1563.7 524.9 1564.4C533.4 1565.2 541.9 1565.9 550.4 1566.7C558.9 1567.4 567.4 1568.1 575.9 1568.9C584.4 1569.6 592.9 1570.3 601.4 1571C610 1571.8 618.5 1572.5 627 1573.2C635.5 1573.9 644 1574.6 652.5 1575.3C661 1576.1 673.7 1577.1 678 1577.5M96.5 1500C113.8 1503.3 166.1 1512.5 200 1520C233.9 1527.5 266.7 1537.5 300 1545C333.3 1552.5 370 1559 400 1565C430 1571 466.7 1578.3 480 1581M96.5 1520C98.6 1520.4 104.9 1521.6 109 1522.4C113.2 1523.2 117.4 1524 121.6 1524.7C125.7 1525.5 129.9 1526.3 134.1 1527.1C138.3 1527.9 142.4 1528.7 146.6 1529.6C150.8 1530.4 154.9 1531.2 159.1 1532.1C163.3 1532.9 167.4 1533.8 171.6 1534.7C175.7 1535.6 179.9 1536.6 184 1537.5C188.2 1538.5 192.3 1539.6 196.4 1540.6C200.5 1541.6 204.6 1542.7 208.8 1543.8C212.9 1544.8 217 1545.9 221.1 1547C225.2 1548 229.3 1549.1 233.5 1550.1C237.6 1551.1 241.7 1552.1 245.9 1553.1C250 1554 254.2 1554.9 258.3 1555.8C262.5 1556.7 266.6 1557.6 270.8 1558.4C275 1559.3 279.1 1560.1 283.3 1560.9C287.5 1561.8 291.6 1562.6 295.8 1563.4C300 1564.2 304.2 1565 308.3 1565.9C312.5 1566.7 316.7 1567.5 320.8 1568.3C325 1569.2 329.2 1570 333.3 1570.9C337.5 1571.7 341.7 1572.6 345.8 1573.4C350 1574.2 354.2 1575.1 358.3 1575.9C362.5 1576.8 366.7 1577.6 370.8 1578.5C375 1579.3 381.3 1580.6 383.3 1581M96.5 1540C97.9 1540.3 102 1541.1 104.8 1541.6C107.6 1542.2 110.3 1542.7 113.1 1543.3C115.9 1543.8 118.6 1544.4 121.4 1544.9C124.2 1545.5 126.9 1546 129.7 1546.6C132.4 1547.2 135.2 1547.7 138 1548.3C140.7 1548.9 143.5 1549.5 146.2 1550.1C149 1550.7 151.7 1551.3 154.5 1552C157.2 1552.6 160 1553.3 162.7 1553.9C165.5 1554.6 168.2 1555.3 170.9 1556C173.7 1556.7 176.4 1557.4 179.1 1558C181.9 1558.7 184.6 1559.4 187.3 1560.1C190.1 1560.7 192.8 1561.4 195.6 1562C198.3 1562.6 201.1 1563.2 203.8 1563.8C206.6 1564.4 209.3 1565 212.1 1565.6C214.9 1566.2 217.6 1566.7 220.4 1567.3C223.2 1567.9 225.9 1568.4 228.7 1569C231.4 1569.6 234.2 1570.1 237 1570.7C239.7 1571.2 242.5 1571.8 245.3 1572.4C248 1572.9 250.8 1573.5 253.5 1574.1C256.3 1574.7 259.1 1575.3 261.8 1575.8C264.6 1576.4 267.3 1577 270.1 1577.6C272.9 1578.1 275.6 1578.7 278.4 1579.3C281.1 1579.9 285.3 1580.7 286.7 1581M96.5 1560C105.4 1562 134.4 1568.5 150 1572C165.6 1575.5 183.3 1579.5 190 1581M875.6 1125.4C863.8 1121.4 831.2 1110.6 804.6 1101.7C778 1092.8 740.5 1079 715.9 1072.1C691.2 1065.2 673.5 1065.2 656.7 1060.3C639.9 1055.3 625.1 1049.4 615.3 1042.5C605.4 1035.6 598.5 1026.2 597.5 1018.8C596.5 1011.4 599.5 1003.6 609.3 998.1C619.2 992.7 637 989.3 656.7 986.3C676.4 983.3 703 980.9 727.7 980.4C752.3 979.9 780 981.4 804.6 983.3C829.3 985.3 863.8 990.7 875.6 992.2M875.6 1160.9C863.8 1155.9 831.2 1142.1 804.6 1131.3C778 1120.4 742.5 1104.6 715.9 1095.8C689.2 1086.9 663.6 1082.9 644.9 1078C626.1 1073.1 612.8 1071.6 603.4 1066.2C594.1 1060.8 590.6 1052.4 588.6 1045.5C586.7 1038.6 591.1 1028.2 591.6 1024.8M875.6 1196.4C863.8 1192.4 831.2 1183.5 804.6 1172.7C778 1161.8 740.5 1141.1 715.9 1131.3C691.2 1121.4 676.4 1118.5 656.7 1113.5C637 1108.6 609.8 1103.7 597.5 1101.7C585.2 1099.7 585.2 1101.7 582.7 1101.7M875.6 1231.9C863.8 1227.9 831.2 1219 804.6 1208.2C778 1197.3 740.5 1176.6 715.9 1166.8C691.2 1156.9 676.4 1152 656.7 1149C637 1146.1 610.5 1148 597.5 1149C584.5 1150 581.7 1154 578.6 1154.9M875.6 1107.6C863.8 1104.2 829.3 1094.3 804.6 1086.9C780 1079.5 750.4 1069.6 727.7 1063.2C705 1056.8 685.3 1053.4 668.5 1048.4C651.8 1043.5 636.5 1039.1 627.1 1033.6C617.7 1028.2 612.8 1021.3 612.3 1015.9C611.8 1010.5 614.8 1005 624.1 1001.1C633.5 997.1 651.3 994.4 668.5 992.2C685.8 990 705 988.1 727.7 988.1C750.4 988.1 780 989.6 804.6 992.2C829.3 994.9 863.8 1002.1 875.6 1004.1M875.6 1178.6C863.8 1174.2 831.2 1162.8 804.6 1152C778 1141.1 741.5 1122.9 715.9 1113.5C690.2 1104.2 670.5 1100.7 650.8 1095.8C631 1090.8 608.4 1087.4 597.5 1083.9C586.7 1080.5 587.7 1076.5 585.7 1075.1M875.6 1214.1C863.8 1210.2 831.2 1201.3 804.6 1190.4C778 1179.6 740.5 1158.9 715.9 1149C691.2 1139.2 676.4 1135.2 656.7 1131.3C637 1127.3 610.1 1125.8 597.5 1125.4C584.9 1124.9 583.7 1127.8 580.9 1128.3M875.6 1249.6C863.8 1245.7 831.2 1236.3 804.6 1225.9C778 1215.6 740.5 1197.3 715.9 1187.5C691.2 1177.6 676.4 1170 656.7 1166.8C637 1163.5 611.1 1166 597.5 1168C583.9 1169.9 578.8 1176.8 575 1178.6M832.2 1031.4C832.3 1031.5 832.7 1031.6 833 1031.8C833.2 1031.9 833.4 1032 833.6 1032.2C833.7 1032.3 833.8 1032.5 833.9 1032.6C833.9 1032.8 833.9 1032.9 833.8 1033.1C833.8 1033.2 833.6 1033.4 833.4 1033.5C833.2 1033.7 832.9 1033.8 832.6 1033.9C832.3 1034 831.9 1034.2 831.4 1034.2C830.9 1034.3 830.4 1034.4 829.8 1034.5C829.2 1034.5 828.5 1034.6 827.8 1034.6C827.1 1034.6 826.4 1034.6 825.6 1034.6C824.8 1034.5 823.9 1034.5 823.1 1034.4C822.2 1034.3 821.3 1034.2 820.5 1034C819.6 1033.9 818.7 1033.7 817.8 1033.5C816.9 1033.3 816.1 1033.1 815.3 1032.8C814.4 1032.6 813.6 1032.3 812.9 1032C812.2 1031.7 811.5 1031.4 810.9 1031.1C810.2 1030.7 809.7 1030.4 809.2 1030C808.8 1029.7 808.4 1029.3 808.2 1028.9C807.9 1028.5 807.7 1028.1 807.7 1027.7C807.7 1027.4 807.7 1027 807.9 1026.6C808.1 1026.2 808.4 1025.9 808.9 1025.5C809.3 1025.2 809.9 1024.9 810.6 1024.5C811.3 1024.2 812.1 1024 813 1023.7C814 1023.5 815 1023.2 816.2 1023.1C817.4 1022.9 818.6 1022.7 820 1022.6C821.3 1022.5 822.8 1022.5 824.3 1022.5C825.8 1022.5 827.5 1022.5 829.1 1022.6C830.7 1022.7 832.4 1022.8 834.1 1023C835.8 1023.2 837.6 1023.4 839.3 1023.7C841 1023.9 842.7 1024.3 844.4 1024.6C846.1 1025 847.7 1025.4 849.3 1025.9C850.9 1026.3 852.4 1026.8 853.8 1027.3C855.2 1027.9 856.5 1028.4 857.7 1029C858.8 1029.6 859.9 1030.2 860.8 1030.9C861.7 1031.5 862.5 1032.2 863.1 1032.8C863.6 1033.5 864.1 1034.1 864.3 1034.8C864.5 1035.5 864.6 1036.1 864.4 1036.8C864.3 1037.4 863.9 1038 863.4 1038.6C862.8 1039.2 862.1 1039.8 861.2 1040.3C860.2 1040.9 859.1 1041.4 857.8 1041.8C856.5 1042.3 854.9 1042.7 853.3 1043.1C851.6 1043.4 849.8 1043.7 847.8 1043.9C845.8 1044.2 843.7 1044.4 841.4 1044.5C839.2 1044.6 836.8 1044.6 834.4 1044.6C831.9 1044.5 829.4 1044.4 826.8 1044.2C824.2 1044.1 821.6 1043.8 819 1043.5C816.4 1043.2 813.7 1042.8 811.1 1042.3C808.6 1041.8 806 1041.3 803.5 1040.7C801.1 1040.1 798.7 1039.4 796.4 1038.7C794.1 1038 792 1037.3 790 1036.5C788 1035.7 786.2 1034.8 784.6 1033.9C783 1033 781.5 1032.1 780.3 1031.2C779.1 1030.3 778.2 1029.3 777.4 1028.4C776.7 1027.4 776.3 1026.5 776.1 1025.5C775.9 1024.6 775.9 1023.6 776.3 1022.7C776.6 1021.9 777.2 1021 778.1 1020.1C779 1019.3 780.2 1018.5 781.6 1017.8C783 1017.1 784.7 1016.4 786.7 1015.8C788.6 1015.2 790.8 1014.6 793.2 1014.2C795.6 1013.7 798.2 1013.3 801 1013C803.8 1012.8 806.8 1012.5 810 1012.4C813.1 1012.3 816.4 1012.3 819.7 1012.4C823.1 1012.5 826.6 1012.7 830.1 1012.9C833.6 1013.2 837.2 1013.6 840.7 1014.1C844.2 1014.5 847.8 1015.1 851.2 1015.8C854.7 1016.4 858.1 1017.2 861.3 1018C864.6 1018.8 867.8 1019.7 870.7 1020.7C873.7 1021.6 876.5 1022.7 879 1023.7C881.6 1024.8 883.9 1026 886 1027.1C888 1028.3 889.8 1029.5 891.3 1030.7C892.8 1032 894 1033.2 894.8 1034.5C895.7 1035.7 896.2 1037 896.4 1038.2C896.6 1039.4 896.4 1040.6 895.9 1041.8C895.3 1042.9 894.4 1044 893.2 1045.1C892 1046.1 890.4 1047.2 888.5 1048.1C886.5 1049 884.3 1049.9 881.7 1050.6C879.2 1051.4 876.3 1052 873.1 1052.6C870 1053.2 866.6 1053.6 863 1054C859.3 1054.3 855.5 1054.6 851.5 1054.7C847.5 1054.8 843.2 1054.8 838.9 1054.6C834.7 1054.5 830.2 1054.2 825.8 1053.9C821.4 1053.5 816.8 1053 812.4 1052.4C808 1051.8 803.5 1051 799.2 1050.2C794.9 1049.3 790.6 1048.4 786.6 1047.4C782.6 1046.3 778.6 1045.2 775 1043.9C771.3 1042.7 767.9 1041.4 764.8 1040.1C761.6 1038.7 758.8 1037.3 756.3 1035.8C753.8 1034.4 751.6 1032.8 749.8 1031.3C748 1029.8 746.6 1028.2 745.7 1026.7C744.7 1025.2 744.1 1023.6 743.9 1022.1C743.8 1020.7 744.1 1019.2 744.8 1017.8C745.5 1016.3 746.7 1015 748.3 1013.7C749.9 1012.4 751.9 1011.2 754.3 1010C756.7 1008.9 759.5 1007.9 762.7 1007C765.9 1006.1 769.5 1005.3 773.3 1004.6C777.2 1004 781.4 1003.4 785.8 1003C790.3 1002.6 795 1002.3 799.9 1002.2C804.8 1002.1 810 1002.2 815.2 1002.3C820.4 1002.5 825.8 1002.8 831.1 1003.3C836.5 1003.8 841.9 1004.4 847.3 1005.2C852.6 1005.9 858 1006.8 863.2 1007.9C868.3 1008.9 873.4 1010.1 878.3 1011.3C883.1 1012.6 887.8 1014 892.1 1015.4C896.5 1016.9 900.6 1018.5 904.3 1020.1C908 1021.8 911.4 1023.5 914.3 1025.2C917.2 1027 919.8 1028.8 921.8 1030.6C923.9 1032.4 925.5 1034.3 926.6 1036.1C927.8 1037.9 928.4 1039.8 928.5 1041.5C928.6 1043.3 928.2 1045.1 927.3 1046.7C926.4 1048.4 925 1050 923 1051.6C921.1 1053.1 918.7 1054.5 915.8 1055.8C912.9 1057.1 909.5 1058.3 905.7 1059.4C901.9 1060.4 897.6 1061.4 893 1062.2C888.4 1062.9 883.4 1063.6 878.1 1064C872.9 1064.5 867.3 1064.8 861.5 1064.9C855.7 1065 849.6 1064.9 843.5 1064.7C837.4 1064.5 831.1 1064.1 824.8 1063.5C818.5 1062.9 812.1 1062.2 805.8 1061.3C799.6 1060.4 793.3 1059.3 787.3 1058.1C781.2 1056.9 775.3 1055.5 769.7 1054C764 1052.5 758.6 1050.9 753.6 1049.2C748.5 1047.4 743.8 1045.6 739.5 1043.7C735.2 1041.8 731.3 1039.7 728 1037.7C724.6 1035.7 721.6 1033.5 719.3 1031.4C716.9 1029.3 715.1 1027.2 713.9 1025.1C712.6 1023 711.9 1020.8 711.8 1018.8C711.8 1016.7 712.3 1014.7 713.4 1012.8C714.5 1010.8 716.2 1009 718.5 1007.2C720.7 1005.5 723.6 1003.8 727 1002.3C730.4 1000.8 734.4 999.4 738.8 998.2C743.2 997 748.1 995.9 753.5 995.1C758.8 994.2 764.6 993.5 770.7 993C776.7 992.5 783.2 992.2 789.9 992C796.6 991.9 803.6 992 810.6 992.3C817.6 992.5 824.9 993 832.1 993.7C839.3 994.4 846.7 995.2 853.8 996.3C861 997.3 868.2 998.6 875.1 1000C882 1001.4 888.8 1003 895.2 1004.7C901.6 1006.4 907.8 1008.3 913.5 1010.2C919.3 1012.2 924.7 1014.3 929.5 1016.5C934.4 1018.7 938.8 1021 942.6 1023.3C946.4 1025.7 949.7 1028.1 952.4 1030.5C955 1032.9 957.1 1035.4 958.4 1037.8C959.8 1040.2 960.6 1042.6 960.6 1044.9C960.7 1047.2 960 1049.6 958.8 1051.7C957.5 1053.9 955.5 1056.1 952.9 1058C950.2 1060 946.9 1061.9 943.1 1063.6C939.2 1065.3 934.6 1066.8 929.6 1068.2C924.6 1069.5 918.9 1070.7 912.9 1071.7C906.8 1072.7 900.2 1073.5 893.3 1074C886.4 1074.6 879.1 1074.9 871.5 1075.1C864 1075.2 856.1 1075.1 848.1 1074.8C840.1 1074.5 831.9 1073.9 823.8 1073.1C815.6 1072.4 807.3 1071.4 799.3 1070.2C791.2 1069 783.1 1067.6 775.3 1066C767.6 1064.4 759.9 1062.6 752.7 1060.7C745.5 1058.7 738.6 1056.6 732.2 1054.4C725.7 1052.1 719.7 1049.7 714.3 1047.3C708.8 1044.8 703.9 1042.2 699.6 1039.6C695.4 1037 691.7 1034.3 688.8 1031.6C685.8 1028.9 683.6 1026.1 682.1 1023.4C680.5 1020.7 679.8 1018 679.7 1015.4C679.7 1012.8 680.4 1010.2 681.9 1007.8C683.4 1005.3 685.7 1002.9 688.6 1000.7C691.6 998.5 695.3 996.5 699.7 994.6C704.1 992.7 709.2 990.9 714.8 989.4C720.5 987.9 726.8 986.6 733.6 985.5C740.4 984.4 747.8 983.6 755.5 983C763.2 982.3 771.4 982 779.9 981.8C788.3 981.7 797.1 981.8 806 982.2C814.9 982.6 824.1 983.2 833.1 984.1C842.2 984.9 851.4 986 860.4 987.4C869.4 988.7 878.4 990.3 887 992.1C895.6 993.8 904.1 995.9 912.1 998C920.1 1000.2 927.8 1002.5 935 1005C942.1 1007.5 948.8 1010.2 954.8 1012.9C960.8 1015.7 966.2 1018.5 970.9 1021.5C975.6 1024.4 979.7 1027.4 982.9 1030.4C986.1 1033.4 988.6 1036.4 990.2 1039.4C991.9 1042.4 992.7 1045.4 992.7 1048.3C992.7 1051.2 991.9 1054 990.2 1056.7C988.5 1059.4 986 1062.1 982.7 1064.5C979.4 1066.9 975.2 1069.2 970.4 1071.3C965.5 1073.4 959.8 1075.3 953.6 1076.9C947.3 1078.6 940.2 1080.1 932.7 1081.3C925.2 1082.4 917 1083.4 908.5 1084.1C900 1084.7 890.8 1085.1 881.5 1085.3C872.2 1085.4 862.5 1085.3 852.7 1084.8C842.9 1084.4 832.8 1083.7 822.8 1082.8C812.8 1081.8 802.6 1080.6 792.7 1079.1C782.8 1077.6 772.9 1075.8 763.4 1073.9C753.9 1071.9 744.6 1069.7 735.8 1067.3C727 1064.9 718.5 1062.3 710.7 1059.6C702.9 1056.8 695.6 1053.9 689 1050.9C682.4 1047.9 676.5 1044.7 671.3 1041.5C666.2 1038.3 661.8 1035 658.3 1031.7C654.8 1028.4 652 1025 650.3 1021.8C648.5 1018.5 647.6 1015.2 647.6 1012C647.7 1008.9 648.6 1005.7 650.5 1002.8C652.3 999.8 655.2 996.9 658.8 994.3C662.5 991.6 667 989.1 672.4 986.8C677.7 984.6 684 982.5 690.9 980.7C697.8 978.9 705.5 977.3 713.7 976C722 974.7 731 973.6 740.3 972.9C749.7 972.2 759.7 971.8 769.8 971.6C780 971.5 790.7 971.6 801.4 972.1C812.2 972.6 823.2 973.4 834.1 974.4C845.1 975.5 856.2 976.8 867 978.5C877.8 980.1 888.6 982 899 984.2C909.3 986.3 919.5 988.7 929.1 991.4C938.6 994 947.9 996.8 956.4 999.8C964.9 1002.8 972.9 1006 980 1009.3C987.2 1012.6 993.7 1016.1 999.2 1019.6C1004.8 1023.1 1009.6 1026.7 1013.4 1030.3C1017.2 1033.8 1020.1 1037.5 1022 1041.1C1023.9 1044.6 1024.9 1048.2 1024.8 1051.7C1024.8 1055.1 1023.7 1058.5 1021.6 1061.7C1019.6 1064.9 1016.5 1068.1 1012.5 1071C1008.5 1073.8 1003.5 1076.6 997.7 1079C991.8 1081.5 985 1083.8 977.5 1085.7C970 1087.7 961.6 1089.4 952.6 1090.8C943.6 1092.2 933.8 1093.3 923.7 1094.1C913.5 1094.9 902.6 1095.3 891.6 1095.5C880.5 1095.6 868.9 1095.4 857.3 1094.9C845.6 1094.4 833.6 1093.6 821.7 1092.4C809.9 1091.2 797.8 1089.7 786.1 1088C774.4 1086.2 762.7 1084.1 751.5 1081.8C740.3 1079.4 729.2 1076.8 718.9 1074C708.5 1071.1 698.5 1068 689.3 1064.8C680.1 1061.5 671.5 1058.1 663.8 1054.5C656 1050.9 649 1047.2 643 1043.4C637 1039.6 631.8 1035.7 627.7 1031.8C623.7 1027.9 620.5 1024 618.5 1020.1C616.4 1016.3 615.4 1012.4 615.5 1008.6C615.6 1004.9 616.8 1001.2 619 997.8C621.3 994.3 624.6 990.9 629 987.8C633.3 984.7 638.8 981.7 645.1 979.1C651.4 976.4 658.8 974 666.9 971.9C675.1 969.8 684.2 967.9 693.9 966.4C703.6 964.9 714.1 963.7 725.1 962.9C736.1 962.1 747.9 961.6 759.8 961.4C771.8 961.3 784.3 961.5 796.9 962C809.4 962.6 822.4 963.5 835.2 964.8C847.9 966 860.9 967.7 873.6 969.6C886.2 971.5 898.8 973.8 910.9 976.3C923 978.8 934.8 981.6 946 984.7C957.1 987.8 967.9 991.1 977.8 994.6C987.7 998.1 997 1001.9 1005.3 1005.7C1013.5 1009.6 1021.1 1013.6 1027.5 1017.7C1034 1021.7 1039.5 1026 1043.9 1030.1C1048.3 1034.3 1051.7 1038.6 1053.8 1042.7C1056 1046.9 1056.4 1053 1056.9 1055M823.8 1033.3C823.4 1033.2 822.5 1033.1 821.8 1033C821.1 1032.9 820.4 1032.8 819.7 1032.6C819.1 1032.5 818.4 1032.3 817.7 1032.1C817.1 1031.9 816.5 1031.7 815.9 1031.5C815.3 1031.2 814.8 1031 814.3 1030.7C813.8 1030.4 813.4 1030.1 813 1029.8C812.7 1029.5 812.4 1029.2 812.2 1028.9C812.1 1028.6 812 1028.3 812 1028C812 1027.7 812.1 1027.4 812.3 1027.1C812.5 1026.8 812.8 1026.5 813.2 1026.2C813.6 1025.9 814.1 1025.7 814.7 1025.4C815.3 1025.2 816.1 1025 816.9 1024.8C817.7 1024.6 818.7 1024.4 819.7 1024.3C820.7 1024.1 821.8 1024 823 1024C824.2 1023.9 825.4 1023.9 826.8 1023.9C828.1 1023.9 829.5 1024 830.9 1024.1C832.3 1024.2 833.7 1024.3 835.2 1024.5C836.6 1024.6 838.1 1024.9 839.6 1025.1C841.1 1025.4 842.5 1025.7 843.9 1026C845.3 1026.4 846.7 1026.8 848 1027.2C849.3 1027.6 850.6 1028 851.7 1028.5C852.9 1029 854 1029.5 854.9 1030C855.8 1030.5 856.7 1031.1 857.4 1031.6C858 1032.2 858.6 1032.8 859 1033.4C859.4 1033.9 859.7 1034.5 859.7 1035.1C859.8 1035.7 859.7 1036.2 859.5 1036.8C859.2 1037.3 858.8 1037.9 858.2 1038.4C857.6 1038.9 856.8 1039.4 855.9 1039.8C854.9 1040.3 853.8 1040.7 852.5 1041.1C851.2 1041.4 849.8 1041.7 848.2 1042C846.6 1042.3 844.9 1042.5 843 1042.7C841.2 1042.8 839.2 1043 837.1 1043C835 1043 832.9 1043 830.6 1042.9C828.4 1042.9 826.1 1042.7 823.8 1042.5C821.5 1042.3 819.1 1042 816.8 1041.7C814.5 1041.3 812.1 1040.9 809.8 1040.5C807.6 1040 805.3 1039.5 803.2 1038.9C801 1038.3 798.9 1037.7 797 1037C795.1 1036.3 793.2 1035.6 791.6 1034.9C790 1034.1 788.4 1033.3 787.1 1032.5C785.8 1031.7 784.7 1030.9 783.8 1030C782.9 1029.2 782.2 1028.3 781.7 1027.4C781.3 1026.6 781 1025.7 781.1 1024.9C781.1 1024.1 781.3 1023.2 781.9 1022.4C782.4 1021.7 783.1 1020.9 784.2 1020.2C785.2 1019.5 786.4 1018.8 787.9 1018.2C789.4 1017.5 791.1 1017 793.1 1016.5C795 1016 797.2 1015.5 799.5 1015.2C801.9 1014.8 804.4 1014.6 807.1 1014.4C809.8 1014.2 812.7 1014.1 815.6 1014C818.6 1014 821.7 1014.1 824.8 1014.2C827.9 1014.4 831.1 1014.6 834.4 1014.9C837.6 1015.3 840.9 1015.7 844.1 1016.2C847.3 1016.7 850.5 1017.3 853.6 1017.9C856.6 1018.6 859.7 1019.4 862.6 1020.2C865.4 1021 868.2 1021.9 870.8 1022.8C873.3 1023.7 875.7 1024.7 877.9 1025.7C880 1026.8 882 1027.9 883.6 1029C885.3 1030.1 886.7 1031.2 887.9 1032.3C889 1033.5 889.8 1034.6 890.3 1035.8C890.8 1036.9 891.1 1038 890.9 1039.1C890.8 1040.2 890.4 1041.3 889.6 1042.3C888.8 1043.4 887.7 1044.4 886.3 1045.3C884.9 1046.2 883.1 1047.1 881.1 1047.9C879.1 1048.7 876.7 1049.4 874.1 1050C871.5 1050.6 868.6 1051.2 865.5 1051.6C862.5 1052 859.1 1052.4 855.6 1052.6C852.1 1052.8 848.3 1052.9 844.5 1052.9C840.7 1052.9 836.6 1052.8 832.6 1052.6C828.6 1052.4 824.4 1052.1 820.3 1051.6C816.2 1051.2 812 1050.6 807.9 1049.9C803.8 1049.3 799.8 1048.5 795.9 1047.6C792 1046.8 788.1 1045.8 784.5 1044.8C780.9 1043.7 777.5 1042.6 774.3 1041.4C771.1 1040.2 768.1 1038.9 765.5 1037.6C762.8 1036.3 760.4 1035 758.4 1033.6C756.3 1032.2 754.6 1030.8 753.3 1029.3C752 1027.9 751 1026.5 750.4 1025.1C749.8 1023.6 749.7 1022.2 749.9 1020.9C750.1 1019.5 750.7 1018.1 751.8 1016.9C752.8 1015.6 754.2 1014.4 756 1013.3C757.9 1012.1 760.1 1011.1 762.7 1010.1C765.2 1009.1 768.2 1008.3 771.4 1007.5C774.7 1006.8 778.3 1006.1 782.2 1005.6C786 1005.1 790.2 1004.7 794.5 1004.4C798.9 1004.2 803.5 1004.1 808.2 1004.1C812.9 1004.1 817.9 1004.3 822.8 1004.5C827.7 1004.8 832.8 1005.3 837.9 1005.8C842.9 1006.4 848 1007.1 852.9 1007.9C857.9 1008.7 862.8 1009.7 867.5 1010.8C872.2 1011.8 876.8 1013 881.2 1014.3C885.5 1015.6 889.7 1017 893.5 1018.4C897.3 1019.8 900.9 1021.4 904 1023C907.2 1024.6 910 1026.2 912.4 1027.9C914.8 1029.6 916.8 1031.3 918.4 1033C919.9 1034.7 921 1036.5 921.6 1038.1C922.3 1039.8 922.4 1041.5 922.1 1043.2C921.8 1044.8 921 1046.4 919.7 1047.9C918.4 1049.4 916.6 1050.9 914.4 1052.2C912.2 1053.5 909.5 1054.8 906.4 1055.9C903.3 1057.1 899.7 1058.1 895.8 1059C891.9 1059.8 887.5 1060.6 882.9 1061.2C878.3 1061.8 873.3 1062.2 868.1 1062.5C863 1062.8 857.5 1062.9 851.9 1062.9C846.3 1062.9 840.4 1062.7 834.6 1062.3C828.7 1061.9 822.7 1061.4 816.8 1060.7C810.9 1060.1 804.9 1059.2 799.1 1058.2C793.2 1057.2 787.4 1056.1 781.9 1054.8C776.4 1053.6 771 1052.2 765.9 1050.6C760.9 1049.1 756 1047.5 751.6 1045.8C747.1 1044.1 743 1042.3 739.3 1040.4C735.7 1038.5 732.4 1036.6 729.6 1034.6C726.9 1032.7 724.5 1030.7 722.8 1028.7C721 1026.7 719.8 1024.6 719.1 1022.7C718.4 1020.7 718.3 1018.7 718.7 1016.8C719.1 1014.9 720.1 1013.1 721.6 1011.3C723.2 1009.6 725.3 1007.9 727.9 1006.3C730.6 1004.8 733.8 1003.3 737.4 1002C741 1000.7 745.2 999.6 749.8 998.6C754.4 997.6 759.4 996.7 764.8 996C770.2 995.4 776 994.9 782 994.5C788 994.2 794.4 994.1 800.8 994.1C807.3 994.2 814.1 994.4 820.8 994.9C827.6 995.3 834.5 995.9 841.4 996.7C848.2 997.5 855.1 998.5 861.8 999.6C868.5 1000.8 875.1 1002.1 881.5 1003.6C887.8 1005 894 1006.7 899.8 1008.4C905.6 1010.2 911.1 1012 916.2 1014C921.3 1016 926 1018.1 930.1 1020.2C934.3 1022.4 938 1024.6 941.2 1026.8C944.3 1029.1 946.9 1031.4 948.9 1033.7C950.8 1036 952.2 1038.3 953 1040.5C953.7 1042.8 953.8 1045.1 953.3 1047.2C952.8 1049.4 951.6 1051.5 949.8 1053.5C948 1055.4 945.6 1057.4 942.5 1059.1C939.5 1060.9 935.8 1062.5 931.6 1064C927.5 1065.5 922.6 1066.8 917.4 1067.9C912.2 1069 906.4 1070 900.3 1070.8C894.2 1071.5 887.5 1072.1 880.7 1072.4C873.9 1072.8 866.6 1072.9 859.2 1072.8C851.9 1072.8 844.2 1072.5 836.5 1072C828.9 1071.5 821 1070.8 813.3 1069.8C805.6 1068.9 797.8 1067.8 790.2 1066.5C782.6 1065.2 775.1 1063.7 768 1062C760.8 1060.4 753.8 1058.5 747.3 1056.5C740.8 1054.6 734.5 1052.4 728.8 1050.2C723.1 1048 717.8 1045.6 713.2 1043.2C708.5 1040.8 704.3 1038.2 700.9 1035.7C697.4 1033.2 694.5 1030.6 692.3 1028C690.1 1025.4 688.6 1022.8 687.8 1020.3C687 1017.7 686.9 1015.2 687.5 1012.8C688.1 1010.4 689.5 1008 691.5 1005.8C693.6 1003.5 696.4 1001.4 699.8 999.4C703.3 997.5 707.4 995.6 712.1 994C716.9 992.3 722.3 990.9 728.2 989.6C734 988.4 740.6 987.3 747.4 986.5C754.3 985.6 761.7 985 769.4 984.6C777.1 984.2 785.2 984.1 793.5 984.2C801.7 984.3 810.3 984.6 818.9 985.2C827.4 985.8 836.2 986.6 844.8 987.6C853.5 988.6 862.2 989.9 870.6 991.4C879.1 992.8 887.4 994.5 895.4 996.4C903.4 998.3 911.2 1000.3 918.4 1002.5C925.7 1004.7 932.6 1007.1 938.9 1009.6C945.2 1012.1 951.1 1014.8 956.3 1017.5C961.4 1020.1 966.1 1023 969.9 1025.8C973.8 1028.6 977 1031.5 979.4 1034.4C981.8 1037.2 983.4 1040.1 984.3 1042.9C985.1 1045.8 985.2 1048.6 984.5 1051.2C983.8 1053.9 982.2 1056.6 979.9 1059C977.6 1061.5 974.5 1063.9 970.6 1066C966.8 1068.2 962.2 1070.2 956.9 1072C951.6 1073.8 945.6 1075.5 939.1 1076.9C932.5 1078.2 925.3 1079.4 917.6 1080.3C910 1081.2 901.8 1081.9 893.3 1082.3C884.8 1082.7 875.7 1082.9 866.6 1082.8C857.5 1082.7 848 1082.3 838.5 1081.7C829 1081 819.3 1080.1 809.8 1079C800.3 1077.8 790.6 1076.4 781.3 1074.8C772 1073.1 762.8 1071.3 754 1069.2C745.2 1067.1 736.7 1064.8 728.7 1062.4C720.7 1060 713 1057.3 706.1 1054.6C699.2 1051.8 692.7 1048.9 687 1045.9C681.4 1043 676.3 1039.9 672.1 1036.8C667.9 1033.6 664.4 1030.4 661.8 1027.3C659.2 1024.2 657.4 1021 656.5 1017.9C655.5 1014.8 655.5 1011.7 656.3 1008.7C657.1 1005.8 658.9 1002.9 661.4 1000.2C664 997.5 667.5 994.9 671.7 992.5C676 990.1 681.1 987.9 686.9 985.9C692.7 984 699.3 982.2 706.5 980.7C713.7 979.1 721.7 977.9 730.1 976.9C738.5 975.9 747.5 975.1 756.9 974.7C766.2 974.3 776.1 974.1 786.1 974.2C796.1 974.4 806.5 974.8 816.9 975.5C827.3 976.2 837.9 977.2 848.3 978.5C858.8 979.7 869.3 981.3 879.5 983.1C889.7 984.9 899.8 986.9 909.4 989.2C919 991.5 928.3 994 937 996.7C945.8 999.3 954.1 1002.2 961.7 1005.2C969.2 1008.2 976.3 1011.4 982.4 1014.7C988.6 1017.9 994.1 1021.3 998.7 1024.7C1003.2 1028.1 1007 1031.6 1009.9 1035C1012.7 1038.5 1014.6 1042 1015.6 1045.3C1016.6 1048.7 1016.6 1052.1 1015.7 1055.3C1014.7 1058.5 1012.8 1061.6 1010 1064.6C1007.2 1067.5 1003.4 1070.4 998.7 1072.9C994.1 1075.5 988.5 1078 982.2 1080.1C975.8 1082.2 968.6 1084.2 960.7 1085.8C952.9 1087.5 944.2 1088.8 935 1089.9C925.9 1091 916 1091.8 905.8 1092.3C895.7 1092.7 884.9 1092.9 874 1092.7C863.1 1092.6 851.8 1092.1 840.5 1091.3C829.2 1090.6 817.6 1089.5 806.3 1088.1C795 1086.7 783.5 1085 772.5 1083C761.4 1081.1 750.5 1078.8 740.1 1076.4C729.7 1073.9 719.5 1071.2 710.1 1068.3C700.6 1065.4 691.6 1062.2 683.4 1059C675.2 1055.7 667.6 1052.2 660.9 1048.7C654.2 1045.2 648.3 1041.5 643.4 1037.8C638.4 1034.1 634.3 1030.3 631.3 1026.6C628.3 1022.9 626.2 1019.1 625.1 1015.5C624.1 1011.8 624.1 1008.2 625.1 1004.7C626.2 1001.2 628.3 997.8 631.3 994.6C634.4 991.5 638.6 988.4 643.6 985.6C648.7 982.8 654.7 980.2 661.6 977.9C668.5 975.6 676.4 973.5 684.9 971.7C693.4 969.9 702.8 968.4 712.7 967.3C722.6 966.1 733.3 965.3 744.3 964.8C755.3 964.3 766.9 964.1 778.7 964.3C790.5 964.5 802.7 965 814.9 965.8C827.1 966.7 839.6 967.9 851.8 969.4C864.1 970.9 876.4 972.7 888.3 974.8C900.3 976.9 917.5 980.8 923.3 982M751.4 1305C743.5 1299.7 719.8 1278.4 704 1273.1C688.2 1267.8 670.5 1270.1 656.7 1273.1C642.9 1276 629.1 1285.5 621.2 1290.8C613.3 1296.2 609.8 1298.9 609.3 1305C608.9 1311.1 611.3 1320.3 618.2 1327.5C625.1 1334.7 636.5 1343.3 650.8 1348.2C665.1 1353.2 685.3 1356.1 704 1357.1C722.8 1358.1 743.5 1356.6 763.2 1354.1C782.9 1351.7 803.6 1345.8 822.4 1342.3C841.1 1338.9 866.7 1334.9 875.6 1333.4M775 1305C772.3 1302.3 764.7 1293.7 758.9 1288.8C753.1 1283.9 746.6 1279.5 740.1 1275.6C733.6 1271.6 726.8 1267.7 719.7 1265C712.6 1262.3 705.1 1260.3 697.6 1259.3C690 1258.3 682.2 1258.5 674.7 1259.2C667.1 1259.8 659.4 1261.2 652.1 1263.2C644.8 1265.1 637.5 1267.7 630.7 1271C623.9 1274.2 616 1277.7 611.2 1282.7C606.5 1287.8 603.7 1295 602.2 1301.2C600.7 1307.4 600.5 1313.9 602.1 1320.1C603.7 1326.2 607.4 1332.8 611.8 1338.2C616.2 1343.6 622.2 1348.4 628.3 1352.5C634.4 1356.5 641.3 1359.7 648.3 1362.3C655.4 1365 662.9 1366.8 670.3 1368.4C677.8 1370 685.4 1371 692.9 1371.9C700.5 1372.7 708.2 1373.1 715.8 1373.4C723.5 1373.6 731.1 1373.6 738.8 1373.4C746.4 1373.2 754.1 1372.8 761.7 1372.1C769.3 1371.4 776.9 1370.3 784.5 1369.3C792.1 1368.2 799.7 1366.9 807.3 1365.8C814.8 1364.6 822.5 1363.6 830.1 1362.5C837.6 1361.4 845.2 1360.2 852.8 1359.1C860.4 1357.9 871.8 1356.2 875.6 1355.6M798.7 1305C794.8 1300.7 788.8 1288.3 775 1279C761.2 1269.7 735.6 1254.3 715.9 1249.4C696.1 1244.5 674.4 1246.4 656.7 1249.4C638.9 1252.4 622.2 1257.9 609.3 1267.2C596.5 1276.4 583.7 1293 579.8 1305C575.8 1317.1 579.8 1328.7 585.7 1339.3C591.6 1350 601.5 1361 615.3 1368.9C629.1 1376.8 647.8 1382.7 668.5 1386.7C689.2 1390.6 715.9 1392.6 739.5 1392.6C763.2 1392.6 787.9 1389.2 810.5 1386.7C833.2 1384.2 864.8 1379.3 875.6 1377.8M822.4 1305C819 1301.6 809.4 1290.6 802 1284.5C794.6 1278.3 786.2 1273.2 777.9 1268.2C769.6 1263.1 761.2 1258.1 752.4 1254C743.6 1249.9 734.5 1246.2 725.2 1243.6C715.9 1241 706.3 1239.5 696.7 1238.6C687.1 1237.7 677.4 1237.6 667.8 1238.1C658.2 1238.7 648.5 1239.9 639.1 1242C629.8 1244.1 620.2 1246.6 611.8 1250.8C603.3 1255 595.2 1260.8 588.4 1267.3C581.6 1273.9 574.5 1281.7 571.2 1290.1C567.8 1298.5 567.4 1308.9 568.4 1317.8C569.4 1326.8 572.8 1336 577.2 1344C581.6 1351.9 588 1359.3 594.8 1365.6C601.5 1371.9 609.5 1377.1 617.8 1381.6C626.1 1386.1 635.3 1389.5 644.4 1392.4C653.5 1395.3 663.1 1397.4 672.6 1399.2C682.1 1401 691.7 1402.2 701.4 1403.1C711 1404.1 720.7 1404.6 730.4 1404.9C740.1 1405.2 749.8 1405 759.5 1404.8C769.2 1404.5 778.9 1403.8 788.6 1403.3C798.3 1402.7 808 1402.1 817.6 1401.4C827.3 1400.7 837 1399.9 846.6 1399.1C856.3 1398.3 870.8 1397 875.6 1396.5M846 1305C842 1301.6 830.3 1290.7 821.9 1284.3C813.4 1277.8 804.3 1272.1 795.2 1266.4C786.1 1260.8 777 1255.2 767.4 1250.5C757.8 1245.9 747.8 1241.8 737.7 1238.5C727.6 1235.2 717.2 1232.5 706.8 1230.7C696.4 1228.9 685.7 1227.7 675.1 1227.5C664.6 1227.3 653.8 1228 643.3 1229.4C632.8 1230.7 622.1 1232.2 612.3 1235.8C602.5 1239.3 592.8 1244.5 584.6 1250.8C576.3 1257.1 567.9 1264.9 562.9 1273.7C558 1282.5 555.6 1293.5 554.8 1303.6C553.9 1313.6 555.1 1324.4 558 1334C561 1343.6 566.4 1353 572.4 1361.3C578.5 1369.5 586 1377.1 594.3 1383.3C602.6 1389.5 612.3 1394.3 622 1398.5C631.7 1402.6 642.1 1405.6 652.4 1408.2C662.6 1410.8 673.2 1412.6 683.8 1414.2C694.3 1415.7 705 1416.5 715.6 1417.3C726.3 1418 737 1418.4 747.6 1418.6C758.3 1418.8 769 1418.5 779.6 1418.4C790.3 1418.2 801 1418 811.6 1417.7C822.3 1417.5 833 1417.1 843.6 1416.7C854.3 1416.3 870.3 1415.5 875.6 1415.3M869.7 1305C863.8 1300.7 850 1289.3 834.2 1279C818.4 1268.7 796.7 1253.4 775 1243.5C753.3 1233.6 725.7 1224.3 704 1219.8C682.3 1215.4 662.6 1215.9 644.9 1216.9C627.1 1217.9 612.3 1219.3 597.5 1225.7C582.7 1232.1 566 1242.1 556.1 1255.3C546.2 1268.5 539.8 1289.1 538.3 1305C536.9 1321 540.3 1336.6 547.2 1351.2C554.1 1365.8 564.5 1381.3 579.8 1392.6C595 1403.9 616.3 1412.8 638.9 1419.2C661.6 1425.6 688.2 1428.6 715.9 1431.1C743.5 1433.5 778 1433.5 804.6 1434C831.2 1434.5 863.8 1434 875.6 1434M872.7 1286.1C867.3 1283.4 851.2 1275.3 840.3 1269.9C829.5 1264.6 818.5 1259.4 807.7 1253.7C796.9 1248.1 786.4 1241.8 775.5 1236.2C764.6 1230.7 753.7 1225.3 742.4 1220.7C731.1 1216.1 719.5 1211.9 707.7 1208.6C696 1205.4 684 1202.4 672 1200.9C659.9 1199.5 647.5 1199.2 635.4 1200C623.3 1200.9 610.6 1202.1 599.4 1206.1C588.1 1210.1 577.1 1216.6 567.7 1224C558.3 1231.4 549.2 1240.4 543 1250.5C536.7 1260.6 532.7 1272.9 530.2 1284.7C527.8 1296.4 527.1 1309.2 528.4 1321.1C529.7 1333.1 533.2 1345.3 538.1 1356.3C543.1 1367.2 550.1 1377.9 558.2 1386.7C566.4 1395.5 576.8 1402.7 587.2 1408.9C597.6 1415 609.2 1419.6 620.7 1423.6C632.2 1427.6 644.2 1430.3 656.2 1432.8C668.1 1435.2 680.3 1436.6 692.4 1438.1C704.6 1439.5 716.8 1440.6 729 1441.4C741.2 1442.2 753.4 1442.4 765.6 1442.7C777.8 1443.1 790.1 1443.3 802.3 1443.5C814.5 1443.7 826.7 1444 838.9 1444.1C851.2 1444.3 869.5 1444.3 875.6 1444.4M875.6 1267.2C863.8 1263.2 829.3 1253.8 804.6 1243.5C780 1233.1 752.3 1214.9 727.7 1205C703 1195.2 678.4 1187.3 656.7 1184.3C635 1181.4 613.3 1183.3 597.5 1187.3C581.7 1191.2 571.9 1200.6 562 1208C552.1 1215.4 545 1221.6 538.3 1231.7C531.6 1241.7 525.2 1254.3 521.8 1268.3C518.3 1282.3 516.4 1299.9 517.6 1315.7C518.9 1331.5 522.1 1348.2 529.5 1363C536.9 1377.8 546.7 1392.6 562 1404.4C577.3 1416.3 597.5 1426.6 621.2 1434C644.9 1441.4 674.4 1445.7 704 1448.8C733.6 1452 770.1 1452 798.7 1453C827.3 1453.9 862.8 1454.4 875.6 1454.7M712 1310.3C712.1 1310.3 712.5 1310.2 712.7 1310.2C713 1310.1 713.2 1310 713.4 1309.9C713.6 1309.8 713.7 1309.7 713.9 1309.5C714 1309.4 714.1 1309.3 714.1 1309.1C714.2 1308.9 714.2 1308.7 714.2 1308.6C714.2 1308.4 714.1 1308.2 714 1308C713.8 1307.8 713.6 1307.5 713.4 1307.3C713.2 1307.1 712.9 1306.9 712.6 1306.7C712.3 1306.5 711.9 1306.3 711.5 1306.1C711 1305.9 710.6 1305.7 710.1 1305.5C709.5 1305.3 709 1305.1 708.4 1305C707.8 1304.9 707.2 1304.7 706.6 1304.6C705.9 1304.5 705.2 1304.4 704.6 1304.4C703.9 1304.3 703.2 1304.3 702.5 1304.3C701.8 1304.2 701.1 1304.3 700.5 1304.3C699.8 1304.4 699.1 1304.5 698.5 1304.6C697.9 1304.7 697.3 1304.9 696.7 1305C696.2 1305.2 695.6 1305.4 695.2 1305.7C694.7 1305.9 694.3 1306.2 694 1306.5C693.6 1306.8 693.4 1307.1 693.2 1307.5C693 1307.8 692.9 1308.2 692.8 1308.6C692.8 1309 692.8 1309.4 693 1309.8C693.1 1310.3 693.3 1310.7 693.7 1311.1C694 1311.6 694.4 1312 694.9 1312.5C695.4 1312.9 696 1313.3 696.6 1313.8C697.3 1314.2 698.1 1314.6 698.9 1315C699.7 1315.4 700.6 1315.8 701.6 1316.1C702.6 1316.5 703.6 1316.8 704.7 1317.1C705.8 1317.4 706.9 1317.7 708.1 1317.9C709.3 1318.1 710.5 1318.3 711.7 1318.4C712.9 1318.5 714.2 1318.6 715.4 1318.7C716.6 1318.7 717.8 1318.7 719 1318.6C720.2 1318.6 721.4 1318.5 722.5 1318.3C723.6 1318.2 724.7 1317.9 725.7 1317.7C726.7 1317.4 727.7 1317.1 728.5 1316.7C729.4 1316.4 730.2 1316 730.8 1315.5C731.5 1315.1 732.1 1314.6 732.5 1314C732.9 1313.5 733.3 1312.9 733.5 1312.3C733.7 1311.7 733.7 1311.1 733.7 1310.4C733.6 1309.8 733.4 1309.1 733.1 1308.4C732.8 1307.7 732.3 1307.1 731.7 1306.4C731.1 1305.7 730.3 1305 729.5 1304.3C728.6 1303.6 727.6 1303 726.5 1302.3C725.4 1301.7 724.1 1301.1 722.8 1300.5C721.5 1299.9 720 1299.4 718.5 1298.9C717 1298.4 715.4 1297.9 713.7 1297.5C712.1 1297.1 710.3 1296.7 708.6 1296.4C706.9 1296.2 705 1295.9 703.3 1295.8C701.5 1295.6 699.7 1295.5 697.9 1295.5C696.1 1295.5 694.3 1295.5 692.6 1295.6C690.9 1295.8 689.3 1296 687.7 1296.2C686.1 1296.5 684.6 1296.8 683.2 1297.3C681.9 1297.7 680.6 1298.1 679.4 1298.7C678.3 1299.2 677.2 1299.8 676.4 1300.5C675.5 1301.2 674.8 1301.9 674.2 1302.7C673.7 1303.4 673.3 1304.2 673.1 1305.1C672.9 1305.9 672.9 1306.8 673 1307.7C673.2 1308.6 673.5 1309.6 674 1310.5C674.6 1311.4 675.3 1312.4 676.2 1313.3C677.1 1314.3 678.1 1315.2 679.4 1316.1C680.6 1317 682 1317.9 683.6 1318.8C685.1 1319.6 686.9 1320.4 688.7 1321.2C690.5 1322 692.5 1322.7 694.6 1323.3C696.6 1324 698.8 1324.6 701 1325.1C703.2 1325.6 705.6 1326.1 707.9 1326.4C710.2 1326.8 712.6 1327.1 715 1327.2C717.3 1327.4 719.7 1327.5 722.1 1327.5C724.4 1327.5 726.7 1327.4 728.9 1327.3C731.1 1327.1 733.3 1326.8 735.3 1326.4C737.3 1326 739.2 1325.6 741 1325C742.7 1324.5 744.4 1323.8 745.8 1323.1C747.3 1322.4 748.6 1321.6 749.6 1320.7C750.7 1319.8 751.6 1318.9 752.2 1317.9C752.9 1316.9 753.3 1315.8 753.6 1314.7C753.8 1313.6 753.8 1312.5 753.5 1311.3C753.2 1310.1 752.8 1308.9 752 1307.8C751.3 1306.6 750.4 1305.4 749.2 1304.2C748 1303 746.6 1301.8 745 1300.7C743.4 1299.5 741.5 1298.4 739.5 1297.3C737.6 1296.3 735.3 1295.2 733 1294.3C730.7 1293.3 728.2 1292.4 725.6 1291.6C723 1290.8 720.2 1290.1 717.4 1289.5C714.6 1288.9 711.7 1288.3 708.8 1287.9C705.9 1287.5 702.9 1287.1 700 1286.9C697 1286.7 694.1 1286.6 691.2 1286.6C688.3 1286.7 685.5 1286.8 682.8 1287C680.1 1287.3 677.4 1287.7 674.9 1288.1C672.5 1288.6 670.1 1289.2 668 1289.9C665.8 1290.6 663.9 1291.4 662.1 1292.3C660.4 1293.2 658.8 1294.2 657.6 1295.3C656.3 1296.4 655.2 1297.6 654.5 1298.8C653.7 1300 653.2 1301.3 653 1302.7C652.8 1304 652.8 1305.4 653.2 1306.9C653.5 1308.3 654.2 1309.7 655.1 1311.2C656 1312.6 657.2 1314.1 658.7 1315.5C660.1 1317 661.9 1318.4 663.9 1319.8C665.8 1321.1 668.1 1322.5 670.5 1323.8C673 1325.1 675.6 1326.3 678.5 1327.4C681.3 1328.5 684.4 1329.6 687.5 1330.6C690.6 1331.5 694 1332.4 697.3 1333.1C700.7 1333.8 704.2 1334.5 707.7 1335C711.2 1335.5 714.8 1335.9 718.3 1336.1C721.8 1336.3 725.3 1336.4 728.7 1336.4C732.2 1336.4 735.6 1336.2 738.8 1335.9C742 1335.5 745.1 1335.1 748 1334.5C750.9 1333.9 753.7 1333.2 756.2 1332.3C758.8 1331.5 761.1 1330.5 763.1 1329.4C765.2 1328.4 767 1327.2 768.4 1325.9C769.9 1324.6 771.1 1323.2 772 1321.7C772.9 1320.3 773.4 1318.7 773.6 1317.1C773.9 1315.5 773.8 1313.9 773.3 1312.2C772.9 1310.5 772.1 1308.8 771 1307.1C769.9 1305.4 768.4 1303.7 766.7 1302C764.9 1300.3 762.8 1298.6 760.5 1297C758.2 1295.4 755.5 1293.8 752.6 1292.3C749.7 1290.8 746.6 1289.4 743.2 1288.1C739.9 1286.8 736.3 1285.5 732.6 1284.4C728.9 1283.3 725 1282.3 721.1 1281.5C717.2 1280.6 713.1 1279.9 709 1279.3C704.9 1278.8 700.8 1278.4 696.7 1278.1C692.6 1277.8 688.5 1277.7 684.5 1277.8C680.6 1277.8 676.6 1278.1 672.9 1278.4C669.2 1278.8 665.5 1279.4 662.2 1280C658.8 1280.7 655.6 1281.6 652.7 1282.6C649.8 1283.6 647.2 1284.7 644.8 1286C642.5 1287.2 640.4 1288.6 638.8 1290.1C637.1 1291.6 635.7 1293.3 634.7 1295C633.8 1296.6 633.1 1298.5 632.9 1300.3C632.7 1302.1 632.8 1304 633.4 1306C633.9 1307.9 634.9 1309.9 636.2 1311.8C637.5 1313.8 639.1 1315.8 641.2 1317.7C643.2 1319.7 645.6 1321.6 648.3 1323.4C651.1 1325.3 654.1 1327.1 657.5 1328.8C660.8 1330.5 664.4 1332.1 668.3 1333.6C672.1 1335.1 676.2 1336.5 680.4 1337.8C684.7 1339 689.1 1340.2 693.7 1341.1C698.2 1342.1 702.9 1342.9 707.5 1343.5C712.2 1344.2 716.9 1344.6 721.6 1344.9C726.2 1345.2 730.9 1345.3 735.4 1345.2C739.9 1345.2 744.4 1344.9 748.6 1344.5C752.9 1344 757 1343.4 760.8 1342.6C764.6 1341.8 768.2 1340.8 771.5 1339.7C774.8 1338.6 777.8 1337.2 780.4 1335.8C783 1334.4 786.1 1331.8 787.2 1331M875.6 1312.7C866.7 1314.4 839.1 1320.3 822.4 1322.8C805.6 1325.2 788.8 1326.9 775 1327.5C761.2 1328.1 749.4 1327.8 739.5 1326.3C729.7 1324.9 719.8 1319.9 715.9 1318.6M875.6 1318.6C866.7 1320.1 839.1 1325.2 822.4 1327.5C805.6 1329.8 789.8 1331.8 775 1332.2C760.2 1332.7 746.4 1332.2 733.6 1330.5C720.8 1328.7 704 1323.1 698.1 1321.6M395 1425C391.2 1417.5 376.8 1395.8 372 1380C367.2 1364.2 365 1347.5 366 1330C367 1312.5 371.5 1290 378 1275C384.5 1260 396 1247.2 405 1240C414 1232.8 424.8 1229.5 432 1232C439.2 1234.5 443 1243.7 448 1255C453 1266.3 457 1284.2 462 1300C467 1315.8 472.3 1334.2 478 1350C483.7 1365.8 491.5 1382.5 496 1395C500.5 1407.5 506 1417 505 1425C504 1433 496.7 1440.5 490 1443C483.3 1445.5 469.2 1440.5 465 1440M410.2 1419C407.1 1413 395.6 1395.7 391.8 1383C387.9 1370.3 386.2 1357 387 1343C387.8 1329 391.4 1311 396.6 1299C401.8 1287 411 1276.7 418.2 1271C425.4 1265.3 434 1262.6 439.8 1264.6C445.5 1266.6 448.6 1273.9 452.6 1283C456.6 1292.1 459.8 1306.3 463.8 1319C467.8 1331.7 472 1346.3 476.6 1359C481.1 1371.7 487.4 1385 491 1395C494.6 1405 499 1412.6 498.2 1419C497.4 1425.4 491.5 1431.4 486.2 1433.4C480.8 1435.4 469.5 1431.4 466.2 1431M423.8 1413.6C421.5 1409 412.6 1395.5 409.6 1385.7C406.6 1375.9 405.2 1365.5 405.9 1354.7C406.5 1343.9 409.3 1329.9 413.3 1320.6C417.3 1311.3 424.5 1303.3 430 1298.9C435.6 1294.5 442.3 1292.4 446.8 1293.9C451.2 1295.5 453.6 1301.2 456.7 1308.2C459.8 1315.2 462.3 1326.3 465.4 1336.1C468.5 1345.9 471.8 1357.3 475.3 1367.1C478.8 1376.9 483.7 1387.2 486.5 1395C489.3 1402.8 492.7 1408.6 492 1413.6C491.4 1418.6 486.9 1423.2 482.7 1424.8C478.6 1426.3 469.8 1423.2 467.2 1422.9M436.7 1408.5C435 1405.1 428.6 1395.4 426.4 1388.2C424.2 1381.1 423.2 1373.6 423.7 1365.8C424.1 1357.9 426.2 1347.8 429.1 1341C432 1334.2 437.2 1328.5 441.2 1325.2C445.3 1322 450.2 1320.5 453.4 1321.7C456.6 1322.8 458.3 1326.9 460.6 1332C462.8 1337.1 464.6 1345.1 466.9 1352.2C469.1 1359.4 471.5 1367.6 474.1 1374.8C476.6 1381.9 480.2 1389.4 482.2 1395C484.2 1400.6 486.7 1404.9 486.2 1408.5C485.8 1412.1 482.5 1415.5 479.5 1416.6C476.5 1417.7 470.1 1415.5 468.2 1415.2M448.1 1404C447 1401.8 442.7 1395.2 441.2 1390.5C439.8 1385.8 439.1 1380.8 439.4 1375.5C439.7 1370.2 441.1 1363.5 443 1359C445 1354.5 448.4 1350.7 451.1 1348.5C453.8 1346.3 457.1 1345.3 459.2 1346.1C461.4 1346.8 462.5 1349.6 464 1353C465.5 1356.4 466.7 1361.8 468.2 1366.5C469.7 1371.2 471.3 1376.8 473 1381.5C474.7 1386.2 477.1 1391.2 478.4 1395C479.8 1398.8 481.4 1401.6 481.1 1404C480.8 1406.4 478.6 1408.7 476.6 1409.4C474.6 1410.2 470.4 1408.7 469.1 1408.5M468.9 1415C468.9 1415.1 469 1415.4 469.1 1415.6C469.1 1415.8 469.1 1416 469 1416.2C469 1416.5 468.9 1416.7 468.8 1416.9C468.7 1417.1 468.5 1417.3 468.4 1417.5C468.2 1417.7 468 1417.9 467.7 1418.1C467.5 1418.2 467.2 1418.3 466.9 1418.4C466.6 1418.5 466.3 1418.5 466 1418.5C465.6 1418.5 465.3 1418.5 465 1418.3C464.6 1418.2 464.3 1418.1 464 1417.9C463.7 1417.7 463.4 1417.5 463.1 1417.2C462.9 1416.9 462.7 1416.5 462.5 1416.2C462.3 1415.8 462.2 1415.4 462.1 1415C462 1414.6 462 1414.1 462 1413.7C462.1 1413.3 462.2 1412.8 462.3 1412.4C462.5 1411.9 462.7 1411.5 463 1411.1C463.3 1410.7 463.6 1410.3 464 1410C464.4 1409.7 464.9 1409.4 465.4 1409.2C465.8 1409 466.4 1408.9 466.9 1408.8C467.4 1408.7 468 1408.7 468.6 1408.8C469.1 1408.9 469.7 1409 470.2 1409.2C470.8 1409.4 471.3 1409.8 471.8 1410.1C472.3 1410.5 472.7 1410.9 473.1 1411.4C473.5 1411.9 473.8 1412.5 474 1413.1C474.3 1413.7 474.4 1414.3 474.5 1415C474.6 1415.7 474.6 1416.4 474.5 1417C474.4 1417.7 474.2 1418.4 473.9 1419C473.6 1419.7 473.2 1420.3 472.8 1420.9C472.3 1421.4 471.8 1422 471.2 1422.4C470.6 1422.8 469.9 1423.2 469.2 1423.5C468.5 1423.7 467.7 1423.9 466.9 1424C466.1 1424.1 465.3 1424.1 464.5 1423.9C463.7 1423.8 462.9 1423.5 462.2 1423.2C461.4 1422.9 460.7 1422.4 460 1421.9C459.4 1421.3 458.8 1420.7 458.3 1420C457.8 1419.3 457.4 1418.5 457.1 1417.6C456.8 1416.8 456.6 1415.9 456.5 1415C456.4 1414.1 456.5 1413.2 456.6 1412.2C456.8 1411.3 457.1 1410.4 457.5 1409.6C457.9 1408.7 458.4 1407.9 459.1 1407.2C459.7 1406.4 460.4 1405.7 461.2 1405.2C462 1404.6 463 1404.2 463.9 1403.8C464.9 1403.5 465.9 1403.3 466.9 1403.2C467.9 1403.1 469 1403.2 470 1403.4C471 1403.6 472.1 1403.9 473 1404.4C474 1404.8 474.9 1405.5 475.7 1406.2C476.6 1406.9 477.3 1407.7 477.9 1408.6C478.5 1409.5 479.1 1410.6 479.4 1411.6C479.8 1412.7 480 1413.9 480.1 1415C480.2 1416.1 480.1 1417.3 479.9 1418.5C479.6 1419.6 479.3 1420.8 478.7 1421.8C478.2 1422.9 477.5 1423.9 476.7 1424.8C475.9 1425.7 475 1426.6 474 1427.2C472.9 1427.9 471.8 1428.5 470.6 1428.9C469.4 1429.3 468.2 1429.5 466.9 1429.6C465.6 1429.7 464.3 1429.6 463.1 1429.3C461.8 1429.1 460.5 1428.6 459.4 1428C458.2 1427.5 457.1 1426.7 456.1 1425.8C455.1 1424.9 454.2 1423.9 453.4 1422.8C452.7 1421.6 452.1 1420.4 451.7 1419.1C451.2 1417.8 451 1415.7 450.9 1415"/>
<path class="ar" d="M128.4 885.4L138.6 887.8M129 892.2L138.6 887.8M317.4 869.1L327.6 871.7M318 875.9L327.6 871.7M179.7 895.8L190 898M180.6 902.6L190 898M370 874.5L380.2 877.1M370.5 881.3L380.2 877.1M233.7 905L244 906.9M234.7 911.8L244 906.9M422.7 880.3L432.9 882.7M423.3 887.1L432.9 882.7M135.9 933.1L146.1 935.5M136.6 939.9L146.1 935.5M323.8 906.1L334.2 908M324.8 912.9L334.2 908M513.1 886L523.2 888.7M513.5 892.8L523.2 888.7M703.2 877.5L713.2 880.7M703.4 884.4L713.2 880.7M188.1 944.1L198.4 946.3M188.9 950.9L198.4 946.3M377.1 912.9L387.4 914.9M378.1 919.7L387.4 914.9M564.4 894L574.5 896.8M564.8 900.8L574.5 896.8M756.3 887.3L766.3 890.5M756.4 894.1L766.3 890.5M239 951.9L249.4 953.4M240.3 958.6L249.4 953.4M428.2 915.8L438.5 917.8M429.1 922.5L438.5 917.8M617.4 901.1L627.5 904.2M617.6 907.9L627.5 904.2M807 897.2L817 900.5M807.1 904.1L817 900.5M142.9 981.1L153.1 983.4M143.6 987.9L153.1 983.4M329.4 947.7L339.8 948.7M331 954.3L339.8 948.7M516.9 916.2L527 918.8M517.4 923L527 918.8M707.1 909.6L717 912.8M707.2 916.4L717 912.8M194.6 990.7L204.9 992.5M195.6 997.4L204.9 992.5M378.3 946.3L388.8 947.1M380 952.9L388.8 947.1M567.7 922.4L577.7 925.4M567.9 929.2L577.7 925.4M756.2 919.5L766.2 922.8M756.4 926.4L766.2 922.8M246.9 997.1L257.3 998.2M248.4 1003.8L257.3 998.2M430.5 944.7L440.9 946.5M431.6 951.5L440.9 946.5M618.4 930.1L628.4 933.3M618.5 936.9L628.4 933.3M809.6 926.9L819.6 930.2M809.7 933.8L819.6 930.2M151.5 1028.6L161.8 1030.9M152.3 1035.4L161.8 1030.9M333.4 986.3L343.9 985.6M336.1 992.6L343.9 985.6M520.3 944.6L530.5 947M520.9 951.4L530.5 947M708.9 936.9L718.9 940.1M709 943.7L718.9 940.1M204.4 1038.1L214.8 1039.8M205.6 1044.9L214.8 1039.8M381.1 979L391.6 979.2M383.2 985.5L391.6 979.2M569.5 950L579.5 952.9M569.8 956.8L579.5 952.9M759.8 944.3L769.8 947.5M759.9 951.1L769.8 947.5M255 1046L265.4 1046.9M256.7 1052.7L265.4 1046.9M429.8 973.7L440.1 975.3M431 980.4L440.1 975.3M619.3 966.3L629.5 968.7M619.9 973.1L629.5 968.7M808.9 952.5L819 955.6M809.1 959.3L819 955.6M160 1079L170.2 1081.4M160.6 1085.8L170.2 1081.4M340.5 1028.7L350.8 1026.5M344 1034.5L350.8 1026.5M517.7 981.4L527.2 985.7M517 988.2L527.2 985.7M705.9 970.8L716.1 973.1M706.7 977.6L716.1 973.1M481.6 869.7L491.3 873.5M481.3 876.5L491.3 873.5M670 875.3L679.9 878.8M669.9 882.1L679.9 878.8M861 874.7L870.9 878M861 881.5L870.9 878M653.1 902L663 905.6M653 908.9L663 905.6M842.3 904.7L852.2 908.1M842.3 911.5L852.2 908.1M600.6 934.5L610.6 937.7M600.8 941.3L610.6 937.7M791 931.4L800.9 934.9M791 938.3L800.9 934.9M204.9 1091L215.2 1093M205.8 1097.7L215.2 1093M374.2 1021.3L384.1 1017.9M378.4 1026.7L384.1 1017.9M512.2 995.9L519.9 1003M509.4 1002.2L519.9 1003M681.5 980.6L691.8 982.5M682.5 987.4L691.8 982.5M136.6 1106.6L146.8 1109.2M137.1 1113.4L146.8 1109.2M305.5 1090.8L315.8 1092.8M306.5 1097.6L315.8 1092.8M457.1 1020.7L467.2 1023.4M457.5 1027.5L467.2 1023.4M182 1111.4L192.2 1114M182.6 1118.2L192.2 1114M349.4 1088.3L359.9 1088M351.8 1094.7L359.9 1088M508.8 1059.1L514.5 1068M504.6 1064.4L514.5 1068M223.8 1115.8L234 1118M224.6 1122.6L234 1118M389.4 1081.7L399.9 1081M392 1088L399.9 1081M537.4 1110.3L537.6 1120.8M531 1112.7L537.6 1120.8M264.6 1118.8L274.9 1120.8M265.6 1125.6L274.9 1120.8M429.9 1076.5L440.4 1077.3M431.6 1083.2L440.4 1077.3M555.3 1157.6L551.9 1167.6M548.5 1157.7L551.9 1167.6M168.3 1142.1L178.5 1144.8M168.8 1148.9L178.5 1144.8M337.7 1116.6L348.2 1117.6M339.3 1123.3L348.2 1117.6M503.5 1089.2L510.9 1096.7M500.4 1095.3L510.9 1096.7M517.5 1239.4L513.3 1249M510.7 1238.8L513.3 1249M545.5 1401.2L548.3 1411.4M539.9 1405.1L548.3 1411.4M698.1 1457.4L707.3 1462.4M696.9 1464.1L707.3 1462.4M865.1 1484.8L874.4 1489.7M864.1 1491.6L874.4 1489.7M211.6 1146.8L221.8 1149.2M212.3 1153.6L221.8 1149.2M377.3 1115.8L387.8 1115.9M379.4 1122.3L387.8 1115.9M531.6 1143.8L531.1 1154.3M525 1145.8L531.1 1154.3M512.9 1307.3L510.6 1317.6M506.1 1308.1L510.6 1317.6M598.5 1438.1L606.9 1444.3M596.4 1444.6L606.9 1444.3M764.4 1470.9L773.6 1476M763.3 1477.7L773.6 1476M255 1150.7L265.3 1152.9M255.9 1157.5L265.3 1152.9M420.3 1115.4L430.7 1117M421.6 1122.2L430.7 1117M524.4 1210.7L519.3 1219.9M517.7 1209.5L519.3 1219.9M524.8 1372.8L525.6 1383.3M518.6 1375.5L525.6 1383.3M660.4 1454.7L669.5 1459.9M659.1 1461.4L669.5 1459.9M827.5 1483.6L836.8 1488.5M826.5 1490.3L836.8 1488.5M158 1167.6L168.1 1170.3M158.4 1174.4L168.1 1170.3M325.8 1149L336.2 1150.3M327.2 1155.7L336.2 1150.3M495.1 1137.6L499.7 1147.1M490.3 1142.4L499.7 1147.1M504.8 1303.2L502.3 1313.4M498 1303.9L502.3 1313.4M583 1437.5L591.4 1443.8M580.9 1444L591.4 1443.8M749.1 1472.9L758.3 1478M748 1479.7L758.3 1478M200.7 1177L210.8 1179.6M201.2 1183.8L210.8 1179.6M370 1151.8L380.4 1153M371.5 1158.5L380.4 1153M508.5 1202.1L505.1 1212M501.7 1202.1L505.1 1212M516.1 1368L517.1 1378.4M509.9 1370.8L517.1 1378.4M647.6 1454.2L656.6 1459.6M646.1 1460.9L656.6 1459.6M813.3 1484.6L822.6 1489.6M812.2 1491.4L822.6 1489.6M245.6 1185.6L255.9 1188M246.3 1192.4L255.9 1188M412.4 1156.7L422.7 1158.3M413.6 1163.4L422.7 1158.3M495.9 1266.8L491.8 1276.5M489.1 1266.4L491.8 1276.5M548.2 1418.2L554.1 1426.9M544.1 1423.7L554.1 1426.9M706.4 1466.3L715.5 1471.5M705.1 1473L715.5 1471.5M147.9 1205.6L158 1208.4M148.4 1212.5L158 1208.4M316.2 1188.9L326.5 1190.4M317.4 1195.7L326.5 1190.4M482.7 1192L483.2 1202.5M476.4 1194.5L483.2 1202.5M500.4 1356.1L501.3 1366.6M494.1 1358.9L501.3 1366.6M630.9 1450.6L639.7 1456.2M629.3 1457.2L639.7 1456.2M797 1483.6L806.2 1488.7M795.8 1490.3L806.2 1488.7M189.3 1215.3L199.4 1218M189.8 1222.2L199.4 1218M360.1 1193.3L370.6 1194.7M361.5 1200L370.6 1194.7M482.2 1255.3L478 1264.9M475.4 1254.7L478 1264.9M529.4 1408.7L534.7 1417.7M524.9 1413.8L534.7 1417.7M685.1 1462.8L694.2 1468.1M683.8 1469.5L694.2 1468.1M855 1495L864.2 1500.2M853.8 1501.8L864.2 1500.2M233.8 1224.4L243.9 1226.9M234.3 1231.2L243.9 1226.9M402.1 1198.2L412.5 1199.5M403.5 1204.9L412.5 1199.5M473.8 1318.3L472.1 1328.7M467 1319.5L472.1 1328.7M574.9 1437.7L583.5 1443.7M573 1444.3L583.5 1443.7M740.7 1474.3L749.8 1479.5M739.4 1481L749.8 1479.5M277.5 1232.8L287.7 1235.1M278.3 1239.6L287.7 1235.1M444.8 1217.1L450 1226.2M440.3 1222.3L450 1226.2M484.9 1377.4L487.4 1387.6M479.2 1381L487.4 1387.6M628.1 1450.1L637 1455.7M626.5 1456.8L637 1455.7M796 1485.7L805.1 1491M794.7 1492.4L805.1 1491M414.1 1021.5L424.5 1020M417.3 1027.6L424.5 1020M440.8 1023L451.2 1024.7M441.9 1029.8L451.2 1024.7M177.5 1258.1L187.4 1261.6M177.4 1264.9L187.4 1261.6M346.7 1280.2L354.7 1286.9M344.2 1286.5L354.7 1286.9M130.1 1278.8L139.8 1282.8M129.6 1285.6L139.8 1282.8M297.5 1305.4L305.3 1312.5M294.8 1311.7L305.3 1312.5M407.5 1429.8L412.3 1439.1M402.8 1434.7L412.3 1439.1M566.2 1458.6L575.9 1462.5M565.8 1465.5L575.9 1462.5M733 1488.4L742.2 1493.5M731.8 1495.2L742.2 1493.5M187.8 1299.6L197.2 1304.3M186.9 1306.4L197.2 1304.3M344.5 1357.7L348.5 1367.4M339.4 1362.2L348.5 1367.4M467.2 1466.2L476.2 1471.7M465.8 1472.9L476.2 1471.7M637.4 1474.8L646.4 1480.2M636 1481.5L646.4 1480.2M803.2 1504.1L812.4 1509.1M802.1 1510.9L812.4 1509.1M246.1 1327.8L254.8 1333.7M244.3 1334.5L254.8 1333.7M384.8 1418.9L389.4 1428.3M380 1423.8L389.4 1428.3M536.4 1476.3L546.5 1479.1M536.8 1483.1L546.5 1479.1M705.1 1493.1L714.4 1498M704 1499.9L714.4 1498M155.2 1327.7L164.6 1332.4M154.3 1334.5L164.6 1332.4M318 1376L324.5 1384.3M314.3 1381.8L324.5 1384.3M456.8 1472.1L465.4 1478.1M454.9 1478.7L465.4 1478.1M624.4 1486.7L633.9 1491.2M623.6 1493.4L633.9 1491.2M792.4 1510.2L801.8 1515M791.4 1516.9L801.8 1515M214.9 1355.3L223.5 1361.3M213 1361.9L223.5 1361.3M366.7 1427.4L373.1 1435.7M363 1433.1L373.1 1435.7M521.4 1488.8L531 1493.1M520.8 1495.6L531 1493.1M691.2 1501.2L700.6 1505.8M690.3 1508L700.6 1505.8M859.6 1523.3L868.9 1528M858.6 1530.1L868.9 1528M269.1 1391.9L277.1 1398.6M266.6 1398.3L277.1 1398.6M421.2 1471.8L428.9 1478.9M418.5 1478L428.9 1478.9M586.1 1500.1L595.8 1504M585.8 1507L595.8 1504M755.3 1516.4L764.7 1521M754.5 1523.2L764.7 1521M181.8 1385.6L190.9 1390.9M180.5 1392.3L190.9 1390.9M341.1 1441.9L348.3 1449.6M337.9 1447.9L348.3 1449.6M498.8 1500.9L508.2 1505.7M497.8 1507.7L508.2 1505.7M670 1515.2L679.6 1519.5M669.4 1522L679.6 1519.5M838.5 1532.3L848 1536.8M837.7 1539.1L848 1536.8M239.8 1419.7L248.2 1425.9M237.7 1426.2L248.2 1425.9M397.9 1482.1L405.9 1488.9M395.4 1488.5L405.9 1488.9M563.3 1515.5L573 1519.6M562.9 1522.3L573 1519.6M730.8 1528.7L740.4 1533M730.2 1535.5L740.4 1533M149.5 1417.4L158.6 1422.4M148.3 1424.1L158.6 1422.4M313.5 1463.4L321.7 1470M311.2 1469.8L321.7 1470M474.4 1512.3L483.6 1517.3M473.3 1519.1L483.6 1517.3M643.3 1529.6L652.9 1533.8M642.8 1536.4L652.9 1533.8M813 1542.4L822.6 1546.6M812.4 1549.2L822.6 1546.6M209.2 1448.8L217.9 1454.7M207.4 1455.4L217.9 1454.7M369.5 1498.5L378.1 1504.5M367.6 1505L378.1 1504.5M535.4 1528.5L544.9 1533M534.6 1535.3L544.9 1533M706.4 1542.4L716.1 1546.4M706 1549.2L716.1 1546.4M264.5 1484.9L273 1491M262.5 1491.4L273 1491M427.3 1527.6L436.5 1532.7M426.1 1534.4L436.5 1532.7M597.7 1547.7L607.4 1551.8M597.2 1554.6L607.4 1551.8M766.3 1556.8L776 1560.6M765.9 1563.6L776 1560.6M175.5 1481.2L184.5 1486.5M174.1 1487.9L184.5 1486.5M340 1525L348.8 1530.8M338.3 1531.6L348.8 1530.8M507.4 1553.3L516.9 1557.7M506.6 1560.1L516.9 1557.7M676.5 1564.6L686.3 1568.4M676.2 1571.5L686.3 1568.4M846.6 1569.7L856.4 1573.4M846.4 1576.6L856.4 1573.4M235 1511.7L243.8 1517.5M233.3 1518.3L243.8 1517.5M400.9 1547L410.2 1551.8M399.9 1553.8L410.2 1551.8M569.5 1564.9L579.1 1569.1M568.9 1571.7L579.1 1569.1M144.8 1505.5L153.9 1510.7M143.5 1512.2L153.9 1510.7M309.5 1543.6L318.5 1549M308 1550.3L318.5 1549M203.1 1538.8L211.8 1544.6M201.4 1545.4L211.8 1544.6M368.8 1574.6L377.9 1579.9M367.5 1581.3L377.9 1579.9M261.1 1572.2L270.1 1577.6M259.7 1578.9L270.1 1577.6M172.1 1573.5L181.1 1579M170.6 1580.1L181.1 1579M826.6 1112.6L818.3 1106.2M828.8 1106.1L818.3 1106.2M684.2 1069L674.9 1064.1M685.2 1062.3L674.9 1064.1M628.5 988L639 989.3M629.9 994.7L639 989.3M779.8 978.2L789.5 982.2M779.4 985L789.5 982.2M804.5 1134.9L796.7 1128M807.1 1128.6L796.7 1128M663.7 1085.9L654.8 1080.4M665.2 1079.2L654.8 1080.4M781.7 1166.2L774.3 1158.9M784.7 1160.1L774.3 1158.9M643.2 1113.9L634.2 1108.5M644.6 1107.2L634.2 1108.5M761 1191.7L753.6 1184.2M764 1185.5L753.6 1184.2M620.3 1151.1L610.2 1148.1M620 1144.3L610.2 1148.1M736.3 1069.3L727.7 1063.2M738.2 1062.7L727.7 1063.2M614.1 1004.1L624.1 1001.1M618 1009.6L624.1 1001.1M763.7 985.6L773.4 989.6M763.3 992.5L773.4 989.6M720.5 1118.9L712.4 1112.3M722.9 1112.5L712.4 1112.3M698.4 1146L690.1 1139.7M700.6 1139.6L690.1 1139.7M676.6 1175.4L668 1169.2M678.5 1168.8L668 1169.2M851.6 1046.9L841.4 1044.5M851 1040.1L841.4 1044.5M855.3 1057.9L845.3 1054.7M855.1 1051.1L845.3 1054.7M876.7 1007.4L885.4 1013.3M874.9 1014L885.4 1013.3M740.9 1048L733.4 1040.7M743.8 1041.8L733.4 1040.7M918.6 1008.4L926.5 1015.2M916.1 1014.8L926.5 1015.2M767.9 1067.9L759 1062.3M769.5 1061.2L759 1062.3M820.5 979.6L830.1 983.8M819.9 986.4L830.1 983.8M940.2 1083.4L929.9 1081.7M939.1 1076.7L929.9 1081.7M681 1050.8L674 1043.1M684.3 1044.8L674 1043.1M839.6 971.5L849.1 976.1M838.9 978.3L849.1 976.1M988 1086.2L977.5 1085.7M986.1 1079.7L977.5 1085.7M730.5 1080.5L721.7 1074.7M732.2 1073.9L721.7 1074.7M718 960.1L728.2 962.7M718.5 966.9L728.2 962.7M976.1 990.4L984.3 997M973.8 996.8L984.3 997M814.9 1010.6L824.8 1014.2M814.8 1017.4L824.8 1014.2M805.5 1000.7L815.4 1004.2M805.5 1007.5L815.4 1004.2M759.8 1052.3L751.6 1045.8M762.1 1045.9L751.6 1045.8M950.2 1030.4L953 1040.5M944.5 1034.3L953 1040.5M685.9 1023.1L687.5 1012.8M692.6 1022L687.5 1012.8M966.6 1019.4L972.7 1027.9M962.6 1024.9L972.7 1027.9M733.8 1067.5L725.3 1061.3M735.8 1060.9L725.3 1061.3M845.2 974.7L854.6 979.3M844.3 981.4L854.6 979.3M926.1 1094.3L915.9 1091.7M925.5 1087.5L915.9 1091.7M635.8 1036.1L631.3 1026.6M640.7 1031.3L631.3 1026.6M879.1 969.8L888.3 974.8M878 976.5L888.3 974.8M716.2 1283.1L709.2 1275.3M719.6 1277.2L709.2 1275.3M636.7 1337.8L643.9 1345.5M633.5 1343.8L643.9 1345.5M800.5 1343.4L810.9 1344.6M802 1350.1L810.9 1344.6M709.7 1265.3L700.8 1259.8M711.2 1258.6L700.8 1259.8M617.8 1339.8L623.1 1348.8M613.3 1345L623.1 1348.8M777.5 1366.8L787.8 1368.8M778.4 1373.6L787.8 1368.8M703.2 1250.6L693.6 1246.5M703.7 1243.8L693.6 1246.5M584.5 1328.9L585.7 1339.3M578.3 1331.9L585.7 1339.3M729.6 1389.1L739.5 1392.6M729.6 1395.9L739.5 1392.6M690.5 1241.5L680.7 1237.8M690.7 1234.7L680.7 1237.8M572.5 1322.3L572.1 1332.7M566 1324.2L572.1 1332.7M704.6 1400L714.3 1404.2M704.1 1406.8L714.3 1404.2M788.3 1266.2L781.5 1258.1M791.8 1260.3L781.5 1258.1M628.7 1235L618.3 1233.9M627.2 1228.3L618.3 1233.9M574.7 1358.6L578.3 1368.5M569.4 1362.9L578.3 1368.5M725.1 1414.4L734.8 1418.3M724.8 1421.3L734.8 1418.3M779.8 1249.6L772.3 1242.3M782.7 1243.4L772.3 1242.3M616.3 1223.4L605.9 1222.6M614.6 1216.8L605.9 1222.6M549.7 1348.6L551.2 1359M543.6 1351.7L551.2 1359M689.9 1425L699.4 1429.5M689.2 1431.8L699.4 1429.5M857.8 1430.7L867.7 1434.1M857.8 1437.6L867.7 1434.1M741.8 1224.1L733.8 1217.3M744.3 1217.8L733.8 1217.3M582.7 1217.8L572.6 1220.4M579 1212.1L572.6 1220.4M544.8 1362L547 1372.3M538.9 1365.6L547 1372.3M689 1434.2L698.5 1438.8M688.3 1441L698.5 1438.8M856.2 1440.8L866.1 1444.3M856.2 1447.7L866.1 1444.3M815.8 1251.5L807.7 1244.8M818.2 1245.1L807.7 1244.8M659.3 1188.1L649.8 1183.5M660.1 1181.4L649.8 1183.5M527.9 1259.8L521.8 1268.3M521.3 1257.9L521.8 1268.3M571.4 1407.1L578.1 1415.2M567.8 1412.9L578.1 1415.2M734 1447.6L743.8 1451.4M733.7 1454.4L743.8 1451.4M674.7 1300L674 1310.5M668.1 1301.8L674 1310.5M676.4 1322.8L684.4 1329.6M673.9 1329.1L684.4 1329.6M649 1287.9L638.8 1290.1M645.5 1282.1L638.8 1290.1M785.8 1323.5L796 1326M786.4 1330.3L796 1326M777 1328.8L787.1 1331.6M777.4 1335.6L787.1 1331.6M376.9 1399.8L375.6 1389.4M383 1396.8L375.6 1389.4M395.3 1244L405 1240M399.8 1249.1L405 1240M478 1339.5L478 1350M471.5 1341.7L478 1350M384.1 1362.7L386.8 1352.6M390.9 1362.3L386.8 1352.6M460.6 1295.6L460 1306.1M454 1297.4L460 1306.1M475.1 1436.5L466.2 1431M476.6 1429.9L466.2 1431M407.8 1325.4L414.8 1317.6M414.1 1328L414.8 1317.6M488.9 1391.7L489.3 1402.2M482.5 1394.2L489.3 1402.2M465.6 1335.5L465.1 1346M459 1337.4L465.1 1346"/>
<path d="M392.1 1010.3A127.0 127.0 0 1 1 509.2 1235.7M426.2 1218.7A127.0 127.0 0 1 0 542.5 1444.5" fill="none" stroke="#fff" stroke-width="6"/>
<ellipse cx="828" cy="1031" rx="22" ry="8" fill="#000"/><ellipse cx="712" cy="1309" rx="24" ry="9" transform="rotate(8 712 1309)" fill="#000"/><path d="M700 1316 L770 1326 L776 1324 L725 1312Z" fill="#000"/><circle cx="467" cy="1415" r="6.5" fill="#000"/>
<path d="M545 1432 Q 640 1452 770 1480 T 876 1502" fill="none" stroke="#000" stroke-width="5" stroke-opacity="0.55"/>
</g>
<rect x="93" y="871" width="3.5" height="714.6" fill="#000"/>
<rect x="93" y="1581.5" width="783.5" height="4.1" fill="#000"/>
<rect x="96.5" y="882.8" width="8.5" height="1" fill="#000"/>
<rect x="96.5" y="897.7" width="16.4" height="4" fill="#000"/>
<rect x="96.5" y="915.6" width="8.5" height="1" fill="#000"/>
<rect x="96.5" y="932" width="8.5" height="1" fill="#000"/>
<rect x="96.5" y="948.3" width="8.5" height="1" fill="#000"/>
<rect x="96.5" y="963.2" width="16.4" height="4" fill="#000"/>
<rect x="96.5" y="981.1" width="8.5" height="1" fill="#000"/>
<rect x="96.5" y="997.5" width="8.5" height="1" fill="#000"/>
<rect x="96.5" y="1013.8" width="8.5" height="1" fill="#000"/>
<rect x="96.5" y="1028.7" width="16.4" height="4" fill="#000"/>
<rect x="96.5" y="1046.6" width="8.5" height="1" fill="#000"/>
<rect x="96.5" y="1063" width="8.5" height="1" fill="#000"/>
<rect x="96.5" y="1079.3" width="8.5" height="1" fill="#000"/>
<rect x="96.5" y="1094.2" width="16.4" height="4" fill="#000"/>
<rect x="96.5" y="1112.1" width="8.5" height="1" fill="#000"/>
<rect x="96.5" y="1128.5" width="8.5" height="1" fill="#000"/>
<rect x="96.5" y="1144.8" width="8.5" height="1" fill="#000"/>
<rect x="96.5" y="1159.7" width="16.4" height="4" fill="#000"/>
<rect x="96.5" y="1177.6" width="8.5" height="1" fill="#000"/>
<rect x="96.5" y="1194" width="8.5" height="1" fill="#000"/>
<rect x="96.5" y="1210.3" width="8.5" height="1" fill="#000"/>
<rect x="96.5" y="1225.2" width="16.4" height="4" fill="#000"/>
<rect x="96.5" y="1243.1" width="8.5" height="1" fill="#000"/>
<rect x="96.5" y="1259.5" width="8.5" height="1" fill="#000"/>
<rect x="96.5" y="1275.8" width="8.5" height="1" fill="#000"/>
<rect x="96.5" y="1290.7" width="16.4" height="4" fill="#000"/>
<rect x="96.5" y="1308.6" width="8.5" height="1" fill="#000"/>
<rect x="96.5" y="1325" width="8.5" height="1" fill="#000"/>
<rect x="96.5" y="1341.3" width="8.5" height="1" fill="#000"/>
<rect x="96.5" y="1356.2" width="16.4" height="4" fill="#000"/>
<rect x="96.5" y="1374.1" width="8.5" height="1" fill="#000"/>
<rect x="96.5" y="1390.5" width="8.5" height="1" fill="#000"/>
<rect x="96.5" y="1406.8" width="8.5" height="1" fill="#000"/>
<rect x="96.5" y="1421.7" width="16.4" height="4" fill="#000"/>
<rect x="96.5" y="1439.6" width="8.5" height="1" fill="#000"/>
<rect x="96.5" y="1456" width="8.5" height="1" fill="#000"/>
<rect x="96.5" y="1472.3" width="8.5" height="1" fill="#000"/>
<rect x="96.5" y="1487.2" width="16.4" height="4" fill="#000"/>
<rect x="96.5" y="1505.1" width="8.5" height="1" fill="#000"/>
<rect x="96.5" y="1521.5" width="8.5" height="1" fill="#000"/>
<rect x="96.5" y="1537.8" width="8.5" height="1" fill="#000"/>
<rect x="96.5" y="1552.7" width="16.4" height="4" fill="#000"/>
<rect x="96.5" y="1570.6" width="8.5" height="1" fill="#000"/>
<rect x="107.5" y="1574.5" width="1" height="7" fill="#000"/>
<rect x="139.1" y="1567.1" width="3.2" height="14.4" fill="#000"/>
<rect x="172.9" y="1574.5" width="1" height="7" fill="#000"/>
<rect x="205.6" y="1574.5" width="1" height="7" fill="#000"/>
<rect x="238.3" y="1574.5" width="1" height="7" fill="#000"/>
<rect x="271" y="1574.5" width="1" height="7" fill="#000"/>
<rect x="302.6" y="1567.1" width="3.2" height="14.4" fill="#000"/>
<rect x="336.4" y="1574.5" width="1" height="7" fill="#000"/>
<rect x="369.1" y="1574.5" width="1" height="7" fill="#000"/>
<rect x="401.8" y="1574.5" width="1" height="7" fill="#000"/>
<rect x="434.5" y="1574.5" width="1" height="7" fill="#000"/>
<rect x="466.1" y="1567.1" width="3.2" height="14.4" fill="#000"/>
<rect x="499.9" y="1574.5" width="1" height="7" fill="#000"/>
<rect x="532.6" y="1574.5" width="1" height="7" fill="#000"/>
<rect x="565.3" y="1574.5" width="1" height="7" fill="#000"/>
<rect x="598" y="1574.5" width="1" height="7" fill="#000"/>
<rect x="629.6" y="1567.1" width="3.2" height="14.4" fill="#000"/>
<rect x="663.4" y="1574.5" width="1" height="7" fill="#000"/>
<rect x="696.1" y="1574.5" width="1" height="7" fill="#000"/>
<rect x="728.8" y="1574.5" width="1" height="7" fill="#000"/>
<rect x="761.5" y="1574.5" width="1" height="7" fill="#000"/>
<rect x="793.1" y="1567.1" width="3.2" height="14.4" fill="#000"/>
<rect x="826.9" y="1574.5" width="1" height="7" fill="#000"/>
<rect x="859.6" y="1574.5" width="1" height="7" fill="#000"/>
<text transform="translate(84 909.5) scale(0.96 1)" font-size="27.4" text-anchor="end">-0.1</text>
<text transform="translate(84 975) scale(0.96 1)" font-size="27.4" text-anchor="end">-0.08</text>
<text transform="translate(84 1040.5) scale(0.96 1)" font-size="27.4" text-anchor="end">-0.06</text>
<text transform="translate(84 1106) scale(0.96 1)" font-size="27.4" text-anchor="end">-0.04</text>
<text transform="translate(84 1171.5) scale(0.96 1)" font-size="27.4" text-anchor="end">-0.02</text>
<text transform="translate(84 1237) scale(0.96 1)" font-size="27.4" text-anchor="end">0</text>
<text transform="translate(84 1302.5) scale(0.96 1)" font-size="27.4" text-anchor="end">0.02</text>
<text transform="translate(84 1368) scale(0.96 1)" font-size="27.4" text-anchor="end">0.04</text>
<text transform="translate(84 1433.5) scale(0.96 1)" font-size="27.4" text-anchor="end">0.06</text>
<text transform="translate(84 1499) scale(0.96 1)" font-size="27.4" text-anchor="end">0.08</text>
<text transform="translate(84 1564.5) scale(0.96 1)" font-size="27.4" text-anchor="end">0.1</text>
<text transform="translate(140.7 1611) scale(0.96 1)" font-size="27.4" text-anchor="middle">-0.1</text>
<text transform="translate(304.2 1611) scale(0.96 1)" font-size="27.4" text-anchor="middle">-0.05</text>
<text transform="translate(467.7 1611) scale(0.96 1)" font-size="27.4" text-anchor="middle">0</text>
<text transform="translate(631.2 1611) scale(0.96 1)" font-size="27.4" text-anchor="middle">0.05</text>
<text transform="translate(794.7 1611) scale(0.96 1)" font-size="27.4" text-anchor="middle">0.1</text>
<text transform="translate(32.5 1228.5) rotate(-90)" font-size="31.5" font-weight="bold" text-anchor="middle">Z</text>
<text x="484" y="1644" font-size="31.5" font-weight="bold" text-anchor="middle">X</text>
<text class="s" x="508" y="1716" text-anchor="middle"><tspan font-size="60">(</tspan><tspan font-size="55" font-weight="bold">b</tspan><tspan font-size="60">)</tspan></text>
<text class="s" x="883" y="1035" font-size="35.5" font-weight="bold" textLength="128.5" lengthAdjust="spacingAndGlyphs">Unit: Pa</text>
<rect x="896.8" y="1053" width="34.7" height="14.3" fill="#ff0000"/>
<rect x="896.8" y="1067.3" width="34.7" height="27.7" fill="#ff4400"/>
<rect x="896.8" y="1095" width="34.7" height="27.7" fill="#ff8800"/>
<rect x="896.8" y="1122.8" width="34.7" height="27.7" fill="#ffcc00"/>
<rect x="896.8" y="1150.5" width="34.7" height="27.7" fill="#eeff00"/>
<rect x="896.8" y="1178.3" width="34.7" height="27.7" fill="#aaff00"/>
<rect x="896.8" y="1206" width="34.7" height="27.7" fill="#66ff00"/>
<rect x="896.8" y="1233.7" width="34.7" height="27.7" fill="#22ff00"/>
<rect x="896.8" y="1261.5" width="34.7" height="27.7" fill="#00ff22"/>
<rect x="896.8" y="1289.2" width="34.7" height="27.7" fill="#00ff66"/>
<rect x="896.8" y="1317" width="34.7" height="27.7" fill="#00ffaa"/>
<rect x="896.8" y="1344.7" width="34.7" height="27.7" fill="#00ffee"/>
<rect x="896.8" y="1372.4" width="34.7" height="27.7" fill="#00ccff"/>
<rect x="896.8" y="1400.2" width="34.7" height="27.7" fill="#0088ff"/>
<rect x="896.8" y="1427.9" width="34.7" height="27.7" fill="#0044ff"/>
<rect x="896.8" y="1455.7" width="34.7" height="13.5" fill="#0000ff"/>
<path d="M896.8 1067.3H931.5M896.8 1095H931.5M896.8 1122.8H931.5M896.8 1150.5H931.5M896.8 1178.3H931.5M896.8 1206H931.5M896.8 1233.7H931.5M896.8 1261.5H931.5M896.8 1289.2H931.5M896.8 1317H931.5M896.8 1344.7H931.5M896.8 1372.4H931.5M896.8 1400.2H931.5M896.8 1427.9H931.5M896.8 1455.7H931.5" stroke="#000" stroke-width="1" fill="none"/>
<rect x="896.8" y="1053" width="34.7" height="416.2" fill="none" stroke="#000" stroke-width="1"/>
<text x="948.2" y="1079.5" font-size="23.8">60</text>
<text x="948.2" y="1107.2" font-size="23.8">55</text>
<text x="948.2" y="1135" font-size="23.8">50</text>
<text x="948.2" y="1162.7" font-size="23.8">45</text>
<text x="948.2" y="1190.5" font-size="23.8">40</text>
<text x="948.2" y="1218.2" font-size="23.8">35</text>
<text x="948.2" y="1245.9" font-size="23.8">30</text>
<text x="948.2" y="1273.7" font-size="23.8">25</text>
<text x="948.2" y="1301.4" font-size="23.8">20</text>
<text x="948.2" y="1329.2" font-size="23.8">15</text>
<text x="948.2" y="1356.9" font-size="23.8">10</text>
<text x="948.2" y="1384.6" font-size="23.8">5</text>
<text x="948.2" y="1412.4" font-size="23.8">0</text>
<text x="939.1" y="1440.1" font-size="23.8">-5</text>
<text x="939.1" y="1467.9" font-size="23.8">-10</text>
<defs><clipPath id="clip2"><rect x="104" y="1742.2" width="770.6" height="702.1"/></clipPath></defs>
<g clip-path="url(#clip2)">
<rect x="104" y="1742.2" width="770.6" height="702.1" fill="#0088ff"/>
<path d="M290 1903 L281 1896 L277.7 1882.6 L272.7 1859 L277.7 1839 L297.9 1815.5 L307.9 1792 L321.3 1771.9 L334.7 1755 L348.2 1741 L476.9 1741 L493.7 1758.5 L507 1775.2 L512 1795.4 L520.5 1818.8 L523.8 1842.3 L537.3 1862.4 L550.7 1885.9 L574.1 1906 L591 1922.8 L604.3 1936.2 L627.8 1953 L647.9 1973 L658 1989.9 L664.7 2010 L669.7 2025 L668 2055 L661.3 2085.4 L651.3 2102 L646.2 2125.6 L637.9 2145.7 L631 2159 L601 2160.8 L574.1 2159 L560.7 2140.7 L537.3 2135.7 L525 2128 L508.3 2118 L494.9 2101.2 L481.4 2077.7 L496 2071 L495.7 2070.3 L500 2056.1 L502.8 2041.6 L504 2026.8 L503.5 2012 L501.5 1997.3 L498 1982.9 L492.9 1969 L486.3 1955.7 L478.4 1943.2 L469.1 1931.6 L458.7 1921.1 L447.2 1911.7 L434.8 1903.7 L421.5 1897 L407.6 1891.8 L393.3 1888.1 L378.6 1886 L363.8 1885.4 L349 1886.5 L334.4 1889.1 L320.2 1893.3 L306.5 1899 L293.5 1906.1 L281.4 1914.6Z" fill="#0044ff"/>
<path d="M317 1893 L332 1876 L360 1866 L384 1859 L401 1864 L411 1857 L421 1866 L430 1876 L440 1881 L457 1883 L473 1899 L484 1923 L490 1940 L500 1963 L507 1990 L509 2025 L511 2040 L505 2050 L501.9 2047.1 L503.7 2032.8 L503.9 2018.4 L502.7 2004 L499.9 1989.9 L495.7 1976.1 L490.1 1962.8 L483.1 1950.2 L474.8 1938.4 L465.3 1927.5 L454.8 1917.6 L443.3 1909 L430.9 1901.5 L417.8 1895.4 L404.2 1890.7 L390.1 1887.5 L375.8 1885.7 L361.4 1885.5 L347 1886.7 L332.9 1889.5 L319.1 1893.7Z" fill="#0011ff"/>
<path d="M236 1975 L232.5 1973 L224 1990 L214 2006.6 L204 2013.3 L207.3 2025 L209 2045 L210.7 2075.3 L215.7 2098.8 L224 2122.2 L240.8 2142.4 L257.6 2159 L281 2176 L297.9 2189.3 L314.6 2186 L331.4 2196 L341.4 2189.3 L361.6 2182.6 L368.3 2172.5 L391.8 2169.2 L398.5 2159 L403.5 2152.4 L404 2140 L407 2125 L411 2114.6 L401 2104.6 L380.8 2097.9 L374.1 2082.8 L350.7 2076 L328.9 2067.7 L323.8 2045.9 L295.3 2040.8 L290.3 2056 L273.5 2052.6 L273.5 2029 L287 2025.8 L302 2032.5 L323.8 2037.5 L350.7 2034 L380.8 2032.5 L414.4 2037.5 L447.9 2042.5 L474.7 2049.2 L501.6 2052.6 L501 2051.9 L503.2 2038.2 L504 2024.3 L503.4 2010.5 L501.4 1996.7 L498.1 1983.3 L493.4 1970.2 L487.5 1957.7 L480.3 1945.9 L471.9 1934.8 L462.5 1924.6 L452.1 1915.5 L440.8 1907.4 L428.8 1900.5 L416.2 1894.8 L403 1890.4 L389.5 1887.4 L375.7 1885.7 L361.9 1885.5 L348.1 1886.6 L334.4 1889.1 L321.1 1893 L308.3 1898.2 L296 1904.6 L284.4 1912.3 L273.7 1921.1 L263.9 1930.9 L255.1 1941.6 L247.5 1953.2 L241.1 1965.5 L235.9 1978.3Z" fill="#00ccff"/>
<path d="M307 1910 L312 1920 L327.2 1940.2 L340.6 1963.7 L357.4 1983.8 L384.2 1997.2 L414.4 2005.6 L447.9 2015.7 L474.7 2017.4 L494.9 2014 L503.2 2012.3 L503.5 2011.2 L502.1 2000.2 L499.8 1989.3 L496.6 1978.6 L492.6 1968.3 L487.7 1958.2 L482.1 1948.7 L475.7 1939.6 L468.6 1931 L460.8 1923 L452.5 1915.7 L443.5 1909.1 L434.1 1903.3 L424.2 1898.2 L413.9 1893.9 L403.3 1890.5 L392.5 1887.9 L381.5 1886.3 L370.4 1885.5 L359.3 1885.6 L348.2 1886.6 L337.3 1888.5 L326.5 1891.2 L316 1894.9 L305.8 1899.3Z" fill="#00ffee"/>
<path d="M475.2 2274.8 L507 2249.7 L527.2 2226.2 L550.7 2216 L574.1 2222.9 L601 2226.2 L627.8 2226.2 L647.9 2222.9 L658 2229.6 L659.1 2231.9 L651.8 2243.3 L643.4 2253.9 L634 2263.6 L623.7 2272.3 L612.6 2280 L600.7 2286.6 L588.3 2292 L575.5 2296.1 L562.2 2299 L548.8 2300.5 L535.3 2300.7 L521.8 2299.6 L508.5 2297.2 L495.5 2293.5 L482.9 2288.5 L470.9 2282.3Z" fill="#00ccff"/>
<path d="M418.8 2237 L412 2270.6 L407 2297.4 L412 2337.7 L415.5 2377.9 L422.2 2404.7 L437.3 2418 L447.3 2438.3 L452.3 2443 L594.9 2443 L608.3 2428.2 L625 2411.5 L641.8 2394.7 L651.9 2371.2 L658.6 2351 L667 2327.6 L672 2304 L681.5 2293.3 L681.5 2233 L679.8 2199.4 L669.7 2199.4 L670.1 2207.9 L664.2 2222.2 L656.8 2235.8 L647.9 2248.5 L637.6 2260.1 L626.1 2270.5 L613.4 2279.5 L599.9 2287 L585.6 2293 L570.7 2297.3 L555.4 2299.9 L539.9 2300.8 L524.4 2299.9 L509.2 2297.3 L494.3 2293.1 L479.9 2287.1 L466.4 2279.6 L453.7 2270.6 L442.2 2260.3 L431.9 2248.7 L422.9 2236Z" fill="#0044ff"/>
<path d="M464 2284 L480.8 2304 L501 2317.6 L527.8 2322.6 L554.6 2317.6 L581.4 2307.5 L601.6 2294 L604.5 2284.7 L591 2290.9 L576.9 2295.7 L562.3 2298.9 L547.5 2300.6 L532.6 2300.6 L517.8 2299 L503.2 2295.9 L489.1 2291.1 L475.5 2284.9 L462.7 2277.2Z" fill="#0011ff"/>
<path class="sl" d="M104.5 1764.6C115.1 1764.2 147.1 1763.5 168.4 1762.3C189.7 1761.1 211 1758.9 232.2 1757.2C253.5 1755.5 274.8 1753.3 296.1 1752.1C317.4 1750.9 339.4 1749.7 360 1749.8C380.6 1749.9 402.7 1752.1 420 1752.8C437.3 1753.5 449.3 1753.6 464 1754C478.7 1754.4 493.3 1754.8 508 1755.2C522.7 1755.6 537.3 1755.9 552 1756.3C566.7 1756.7 581.3 1757.1 596 1757.5C610.7 1757.9 622.9 1758.7 640 1758.7C657.1 1758.7 679.2 1758.1 698.9 1757.8C718.5 1757.5 738.1 1757.2 757.8 1756.8C777.4 1756.5 797 1756.2 816.6 1755.9C836.2 1755.6 865.7 1755.2 875.5 1755M104.5 1782C115.1 1781.5 147.1 1780.7 168.4 1779.2C189.7 1777.8 211 1775.3 232.2 1773.3C253.5 1771.3 274.8 1768.8 296.1 1767.4C317.4 1765.9 339.4 1764.6 360 1764.6C380.6 1764.6 402.7 1766.7 420 1767.5C437.3 1768.3 449.3 1768.8 464 1769.4C478.7 1770 493.3 1770.6 508 1771.2C522.7 1771.8 537.3 1772.4 552 1772.9C566.7 1773.5 581.3 1774.1 596 1774.7C610.7 1775.3 622.9 1776.3 640 1776.4C657.1 1776.5 679.2 1775.8 698.9 1775.5C718.5 1775.2 738.1 1774.9 757.8 1774.6C777.4 1774.4 797 1774.1 816.6 1773.8C836.2 1773.5 865.7 1773.1 875.5 1773M104.5 1797C115.1 1796.6 147.1 1795.8 168.4 1794.6C189.7 1793.4 211 1791.3 232.2 1789.7C253.5 1788 274.8 1785.9 296.1 1784.7C317.4 1783.5 339.4 1782.7 360 1782.3C380.6 1781.9 402.7 1781.9 420 1782.3C437.3 1782.7 449.3 1784 464 1784.7C478.7 1785.5 493.3 1786.2 508 1786.9C522.7 1787.6 537.3 1788.3 552 1789C566.7 1789.7 581.3 1790.3 596 1791C610.7 1791.7 622.9 1792.7 640 1793C657.1 1793.3 679.2 1793 698.9 1793C718.5 1793 738.1 1793 757.8 1793C777.4 1793 797 1793 816.6 1793C836.2 1793 865.7 1793 875.5 1793M104.5 1815C115.1 1814.5 147.1 1813.5 168.4 1812C189.7 1810.5 211 1808 232.2 1806C253.5 1804 274.8 1801.5 296.1 1800C317.4 1798.5 339.4 1797 360 1797C380.6 1797 402.7 1799.1 420 1800C437.3 1800.9 449.3 1801.8 464 1802.6C478.7 1803.4 493.3 1804 508 1804.7C522.7 1805.5 537.3 1806.1 552 1806.8C566.7 1807.5 581.3 1808.1 596 1808.8C610.7 1809.4 622.9 1810.3 640 1810.7C657.1 1811.1 679.2 1811.1 698.9 1811.3C718.5 1811.6 738.1 1811.8 757.8 1812C777.4 1812.2 797 1812.4 816.6 1812.5C836.2 1812.7 865.7 1812.9 875.5 1813M104.5 1832.6C115.1 1832 147.1 1830.8 168.4 1829.1C189.7 1827.4 211 1824.6 232.2 1822.3C253.5 1820 274.8 1817.2 296.1 1815.5C317.4 1813.8 339.4 1812.1 360 1812C380.6 1811.9 402.7 1813.9 420 1814.9C437.3 1815.9 449.3 1816.9 464 1817.7C478.7 1818.6 493.3 1819.3 508 1820C522.7 1820.7 537.3 1821.4 552 1822.1C566.7 1822.8 581.3 1823.4 596 1824.1C610.7 1824.7 622.9 1825.3 640 1826C657.1 1826.7 679.2 1827.4 698.9 1828C718.5 1828.7 738.1 1829.3 757.8 1830C777.4 1830.6 797 1831.2 816.6 1831.7C836.2 1832.2 865.7 1832.8 875.5 1833M104.5 1847.4C115.1 1846.7 147.1 1845.3 168.4 1843.3C189.7 1841.3 211 1838.2 232.2 1835.6C253.5 1833 274.8 1829.9 296.1 1827.9C317.4 1825.9 339.4 1823.5 360 1823.8C380.6 1824.1 402.7 1828 420 1829.7C437.3 1831.4 449.3 1832.6 464 1833.8C478.7 1835 493.3 1836 508 1837C522.7 1838 537.3 1838.9 552 1839.8C566.7 1840.7 581.3 1841.6 596 1842.5C610.7 1843.3 622.9 1844 640 1845C657.1 1846 679.2 1847.2 698.9 1848.2C718.5 1849.3 738.1 1850.3 757.8 1851.2C777.4 1852.1 797 1853.1 816.6 1853.8C836.2 1854.6 865.7 1855.4 875.5 1855.7M104.5 1865C115.1 1864.1 147.1 1862.2 168.4 1859.8C189.7 1857.3 211 1853.5 232.2 1850.3C253.5 1847.1 274.8 1843.3 296.1 1840.8C317.4 1838.4 339.4 1835 360 1835.6C380.6 1836.2 402.7 1842.1 420 1844.5C437.3 1846.9 449.3 1848.5 464 1850.1C478.7 1851.7 493.3 1852.8 508 1854.1C522.7 1855.3 537.3 1856.5 552 1857.6C566.7 1858.8 581.3 1859.8 596 1860.9C610.7 1862 622.9 1862.8 640 1864C657.1 1865.2 679.2 1866.8 698.9 1868.1C718.5 1869.3 738.1 1870.6 757.8 1871.7C777.4 1872.9 797 1874 816.6 1874.9C836.2 1875.7 865.7 1876.6 875.5 1877M104.5 1883C115.1 1881.9 147.1 1879.5 168.4 1876.6C189.7 1873.6 211 1869 232.2 1865.2C253.5 1861.4 274.8 1856.8 296.1 1853.8C317.4 1850.9 339.4 1847 360 1847.4C380.6 1847.8 402.7 1853.2 420 1856.3C437.3 1859.4 449.3 1863.5 464 1866.2C478.7 1869 493.3 1870.8 508 1872.8C522.7 1874.9 537.3 1876.8 552 1878.6C566.7 1880.4 581.3 1882.2 596 1883.9C610.7 1885.6 622.9 1887.3 640 1888.8C657.1 1890.3 679.2 1891.7 698.9 1893C718.5 1894.3 738.1 1895.6 757.8 1896.8C777.4 1897.9 797 1899 816.6 1899.9C836.2 1900.7 865.7 1901.6 875.5 1901.9M104.5 1897.7C115.1 1896.4 147.1 1893.5 168.4 1890.1C189.7 1886.6 211 1881.4 232.2 1877C253.5 1872.6 274.8 1867.4 296.1 1863.9C317.4 1860.5 339.4 1856.1 360 1856.3C380.6 1856.5 402.7 1861 420 1865.2C437.3 1869.4 449.3 1877.2 464 1881.7C478.7 1886.1 493.3 1888.8 508 1891.9C522.7 1895.1 537.3 1897.9 552 1900.7C566.7 1903.5 581.3 1906.1 596 1908.7C610.7 1911.2 622.9 1913.8 640 1916C657.1 1918.2 679.2 1920.1 698.9 1921.9C718.5 1923.7 738.1 1925.5 757.8 1927.1C777.4 1928.6 797 1930.1 816.6 1931.2C836.2 1932.4 865.7 1933.4 875.5 1933.8M104.5 1915.5C115.1 1913.9 147.1 1910.1 168.4 1905.8C189.7 1901.5 211 1895.1 232.2 1889.8C253.5 1884.4 274.8 1878 296.1 1873.7C317.4 1869.4 339.4 1864.2 360 1864C380.6 1863.8 402.7 1867.1 420 1872.3C437.3 1877.5 449.3 1889.1 464 1895.1C478.7 1901.1 493.3 1904.4 508 1908.4C522.7 1912.5 537.3 1916.1 552 1919.6C566.7 1923.1 581.3 1926.3 596 1929.5C610.7 1932.7 622.9 1935.3 640 1938.6C657.1 1941.9 679.2 1945.8 698.9 1949.1C718.5 1952.3 738.1 1955.4 757.8 1958.1C777.4 1960.7 797 1963.3 816.6 1965.2C836.2 1967.1 865.7 1968.6 875.5 1969.3M104.5 1933C115.1 1931 147.1 1926.2 168.4 1920.9C189.7 1915.7 211 1908 232.2 1901.5C253.5 1895 274.8 1887.3 296.1 1882.1C317.4 1876.8 339.4 1870.6 360 1870C380.6 1869.4 402.7 1871.7 420 1878.2C437.3 1884.7 449.3 1901 464 1908.9C478.7 1916.8 493.3 1920.5 508 1925.6C522.7 1930.6 537.3 1935 552 1939.2C566.7 1943.5 581.3 1947.4 596 1951.3C610.7 1955.1 622.9 1958.2 640 1962.2C657.1 1966.2 679.2 1971.4 698.9 1975.4C718.5 1979.5 738.1 1983.3 757.8 1986.6C777.4 1989.9 797 1993 816.6 1995.3C836.2 1997.5 865.7 1999.2 875.5 2000M104.5 1948C115.1 1945.6 147.1 1939.9 168.4 1933.8C189.7 1927.7 211 1918.9 232.2 1911.5C253.5 1904.1 274.8 1895.3 296.1 1889.2C317.4 1883.1 339.4 1876 360 1875C380.6 1874 402.5 1875.6 420 1883C437.5 1890.4 450.2 1910 464.9 1919.3C479.5 1928.6 493.5 1933.1 508 1938.9C522.5 1944.7 537.3 1949.3 552 1954C566.7 1958.6 581.3 1962.9 596 1967C610.7 1971.2 622.9 1973.6 640 1978.8C657.1 1984 679.2 1992.4 698.9 1998.4C718.5 2004.3 738.1 2009.9 757.8 2014.6C777.4 2019.4 797 2023.8 816.6 2026.9C836.2 2030 865.7 2032.1 875.5 2033.2M104.5 1965.8C115.1 1962.9 147.1 1955.8 168.4 1948.5C189.7 1941.3 211 1931 232.2 1922.3C253.5 1913.6 274.8 1903.3 296.1 1896.1C317.4 1888.8 339.4 1880.3 360 1878.8C380.6 1877.3 401.5 1879.2 420 1887C438.5 1894.8 456.2 1914.4 470.9 1925.3C485.5 1936.2 494.5 1945.2 508 1952.5C521.5 1959.7 537.3 1963.8 552 1968.8C566.7 1973.9 581.3 1978.5 596 1982.9C610.7 1987.3 622.9 1989.7 640 1995.4C657.1 2001.1 679.2 2010.6 698.9 2017.2C718.5 2023.8 738.1 2029.9 757.8 2035C777.4 2040.1 797 2044.8 816.6 2048.1C836.2 2051.3 865.7 2053.4 875.5 2054.5M103 1749.8C112.3 1749.1 141.9 1746.9 159.2 1745.7C176.4 1744.4 198.6 1742.7 206.5 1742.1M520 1741C540 1741.8 600 1744.2 640 1746C680 1747.8 720.8 1750.3 760 1752C799.2 1753.7 856.2 1755.3 875.5 1756M464.7 1921.2C469.9 1925.2 478.7 1935.7 495.9 1945.5C513.1 1955.3 543.9 1970.5 567.9 1980C592 1989.5 618.2 1993.9 640 2002.5C661.8 2011.1 679.2 2023 698.9 2031.3C718.5 2039.7 738.1 2046.9 757.8 2052.6C777.4 2058.4 797 2063 816.6 2066.1C836.2 2069.1 865.7 2070.2 875.5 2071M480.9 1939.9C485.3 1944.6 492 1958.4 507.5 1968.2C523 1977.9 551.7 1990.3 573.7 1998.4C595.8 2006.5 619.1 2008.7 640 2016.7C660.9 2024.7 679.2 2037.9 698.9 2046.6C718.5 2055.3 738.1 2062.7 757.8 2068.7C777.4 2074.7 797 2079.4 816.6 2082.6C836.2 2085.8 865.7 2086.9 875.5 2087.7M493.6 1961C497.2 1966.3 501 1982.9 515 1992.5C529 2002.1 556.7 2012.1 577.5 2018.8C598.3 2025.6 619.8 2026 640 2033.2C660.2 2040.4 679.2 2053.7 698.9 2062.1C718.5 2070.5 738.1 2077.7 757.8 2083.5C777.4 2089.3 797 2093.9 816.6 2097C836.2 2100 865.7 2101.1 875.5 2101.9M502.5 1984.1C505.1 1989.7 505.4 2006.2 518.2 2017.8C530.9 2029.4 558.8 2046.4 579.1 2053.7C599.4 2061 620 2056 640 2061.6C660 2067.2 679.2 2080 698.9 2087.5C718.5 2095.1 738.1 2101.5 757.8 2106.7C777.4 2111.9 797 2116 816.6 2118.8C836.2 2121.5 865.7 2122.5 875.5 2123.2M507.2 2008.4C508.8 2014.2 505 2031.2 516.9 2043.2C528.8 2055.2 557.9 2072.8 578.4 2080.6C599 2088.4 619.9 2085.6 640 2090C660.1 2094.4 679.2 2102 698.9 2106.8C718.5 2111.7 738.1 2115.9 757.8 2119.3C777.4 2122.7 797 2125.3 816.6 2127.1C836.2 2128.9 865.7 2129.5 875.5 2130M508.3 2045C509.1 2048.2 510.9 2056.5 513 2064C515.1 2071.5 517.8 2080.3 521 2090C524.2 2099.7 526.8 2112.3 532 2122C537.2 2131.7 541.5 2141.2 552 2148C562.5 2154.8 578.7 2160 595 2163C611.3 2166 632.5 2166.5 650 2166C667.5 2165.5 681.7 2162.7 700 2160C718.3 2157.3 730.8 2153.8 760 2150C789.2 2146.2 856.2 2139.2 875.5 2137M506.5 2057.6C507.9 2061 512.2 2070.3 515 2078C517.8 2085.7 519.7 2094.6 523 2104C526.3 2113.4 529.5 2125.4 535 2134.7C540.5 2144 545.2 2152.8 556 2160C566.8 2167.2 584.3 2174.3 600 2178C615.7 2181.7 633.3 2182.3 650 2182C666.7 2181.7 681.7 2178.7 700 2176C718.3 2173.3 730.8 2169.7 760 2166C789.2 2162.3 856.2 2156 875.5 2154M503 2069C504.3 2072.5 508.4 2082.2 511 2090C513.5 2097.8 515.5 2106.5 518.3 2116C521.1 2125.5 523.5 2137.7 528 2147C532.5 2156.3 536.3 2164.8 545 2172C553.7 2179.2 565.8 2186.3 580 2190C594.2 2193.7 611.7 2194.3 630 2194C648.3 2193.7 665.8 2190.8 690 2188C714.2 2185.2 744.1 2180.5 775 2177C805.9 2173.5 858.8 2168.7 875.5 2167M500 2078C501.2 2081.7 504.7 2091.8 507 2100C509.3 2108.2 511 2117.3 514 2127C517 2136.7 519.8 2148.8 525 2158C530.2 2167.2 535 2175.5 545 2182C555 2188.5 570 2194 585 2197C600 2200 617.5 2200.5 635 2200C652.5 2199.5 666.7 2196.2 690 2194C713.3 2191.8 744.1 2189.2 775 2187C805.9 2184.8 858.8 2182 875.5 2181M640 2150C650 2148.8 678.3 2144.5 700 2143C721.7 2141.5 740.8 2140 770 2141C799.2 2142 857.9 2147.7 875.5 2149M640 2185C650 2182.5 678.3 2174.5 700 2170C721.7 2165.5 740.8 2159.9 770 2158C799.2 2156.1 857.9 2158.4 875.5 2158.5M103 2155C117.3 2156 159.7 2156.9 188.8 2160.9C217.9 2164.8 252.9 2171.7 277.5 2178.6C302.2 2185.5 318.9 2192.9 336.7 2202.3C354.4 2211.7 370.2 2223.5 384 2234.9C397.8 2246.2 407.7 2260.5 419.5 2270.4C431.4 2280.2 441.2 2287.3 455 2294C468.8 2300.7 486.6 2306.8 502.4 2310.6C518.1 2314.3 532.9 2316.5 549.7 2316.5C566.5 2316.5 586.2 2314.3 603 2310.6C619.7 2306.8 634.1 2299.7 650.3 2294C666.5 2288.3 683.2 2283.7 700 2276.3C716.8 2268.9 731 2259.5 751.4 2249.6C771.8 2239.8 801.7 2224.3 822.4 2217.1C843.1 2209.9 866.7 2208.2 875.6 2206.4M103 2173.5C108.9 2173.8 126.9 2174.7 138.8 2175.5C150.8 2176.3 162.7 2177 174.6 2178.4C186.5 2179.7 198.4 2181.5 210.2 2183.5C222 2185.6 233.7 2187.9 245.4 2190.5C257.1 2193.2 268.8 2195.9 280.2 2199.4C291.7 2202.9 303 2206.7 314.1 2211.4C325.1 2216 335.9 2221.2 346.3 2227.1C356.6 2233 366.7 2239.7 376.2 2246.8C385.7 2254 394.1 2262.5 403.3 2270C412.5 2277.5 421.4 2285.4 431.4 2291.7C441.5 2298 452.3 2303.3 463.4 2307.7C474.4 2312.1 486 2315.5 497.7 2318.1C509.3 2320.8 521.2 2322.8 533.1 2323.7C545 2324.6 557.1 2324.4 569 2323.5C580.9 2322.7 592.9 2321.1 604.5 2318.6C616.2 2316.1 627.4 2311.8 638.8 2308.4C650.2 2305 661.8 2301.8 673.1 2298.2C684.5 2294.6 695.9 2291 707 2286.6C718 2282.2 728.5 2276.4 739.4 2271.7C750.3 2266.9 761.3 2262.5 772.4 2258.1C783.4 2253.8 794.4 2249.2 805.6 2245.5C816.9 2241.8 828.4 2238.5 840.1 2236.1C851.7 2233.7 869.7 2232.1 875.6 2231.3M103 2192C108.9 2192.3 126.6 2193.4 138.4 2194.3C150.2 2195.2 162 2196 173.7 2197.4C185.5 2198.8 197.2 2200.6 208.8 2202.7C220.4 2204.8 232 2207.2 243.6 2209.8C255.1 2212.5 266.6 2215.3 277.9 2218.7C289.3 2222.1 300.5 2225.8 311.5 2230.2C322.4 2234.6 333.3 2239.5 343.7 2245C354.1 2250.5 364.2 2256.7 374 2263.3C383.7 2269.9 392.4 2277.8 402 2284.6C411.6 2291.3 421.1 2298 431.4 2303.6C441.6 2309.1 452.6 2313.8 463.6 2317.7C474.7 2321.6 486.3 2324.6 497.8 2326.9C509.4 2329.2 521.2 2330.9 532.9 2331.7C544.7 2332.5 556.6 2332.2 568.4 2331.4C580.2 2330.7 592 2329.3 603.6 2327.2C615.2 2325.1 626.4 2321.6 637.9 2318.8C649.3 2316 660.8 2313.4 672.2 2310.3C683.5 2307.3 695 2304.4 706.1 2300.6C717.2 2296.9 727.9 2291.8 738.9 2287.9C750 2284 761.1 2280.4 772.3 2276.9C783.5 2273.5 794.6 2270 805.9 2267.1C817.3 2264.3 828.8 2261.7 840.4 2259.9C852 2258 869.7 2256.8 875.6 2256.2M103 2210.4C108.8 2210.9 126.3 2212.1 137.9 2213.1C149.6 2214.1 161.2 2214.9 172.8 2216.4C184.4 2217.8 196 2219.7 207.4 2221.8C218.9 2224 230.4 2226.5 241.7 2229.1C253.1 2231.8 264.5 2234.7 275.7 2238C286.8 2241.3 298 2244.9 308.9 2249.1C319.8 2253.2 330.6 2257.7 341.1 2262.8C351.6 2268 361.8 2273.7 371.7 2279.7C381.6 2285.8 390.8 2293.1 400.7 2299.1C410.6 2305 420.7 2310.7 431.3 2315.4C441.8 2320.2 452.8 2324.3 463.9 2327.7C475 2331.1 486.5 2333.7 498 2335.7C509.4 2337.7 521.1 2339 532.8 2339.7C544.4 2340.3 556.2 2340 567.8 2339.3C579.5 2338.7 591.1 2337.5 602.7 2335.8C614.2 2334.2 625.5 2331.5 636.9 2329.2C648.4 2327 659.8 2324.9 671.2 2322.5C682.6 2320 694 2317.7 705.2 2314.6C716.5 2311.6 727.3 2307.3 738.5 2304.1C749.6 2301 760.9 2298.3 772.2 2295.8C783.5 2293.2 794.8 2290.8 806.2 2288.8C817.6 2286.8 829.1 2284.9 840.7 2283.6C852.3 2282.3 869.8 2281.4 875.6 2281M103 2228.9C117.3 2230.4 159.7 2232.9 188.8 2237.8C217.9 2242.7 250.9 2250.6 277.5 2258.5C304.1 2266.4 326.8 2275.3 348.5 2285.1C370.2 2295 388 2308.8 407.7 2317.7C427.4 2326.6 447.1 2333.5 466.9 2338.4C486.6 2343.3 506.3 2346 526 2347.3C545.8 2348.6 565.5 2347.6 585.2 2346.1C604.9 2344.6 625.2 2341.2 644.4 2338.4C663.5 2335.6 682.2 2333 700 2329.5C717.8 2326.1 731 2321.1 751.4 2317.7C771.8 2314.2 801.7 2310.8 822.4 2308.8C843.1 2306.8 866.7 2306.4 875.6 2305.9M103 2248.2C108.7 2248.7 125.9 2250.2 137.3 2251.4C148.7 2252.6 160.2 2253.6 171.6 2255.2C183 2256.8 194.3 2258.7 205.6 2260.9C216.9 2263.1 228.1 2265.7 239.3 2268.4C250.4 2271.1 261.6 2273.9 272.6 2277.1C283.7 2280.3 294.7 2283.7 305.5 2287.4C316.4 2291.2 327.2 2295.2 337.8 2299.5C348.4 2303.9 358.8 2308.7 369.2 2313.5C379.5 2318.4 389.4 2324.2 399.9 2328.8C410.3 2333.3 421.1 2337.4 432 2341C442.9 2344.5 454 2347.7 465.2 2350.2C476.3 2352.8 487.7 2354.8 499.1 2356.3C510.5 2357.8 522 2358.8 533.4 2359.3C544.9 2359.8 556.4 2359.6 567.9 2359.2C579.4 2358.8 590.9 2358 602.3 2357C613.8 2355.9 625.1 2354.4 636.5 2353C647.9 2351.7 659.4 2350.4 670.7 2348.8C682.1 2347.2 693.5 2345.6 704.8 2343.4C716.1 2341.2 727.1 2337.8 738.4 2335.6C749.7 2333.4 761.1 2331.9 772.5 2330.5C783.9 2329.1 795.3 2328.1 806.8 2327.1C818.2 2326.2 829.7 2325.3 841.2 2324.7C852.6 2324.1 869.9 2323.8 875.6 2323.6M103 2267.4C108.7 2268 125.7 2269.7 137.1 2270.9C148.5 2272.2 159.9 2273.4 171.2 2275C182.6 2276.7 193.8 2278.6 205.1 2280.9C216.3 2283.1 227.5 2285.6 238.6 2288.3C249.7 2291 260.8 2293.8 271.9 2296.9C282.9 2300 293.9 2303.3 304.7 2306.9C315.6 2310.5 326.4 2314.4 337.1 2318.4C347.8 2322.4 358.4 2326.6 368.9 2330.9C379.5 2335.1 389.7 2340 400.4 2343.9C411 2347.9 421.9 2351.5 432.8 2354.6C443.8 2357.7 454.9 2360.5 466.1 2362.7C477.3 2365 488.7 2366.7 500 2368.1C511.4 2369.5 522.8 2370.4 534.3 2370.9C545.7 2371.4 557.2 2371.4 568.6 2371.2C580 2370.9 591.5 2370.3 602.9 2369.5C614.3 2368.7 625.7 2367.5 637.1 2366.4C648.5 2365.3 659.9 2364.3 671.2 2362.9C682.6 2361.6 694 2360.3 705.2 2358.3C716.5 2356.2 727.5 2352.8 738.8 2350.9C750 2348.9 761.4 2347.6 772.8 2346.5C784.2 2345.3 795.6 2344.6 807 2343.8C818.4 2343.1 829.8 2342.4 841.3 2342C852.7 2341.6 869.9 2341.5 875.6 2341.4M103 2286.6C108.6 2287.3 125.6 2289.1 137 2290.5C148.3 2291.9 159.6 2293.1 170.9 2294.8C182.2 2296.5 193.4 2298.5 204.6 2300.8C215.8 2303 226.9 2305.6 238 2308.2C249.1 2310.9 260.1 2313.7 271.1 2316.7C282.1 2319.7 293.1 2322.9 303.9 2326.4C314.8 2329.8 325.6 2333.6 336.4 2337.2C347.2 2340.9 357.9 2344.6 368.6 2348.2C379.4 2351.9 390 2355.7 400.9 2359.1C411.7 2362.4 422.6 2365.5 433.7 2368.2C444.7 2370.9 455.9 2373.3 467.1 2375.3C478.3 2377.2 489.7 2378.7 501 2379.9C512.3 2381.2 523.7 2382.1 535.1 2382.6C546.5 2383.1 557.9 2383.2 569.3 2383.1C580.7 2383 592.1 2382.5 603.5 2382C614.9 2381.4 626.2 2380.6 637.6 2379.8C649 2379 660.3 2378.2 671.7 2377.1C683 2376 694.4 2374.9 705.6 2373.1C716.9 2371.2 727.9 2367.9 739.1 2366.1C750.4 2364.3 761.7 2363.3 773.1 2362.4C784.4 2361.5 795.8 2361 807.2 2360.5C818.6 2360 830 2359.6 841.4 2359.3C852.8 2359.1 869.9 2359.2 875.6 2359.1M103 2305.9C117.3 2307.8 159.7 2312.3 188.8 2317.7C217.9 2323.1 247.9 2330.5 277.5 2338.4C307.1 2346.3 336.7 2357.1 366.3 2365C395.9 2372.9 425.4 2380.8 455 2385.7C484.6 2390.7 514.2 2393.3 543.8 2394.6C573.4 2395.9 606.5 2394.4 632.5 2393.4C658.6 2392.4 680.2 2391 700 2388.7C719.8 2386.4 731 2381.8 751.4 2379.8C771.8 2377.9 801.7 2377.4 822.4 2376.9C843.1 2376.4 866.7 2376.9 875.6 2376.9M103 2325.6C108.6 2326.3 125.5 2328.4 136.7 2329.9C147.9 2331.5 159.2 2332.9 170.4 2334.7C181.6 2336.5 192.7 2338.5 203.8 2340.8C215 2343 226 2345.6 237 2348.2C248.1 2350.7 259.1 2353.4 270.1 2356.3C281.1 2359.1 292 2362 302.9 2365.1C313.8 2368.1 324.7 2371.5 335.6 2374.6C346.5 2377.6 357.4 2380.6 368.4 2383.3C379.4 2386 390.5 2388.5 401.5 2390.9C412.6 2393.3 423.7 2395.6 434.9 2397.6C446 2399.6 457.2 2401.3 468.5 2402.8C479.7 2404.2 491 2405.3 502.3 2406.3C513.6 2407.2 524.9 2408 536.2 2408.5C547.6 2409 558.9 2409.3 570.2 2409.3C581.6 2409.4 592.9 2409.1 604.2 2408.9C615.6 2408.6 626.9 2408.3 638.2 2407.8C649.6 2407.4 660.9 2406.9 672.2 2406.2C683.5 2405.4 694.9 2404.7 706.1 2403.5C717.4 2402.2 728.4 2399.9 739.7 2398.8C750.9 2397.6 762.3 2397 773.6 2396.6C784.9 2396.1 796.3 2396.1 807.6 2396.1C818.9 2396 830.3 2396 841.6 2396C852.9 2396.1 870 2396.5 875.6 2396.6M103 2345.3C108.6 2346.1 125.4 2348.3 136.6 2349.9C147.8 2351.4 159 2352.9 170.2 2354.8C181.4 2356.6 192.5 2358.6 203.6 2360.8C214.7 2363.1 225.7 2365.6 236.8 2368.1C247.8 2370.7 258.8 2373.3 269.8 2376C280.8 2378.7 291.8 2381.5 302.7 2384.3C313.7 2387.1 324.5 2390.3 335.5 2393.1C346.4 2395.9 357.4 2398.6 368.5 2401C379.5 2403.4 390.6 2405.6 401.7 2407.7C412.9 2409.7 424 2411.7 435.2 2413.3C446.4 2415 457.6 2416.5 468.8 2417.7C480.1 2419 491.4 2420 502.6 2420.8C513.9 2421.6 525.2 2422.3 536.5 2422.7C547.8 2423.2 559.2 2423.4 570.5 2423.5C581.8 2423.6 593.1 2423.4 604.4 2423.2C615.7 2423.1 627.1 2422.8 638.4 2422.5C649.7 2422.1 661 2421.6 672.3 2421C683.6 2420.5 694.9 2419.9 706.2 2419.1C717.4 2418.2 728.6 2416.8 739.9 2416.1C751.2 2415.4 762.5 2415 773.8 2414.8C785.1 2414.6 796.4 2414.8 807.7 2414.9C819.1 2415 830.4 2415.2 841.7 2415.4C853 2415.7 870 2416.2 875.6 2416.3M103 2365C117.3 2367.2 159.7 2372.6 188.8 2378C217.9 2383.5 247.9 2390.9 277.5 2397.6C307.1 2404.3 336.7 2412.7 366.3 2418.3C395.9 2423.9 425.4 2428.1 455 2431.3C484.6 2434.5 514.2 2436.2 543.8 2437.2C573.4 2438.2 606.5 2437.6 632.5 2437.2C658.6 2436.8 676.3 2435.5 700 2434.9C723.7 2434.2 745.8 2432.9 775 2433.1C804.3 2433.3 858.9 2435.5 875.6 2436M103 2384.3C106.5 2384.8 117.2 2386.3 124.3 2387.4C131.5 2388.5 138.6 2389.5 145.7 2390.7C152.8 2391.9 159.9 2393.1 166.9 2394.5C174 2395.9 181.1 2397.4 188.1 2398.9C195.1 2400.4 202.2 2401.9 209.2 2403.5C216.2 2405 223.3 2406.6 230.3 2408.1C237.3 2409.7 244.3 2411.4 251.3 2413C258.4 2414.5 265.4 2416 272.5 2417.3C279.6 2418.7 286.7 2419.9 293.8 2421C300.9 2422.2 308 2423.3 315.1 2424.3C322.3 2425.3 329.4 2426.2 336.5 2427C343.7 2427.8 350.8 2428.6 358 2429.3C365.1 2429.9 372.3 2430.5 379.5 2431.1C386.6 2431.6 393.8 2432.1 401 2432.4C408.1 2432.8 415.3 2433.1 422.5 2433.4C429.6 2433.7 436.8 2434 443.9 2434.2C451.1 2434.4 458.3 2434.5 465.4 2434.6C472.6 2434.7 479.7 2434.8 486.9 2435C494.1 2435.1 501.2 2435.2 508.4 2435.4C515.6 2435.6 522.7 2435.8 529.9 2436.2C537 2436.6 544.2 2437.1 551.4 2437.6C558.5 2438.1 565.7 2438.6 572.8 2439.1C580 2439.7 590.7 2440.5 594.3 2440.8M103 2403.5C117.3 2406 161.6 2413.1 188.8 2418.3C215.9 2423.5 245 2430.3 265.7 2434.9C286.4 2439.4 305.1 2443.7 313 2445.5M103 2424.2C117.3 2426.4 166.6 2433.7 188.8 2437.2C210.9 2440.8 228.2 2444.1 236.1 2445.5M336.7 2445.5C348.5 2444.7 383 2441.2 407.7 2440.8C432.3 2440.4 457 2442.3 484.6 2443.1C512.2 2443.9 558.6 2445.1 573.4 2445.5M103 2104.7C117.3 2105.2 159.7 2105.7 188.8 2107.6C217.9 2109.6 250.9 2113.6 277.5 2116.5C304.1 2119.5 328.3 2123.4 348.5 2125.4C368.7 2127.4 390.4 2127.9 398.8 2128.3M103 2122.4C117.3 2123.2 159.7 2124.7 188.8 2127.2C217.9 2129.6 250.9 2133.9 277.5 2137.2C304.1 2140.6 327.6 2144.3 348.5 2147.3C369.4 2150.2 393.9 2153.7 403 2155M103 2137.2C117.3 2138.2 159.7 2139.7 188.8 2143.1C217.9 2146.6 250.9 2151.5 277.5 2157.9C304.1 2164.3 328.8 2172.7 348.5 2181.6C368.2 2190.5 384.5 2201.8 395.9 2211.2C407.2 2220.6 413.1 2233.4 416.6 2237.8M104.5 2000.6C113.1 2000.3 139.2 2000.9 156.2 1998.9C173.2 1997 192.5 1992.8 206.5 1988.9C220.4 1985 229.1 1979.1 240 1975.5C250.9 1971.8 264.6 1967.9 271.9 1967.1C279.1 1966.2 280.5 1967.1 283.6 1970.4C286.7 1973.8 286.9 1981 290.3 1987.2C293.7 1993.3 298.1 2001.2 303.7 2007.3C309.3 2013.5 316.6 2018.5 323.8 2024.1C331.1 2029.7 338.9 2034.7 347.3 2040.8C355.7 2047 365.2 2053.7 374.1 2061C383.1 2068.2 392 2076.6 401 2084.4C409.9 2092.3 418.9 2099.5 427.8 2107.9C436.7 2116.3 446.8 2125.8 454.6 2134.7C462.4 2143.7 471.4 2157.1 474.7 2161.6M104.5 2019C115.9 2018.9 150.4 2018.6 172.9 2018C195.5 2017.5 223.2 2015 240 2015.7C256.8 2016.4 262.4 2018.8 273.5 2022.4C284.7 2026 295.9 2032.7 307.1 2037.5C318.2 2042.2 329.4 2045.9 340.6 2050.9C351.8 2055.9 364.1 2061.5 374.1 2067.7C384.2 2073.8 392 2080.5 401 2087.8C409.9 2095.1 418.9 2102.3 427.8 2111.3C436.7 2120.2 446.8 2131.9 454.6 2141.4C462.4 2151 468.6 2159.3 474.7 2168.3C480.9 2177.2 488.7 2190.6 491.5 2195.1M104.5 2036.5C115.9 2036.5 150.4 2036.3 172.9 2036.5C195.5 2036.7 220.4 2036.2 240 2037.5C259.6 2038.8 274.7 2040.8 290.3 2044.2C306 2047.6 321 2053.1 333.9 2057.6C346.8 2062.1 357.4 2066 367.4 2071C377.5 2076.1 385.3 2081.6 394.3 2087.8C403.2 2093.9 412.1 2100.1 421.1 2107.9C430 2115.7 440.1 2125.2 447.9 2134.7C455.7 2144.2 462.4 2155.4 468 2164.9C473.6 2174.4 479.2 2187.3 481.4 2191.8M104.5 2054.3C115.9 2054.4 150.4 2054.4 172.9 2054.9C195.5 2055.5 220.4 2056.6 240 2057.6C259.6 2058.6 273.5 2058.7 290.3 2061C307.1 2063.2 326.6 2067.7 340.6 2071C354.6 2074.4 364.1 2077.2 374.1 2081.1C384.2 2085 392 2088.9 401 2094.5C409.9 2100.1 419.4 2107.4 427.8 2114.6C436.2 2121.9 444.6 2129.7 451.3 2138.1C458 2146.5 465.2 2160.5 468 2164.9M104.5 2072C115.9 2072.1 150.4 2072 172.9 2072.4C195.5 2072.8 220.4 2073.5 240 2074.4C259.6 2075.3 273.5 2076.1 290.3 2077.7C307.1 2079.4 325.5 2081.6 340.6 2084.4C355.7 2087.2 369.7 2091.1 380.8 2094.5C392 2097.9 398.7 2100.1 407.7 2104.6C416.6 2109 426.7 2115.2 434.5 2121.3C442.3 2127.5 448.5 2133.6 454.6 2141.4C460.8 2149.3 468.6 2163.8 471.4 2168.3M104.5 2081.1C115.9 2081.1 150.4 2080.8 172.9 2081.1C195.5 2081.4 220.4 2081.6 240 2082.8C259.6 2083.9 273.5 2085.3 290.3 2087.8C307.1 2090.3 325.5 2094.8 340.6 2097.9C355.7 2100.9 370.2 2104 380.8 2106.2C391.5 2108.5 396.5 2107.1 404.3 2111.3C412.1 2115.5 420.5 2124.1 427.8 2131.4C435.1 2138.7 444.6 2151 447.9 2154.9M104.5 2089.8C115.9 2089.8 150.4 2089.7 172.9 2089.8C195.5 2089.9 220.4 2089.7 240 2090.5C259.6 2091.3 273.5 2092.6 290.3 2094.5C307.1 2096.4 323.8 2099.1 340.6 2101.9C357.4 2104.7 379.7 2109 390.9 2111.3C402.1 2113.5 404.9 2114.6 407.7 2115.3M104.5 2104.6C115.9 2104.8 150.4 2105.1 172.9 2106.2C195.5 2107.4 220.4 2109.9 240 2111.3C259.6 2112.7 273.5 2112.7 290.3 2114.6C307.1 2116.6 325 2120.2 340.6 2123C356.3 2125.8 374.6 2129.4 384.2 2131.4C393.8 2133.3 395.9 2134.2 398.3 2134.7M104.5 2122C115.9 2122.2 150.4 2122.4 172.9 2123C195.5 2123.6 219.3 2123.7 240 2125.4C260.7 2127 278.6 2129.9 297 2133.1C315.5 2136.2 332.8 2140.2 350.7 2144.1C368.5 2148.1 395.4 2154.8 404.3 2156.9M104.5 1983.5C113.8 1983.2 144.1 1982.9 160 1982C175.9 1981.1 187.8 1978.8 200 1978C212.2 1977.2 227.5 1977.2 233 1977M338.9 1905C337.5 1907.5 335 1914.8 330.5 1920.1C326.1 1925.4 316.8 1931.3 312.1 1936.9C307.3 1942.5 303.7 1947.5 302 1953.7C300.4 1959.8 300.6 1966.5 302 1973.8C303.4 1981 306.2 1989.4 310.4 1997.3C314.6 2005.1 320.5 2013.5 327.2 2020.7C333.9 2028 341.7 2034.1 350.7 2040.8C359.6 2047.6 371.3 2054.3 380.8 2061C390.3 2067.7 398.7 2074.4 407.7 2081.1C416.6 2087.8 425.6 2093.4 434.5 2101.2C443.4 2109 453.5 2119.1 461.3 2128C469.2 2137 474.7 2144.8 481.4 2154.9C488.2 2164.9 498.2 2182.8 501.6 2188.4M337.3 1910.1C335.9 1913.4 331.7 1924.6 328.9 1930.2C326.1 1935.8 322.2 1938.6 320.5 1943.6C318.8 1948.6 318.2 1954.2 318.8 1960.4C319.4 1966.5 320.8 1973.2 323.8 1980.5C326.9 1987.7 331.7 1996.1 337.3 2004C342.8 2011.8 349.5 2019.6 357.4 2027.4C365.2 2035.3 375.3 2043.1 384.2 2050.9C393.1 2058.7 402.1 2066.6 411 2074.4C420 2082.2 428.9 2089.5 437.9 2097.9C446.8 2106.2 456.3 2115.2 464.7 2124.7C473.1 2134.2 480.9 2144.2 488.2 2154.9C495.4 2165.5 504.9 2182.8 508.3 2188.4M387.6 1900C385.3 1901.7 379.2 1905.6 374.1 1910.1C369.1 1914.5 361.3 1920.7 357.4 1926.8C353.5 1933 351.5 1940.2 350.7 1946.9C349.8 1953.7 350.7 1959.2 352.3 1967.1C354 1974.9 357.1 1985 360.7 1993.9C364.4 2002.8 368.5 2011.8 374.1 2020.7C379.7 2029.7 387 2039.2 394.3 2047.6C401.5 2055.9 409.9 2063.2 417.7 2071C425.6 2078.9 432.8 2086.1 441.2 2094.5C449.6 2102.9 459.7 2111.8 468 2121.3C476.4 2130.8 484.2 2140.3 491.5 2151.5C498.8 2162.7 508.3 2182.2 511.6 2188.4M392.6 1910.1C390.6 1911.7 383.9 1915.6 380.8 1920.1C377.8 1924.6 374.7 1930.7 374.1 1936.9C373.6 1943 375.3 1949.2 377.5 1957C379.7 1964.8 384.2 1974.9 387.6 1983.8C390.9 1992.8 394.3 2002.3 397.6 2010.7C401 2019 403.2 2026.3 407.7 2034.1C412.1 2042 418.3 2049.2 424.4 2057.6C430.6 2066 437.9 2076.1 444.6 2084.4C451.3 2092.8 458.5 2099.5 464.7 2107.9C470.8 2116.3 475.3 2124.7 481.4 2134.7C487.6 2144.8 495.4 2159.3 501.6 2168.3C507.7 2177.2 515.5 2185 518.3 2188.4M390.9 1913.4C390.3 1915.6 387 1920.7 387.6 1926.8C388.1 1933 391.5 1941.9 394.3 1950.3C397.1 1958.7 401 1968.7 404.3 1977.1C407.7 1985.5 410.5 1992.2 414.4 2000.6C418.3 2009 423.9 2019 427.8 2027.4C431.7 2035.8 433.9 2043.1 437.9 2050.9C441.8 2058.7 446.2 2066 451.3 2074.4C456.3 2082.8 462.4 2091.7 468 2101.2C473.6 2110.7 478.7 2121.3 484.8 2131.4C491 2141.4 498.2 2152.1 504.9 2161.6C511.6 2171.1 521.7 2183.9 525 2188.4M402.6 1915.1C404 1918.7 408 1928.8 411 1936.9C414.1 1945 418.3 1954.8 421.1 1963.7C423.9 1972.7 425.6 1982.2 427.8 1990.5C430 1998.9 432.3 2006.2 434.5 2014C436.7 2021.8 438.4 2029.7 441.2 2037.5C444 2045.3 447.4 2052.6 451.3 2061C455.2 2069.3 460.2 2078.9 464.7 2087.8C469.2 2096.7 473.1 2105.1 478.1 2114.6C483.1 2124.1 488.7 2135.3 494.9 2144.8C501 2154.3 508.8 2164.4 515 2171.6C521.1 2178.9 529 2185.6 531.8 2188.4M419.4 1920.1C420.8 1925.2 425 1939.7 427.8 1950.3C430.6 1960.9 433.7 1973.2 436.2 1983.8C438.7 1994.5 440.6 2004.5 442.9 2014C445.1 2023.5 447.1 2031.9 449.6 2040.8C452.1 2049.8 454.6 2058.7 458 2067.7C461.3 2076.6 465.8 2086.1 469.7 2094.5C473.6 2102.9 476.7 2109.6 481.4 2118C486.2 2126.4 492.1 2135.9 498.2 2144.8C504.4 2153.7 512.2 2164.4 518.3 2171.6C524.5 2178.9 532.3 2185.6 535.1 2188.4M426.1 1923.5C427.5 1929.6 431.4 1947.5 434.5 1960.4C437.6 1973.2 441.2 1988.3 444.6 2000.6C447.9 2012.9 451.5 2024.1 454.6 2034.1C457.7 2044.2 459.7 2049.8 463 2061C466.4 2072.1 470.5 2090 474.7 2101.2C478.9 2112.4 482.6 2118 488.2 2128C493.7 2138.1 501.6 2151.5 508.3 2161.6C515 2171.6 525 2183.9 528.4 2188.4M429.8 1926.2C431.1 1931.9 434.9 1948 437.9 1960.4C440.8 1972.8 444.4 1988.3 447.6 2000.6C450.8 2012.9 454.2 2024.1 457 2034.1C459.8 2044.2 461.3 2049.8 464.3 2061C467.4 2072.1 471.4 2090 475.4 2101.2C479.4 2112.4 482.7 2118 488.2 2128C493.6 2138.1 501.6 2151.5 508.3 2161.6C515 2171.6 525 2183.9 528.4 2188.4M433.5 1928.8C434.8 1934.1 438.4 1948.4 441.2 1960.4C444.1 1972.3 447.6 1988.3 450.6 2000.6C453.6 2012.9 456.8 2024.1 459.3 2034.1C461.8 2044.2 462.9 2049.8 465.7 2061C468.5 2072.1 472.3 2090 476.1 2101.2C479.8 2112.4 482.8 2118 488.2 2128C493.5 2138.1 501.6 2151.5 508.3 2161.6C515 2171.6 525 2183.9 528.4 2188.4M437.2 1931.5C438.4 1936.3 441.8 1948.8 444.6 1960.4C447.3 1971.9 450.8 1988.3 453.6 2000.6C456.5 2012.9 459.4 2024.1 461.7 2034.1C463.9 2044.2 464.5 2049.8 467 2061C469.5 2072.1 473.2 2090 476.8 2101.2C480.3 2112.4 482.9 2118 488.2 2128C493.4 2138.1 501.6 2151.5 508.3 2161.6C515 2171.6 525 2183.9 528.4 2188.4M440.9 1934.2C442 1938.6 445.3 1949.3 447.9 1960.4C450.5 1971.4 454 1988.3 456.6 2000.6C459.3 2012.9 462.1 2024.1 464 2034.1C466 2044.2 466.1 2049.8 468.4 2061C470.6 2072.1 474.1 2090 477.4 2101.2C480.7 2112.4 483 2118 488.2 2128C493.3 2138.1 501.6 2151.5 508.3 2161.6C515 2171.6 525 2183.9 528.4 2188.4M444.6 1936.9C445.7 1940.8 448.8 1949.7 451.3 1960.4C453.8 1971 457.1 1988.3 459.7 2000.6C462.2 2012.9 464.7 2024.1 466.4 2034.1C468 2044.2 467.8 2049.8 469.7 2061C471.7 2072.1 475 2090 478.1 2101.2C481.2 2112.4 483.1 2118 488.2 2128C493.2 2138.1 501.6 2151.5 508.3 2161.6C515 2171.6 525 2183.9 528.4 2188.4M448.2 1939.6C449.3 1943 452.2 1950.2 454.6 1960.4C457 1970.5 460.3 1988.3 462.7 2000.6C465 2012.9 467.3 2024.1 468.7 2034.1C470.1 2044.2 469.4 2049.8 471.1 2061C472.7 2072.1 475.9 2090 478.8 2101.2C481.6 2112.4 483.2 2118 488.2 2128C493.1 2138.1 501.6 2151.5 508.3 2161.6C515 2171.6 525 2183.9 528.4 2188.4M451.9 1942.3C452.9 1945.3 455.7 1950.6 458 1960.4C460.3 1970.1 463.5 1988.3 465.7 2000.6C467.9 2012.9 469.9 2024.1 471.1 2034.1C472.2 2044.2 471 2049.8 472.4 2061C473.8 2072.1 476.8 2090 479.4 2101.2C482.1 2112.4 483.3 2118 488.2 2128C493 2138.1 501.6 2151.5 508.3 2161.6C515 2171.6 525 2183.9 528.4 2188.4M429.9 2018.3C435 2026.1 451.2 2049.6 460.1 2065.2C469.1 2080.9 475.8 2095.4 483.6 2112.2C491.4 2129 497.6 2151.3 507.1 2165.8C516.6 2180.4 526.6 2190.9 540.6 2199.4C554.6 2207.9 573 2215 590.9 2216.8C608.8 2218.6 638.4 2211.2 647.9 2210.1M440 2018.3C444.5 2026.1 458.4 2049.6 466.8 2065.2C475.2 2080.9 482.8 2096 490.3 2112.2C497.8 2128.4 503.2 2148.8 512.1 2162.5C521 2176.2 530.8 2186 544 2194.3C557.1 2202.7 573.3 2210.6 590.9 2212.8C608.5 2215 639.8 2208.6 649.6 2207.8M450.1 2018.3C454 2026.1 466 2050.2 473.5 2065.2C481.1 2080.3 487.8 2093.2 495.3 2108.8C502.9 2124.5 509.9 2145.4 518.8 2159.1C527.7 2172.8 536.7 2182.6 549 2191C561.3 2199.4 575.5 2206.9 592.6 2209.4C609.6 2212 641.5 2206.6 651.3 2206.1M419.9 2018.3C424.9 2026.1 441.1 2049.6 450.1 2065.2C459 2080.9 465.2 2094.9 473.5 2112.2C481.9 2129.5 489.7 2153.5 500.4 2169.2C511 2184.8 522.7 2197.4 537.3 2206.1C551.8 2214.7 570.2 2219.5 587.6 2221.2C604.9 2222.9 632.3 2217 641.2 2216.1M409.8 2025C414.8 2032.3 430.5 2052.9 440 2068.6C449.5 2084.2 457.9 2101.6 466.8 2118.9C475.8 2136.2 483 2156.9 493.7 2172.6C504.3 2188.2 517.1 2203.3 530.5 2212.8C544 2222.3 557.9 2227.3 574.1 2229.6C590.3 2231.8 618.9 2226.8 627.8 2226.2M399.8 2031.7C404.8 2039 420.4 2059.7 429.9 2075.3C439.4 2091 447.3 2108.3 456.8 2125.6C466.3 2142.9 475.8 2163.6 486.9 2179.3C498.1 2194.9 510.4 2209.4 523.8 2219.5C537.3 2229.6 552.3 2236.5 567.4 2239.6C582.5 2242.7 606.6 2238.2 614.4 2237.9M389.7 2038.4C395.3 2046.2 413.2 2069.2 423.2 2085.4C433.3 2101.6 441.1 2119.5 450.1 2135.7C459 2151.9 467.4 2168.6 476.9 2182.6C486.4 2196.6 497 2207.8 507.1 2219.5C517.1 2231.2 527.2 2243 537.3 2253C547.3 2263.1 558.8 2274 567.4 2279.9C576.1 2285.7 585.6 2286.8 589.2 2288.2M383 2045.1C388.6 2052.9 406.5 2075.9 416.5 2092.1C426.6 2108.3 434.4 2126.2 443.4 2142.4C452.3 2158.6 460.7 2175.3 470.2 2189.3C479.7 2203.3 490.3 2214.5 500.4 2226.2C510.4 2237.9 520.5 2250.2 530.5 2259.7C540.6 2269.2 551.2 2278.2 560.7 2283.2C570.2 2288.2 583.1 2288.8 587.6 2289.9M376.3 2051.8C381.9 2059.7 399.8 2082.6 409.8 2098.8C419.9 2115 427.7 2132.9 436.6 2149.1C445.6 2165.3 454.5 2182.1 463.5 2196C472.4 2210 481.4 2222.3 490.3 2232.9C499.2 2243.5 508.7 2251.9 517.1 2259.7C525.5 2267.6 534.5 2274.3 540.6 2279.9C546.8 2285.5 551.8 2291 554 2293.3M372.9 2061.9C378 2069.7 393.6 2092.6 403.1 2108.8C412.6 2125 421 2142.9 429.9 2159.1C438.9 2175.3 447.8 2192.7 456.8 2206.1C465.7 2219.5 475.8 2231.2 483.6 2239.6C491.4 2248 501.8 2248.6 503.7 2256.4C505.7 2264.2 496.7 2281.5 495.3 2286.6M440 2105.5C441.1 2114.4 443.9 2143.5 446.7 2159.1C449.5 2174.8 455.4 2187.1 456.8 2199.4C458.2 2211.7 457.3 2225.1 455.1 2232.9C452.9 2240.7 445.3 2244.1 443.4 2246.3M433.3 2108.8C434.4 2117.2 437.2 2144 440 2159.1C442.8 2174.2 448.5 2187.6 450.1 2199.4C451.6 2211.1 451.6 2222.3 449.4 2229.6C447.2 2236.8 438.8 2240.7 436.6 2243M419.9 2125.6C420.7 2132.3 422.7 2153 424.9 2165.8C427.1 2178.7 432.5 2191.6 433.3 2202.7C434.1 2213.9 433.3 2226.2 429.9 2232.9C426.6 2239.6 416 2241.3 413.2 2243M409.8 2132.3C410.4 2138.5 411.5 2156.9 413.2 2169.2C414.8 2181.5 419.3 2196 419.9 2206.1C420.4 2216.1 418.8 2224 416.5 2229.6C414.3 2235.1 408.1 2237.9 406.5 2239.6M403.1 2207.8 L458.4 2207.8"/>
<path class="ar" d="M134.7 1760.3L144.7 1763.3M134.9 1767.1L144.7 1763.3M325.9 1747.1L335.9 1750.2M326.2 1754L335.9 1750.2M517 1752L526.9 1755.7M516.8 1758.8L526.9 1755.7M704.4 1754.3L714.4 1757.5M704.5 1761.1L714.4 1757.5M182.5 1774.7L192.7 1777.2M183.1 1781.5L192.7 1777.2M372.2 1761.4L381.9 1765.2M371.9 1768.2L381.9 1765.2M561.1 1769.9L570.9 1773.7M560.8 1776.7L570.9 1773.7M750.9 1771.3L760.8 1774.6M751 1778.2L760.8 1774.6M228.2 1786.5L238.3 1789.2M228.7 1793.4L238.3 1789.2M420.7 1778.9L430.5 1782.7M420.4 1785.7L430.5 1782.7M610.4 1788.3L620.1 1792.3M610 1795.2L620.1 1792.3M800.5 1789.6L810.4 1793M800.5 1796.4L810.4 1793M276.8 1798.2L287 1800.7M277.4 1805L287 1800.7M466.8 1799.3L476.6 1803.2M466.5 1806.1L476.6 1803.2M657 1807.6L666.9 1811.1M657 1814.4L666.9 1811.1M845 1809.3L854.9 1812.8M844.9 1816.2L854.9 1812.8M164.3 1826L174.5 1828.6M164.8 1832.8L174.5 1828.6M353.2 1808.7L363.1 1812M353.2 1815.5L363.1 1812M542.2 1818.2L552 1822.1M541.9 1825L552 1822.1M732.4 1825.7L742.3 1829.5M732.2 1832.6L742.3 1829.5M209.8 1835L220.1 1837.1M210.7 1841.8L220.1 1837.1M399.7 1823.8L409.1 1828.5M398.8 1830.6L409.1 1828.5M589.4 1838.6L599.1 1842.6M589 1845.5L599.1 1842.6M779 1848.8L788.7 1852.6M778.7 1855.6L788.7 1852.6M255.4 1843.2L265.7 1845.1M256.4 1850L265.7 1845.1M445.4 1844.5L454.9 1849.1M444.6 1851.3L454.9 1849.1M635.9 1860.3L645.6 1864.4M635.4 1867.1L645.6 1864.4M823.8 1871.7L833.6 1875.5M823.6 1878.6L833.6 1875.5M145 1875.8L155.3 1878.2M145.8 1882.6L155.3 1878.2M331.8 1845.5L342 1848M332.5 1852.3L342 1848M520.6 1871.1L530 1875.8M519.7 1877.9L530 1875.8M707.8 1890.2L717.5 1894.3M707.3 1897L717.5 1894.3M191.4 1882.3L201.8 1883.5M192.8 1889L201.8 1883.5M378.8 1854.1L388.2 1858.8M377.9 1860.8L388.2 1858.8M561.7 1899.1L570.9 1904.2M560.5 1905.8L570.9 1904.2M751.2 1923.1L760.8 1927.3M750.7 1929.9L760.8 1927.3M233.9 1885.8L244.4 1886.6M235.7 1892.4L244.4 1886.6M424.4 1870.1L432.1 1877.2M421.7 1876.4L432.1 1877.2M602.1 1927.3L611.1 1932.7M600.7 1934L611.1 1932.7M791.7 1959L801.1 1963.6M790.9 1965.8L801.1 1963.6M279.8 1882.9L290.3 1883.5M281.7 1889.5L290.3 1883.5M460 1902.5L466.9 1910.4M456.6 1908.4L466.9 1910.4M639.1 1958.5L648 1964.1M637.6 1965.1L648 1964.1M827.6 1993L837.2 1997.2M827 1999.8L837.2 1997.2M169.5 1929.9L180 1930.2M171.5 1936.4L180 1930.2M353 1872.1L363.1 1874.9M353.4 1878.9L363.1 1874.9M523.1 1940.9L531.4 1947.3M520.9 1947.4L531.4 1947.3M705 1996.7L713.6 2002.8M703.1 2003.2L713.6 2002.8M213.4 1926.6L223.9 1925.8M216.1 1932.8L223.9 1925.8M396.7 1876.8L405.7 1882.2M395.3 1883.5L405.7 1882.2M558.3 1967.4L566.7 1973.8M556.2 1973.9L566.7 1973.8M740.3 2026.6L748.9 2032.6M738.4 2033.2L748.9 2032.6M194.6 1739.6L204.7 1742.2M195.1 1746.4L204.7 1742.2M573 1739.7L582.8 1743.5M572.7 1746.6L582.8 1743.5M763.1 1748.7L772.9 1752.5M762.9 1755.5L772.9 1752.5M516.1 1952.5L523.5 1960M513.1 1958.6L523.5 1960M699.9 2028L707.7 2035M697.2 2034.4L707.7 2035M560.1 1989.5L568.1 1996.3M557.6 1995.9L568.1 1996.3M746.4 2061.5L754.8 2067.8M744.3 2068L754.8 2067.8M601.3 2021L610.5 2026.1M600.1 2027.8L610.5 2026.1M790 2088.4L799 2093.8M788.5 2095.1L799 2093.8M637.1 2057.3L645.7 2063.4M635.2 2063.9L645.7 2063.4M827.6 2116.6L837.2 2120.9M827 2123.4L837.2 2120.9M669.9 2094.7L678.4 2101M667.9 2101.3L678.4 2101M864 2126.1L873.8 2129.9M863.7 2133L873.8 2129.9M531.1 2111.5L532 2122M524.9 2114.3L532 2122M686.3 2158.6L696.6 2160.5M687.3 2165.4L696.6 2160.5M863.6 2134.9L873.9 2137.2M864.4 2141.7L873.9 2137.2M554.2 2154.6L560.7 2162.9M550.5 2160.3L560.7 2162.9M727.2 2167.6L737.6 2169.3M728.4 2174.4L737.6 2169.3M522.4 2117.9L521.7 2128.3M515.8 2119.6L521.7 2128.3M659.6 2188.3L669.8 2190.5M660.4 2195.1L669.8 2190.5M838.7 2167.1L848.9 2169.6M839.3 2173.9L848.9 2169.6M532 2163.4L535.1 2173.4M526.5 2167.4L535.1 2173.4M695.8 2190L706 2192.5M696.4 2196.8L706 2192.5M701 2139.5L711.1 2142.2M701.5 2146.3L711.1 2142.2M729.2 2160.1L739.6 2161.6M730.4 2166.8L739.6 2161.6M134 2153.1L143.8 2157M133.7 2159.9L143.8 2157M321.7 2191L329.1 2198.4M318.7 2197.2L329.1 2198.4M475.8 2299L484.1 2305.5M473.6 2305.5L484.1 2305.5M657.1 2288.1L667.6 2288.2M659.2 2294.6L667.6 2288.2M829.5 2211.3L839.9 2212.3M831.1 2218L839.9 2212.3M194.5 2177.5L203.7 2182.4M193.4 2184.3L203.7 2182.4M375.5 2242.1L381.3 2250.8M371.4 2247.5L381.3 2250.8M539.5 2320.7L549.4 2324.3M539.4 2327.5L549.4 2324.3M720.1 2277L730.6 2275.7M723.1 2283.1L730.6 2275.7M256.7 2209.4L265.5 2215.2M255 2216.1L265.5 2215.2M424.5 2295.6L431.4 2303.6M421 2301.6L431.4 2303.6M605.7 2323.4L616.1 2324.5M607.2 2330L616.1 2324.5M786.2 2269.1L796.7 2269.6M788.1 2275.7L796.7 2269.6M157 2211.2L166.5 2215.6M156.3 2218L166.5 2215.6M342.3 2259.6L349.6 2267.2M339.2 2265.7L349.6 2267.2M513.7 2334.6L523.2 2339M513 2341.4L523.2 2339M700.8 2312.3L711.3 2312.8M702.7 2318.8L711.3 2312.8M219 2240.2L228 2245.6M217.5 2246.8L228 2245.6M395.2 2307.5L402.4 2315.2M392 2313.5L402.4 2315.2M578.2 2343.2L588.3 2345.8M578.7 2350L588.3 2345.8M765 2312.1L775.3 2314.2M765.9 2318.9L775.3 2314.2M279.1 2275.4L287.6 2281.6M277.2 2282L287.6 2281.6M453.3 2343.8L462.1 2349.5M451.6 2350.4L462.1 2349.5M641.8 2349L652.1 2351.2M642.6 2355.7L652.1 2351.2M831 2321.9L841.2 2324.7M831.4 2328.7L841.2 2324.7M180.5 2273L189.7 2278M179.4 2279.7L189.7 2278M363.9 2325.2L371.8 2332.1M361.3 2331.5L371.8 2332.1M546.2 2367.9L556.1 2371.3M546.2 2374.7L556.1 2371.3M734.5 2348.2L744.9 2349.9M735.7 2354.9L744.9 2349.9M241.2 2305.5L250.1 2311.2M239.6 2312.1L250.1 2311.2M422 2361.7L430.7 2367.5M420.2 2368.3L430.7 2367.5M608.9 2378.3L619 2381.1M609.3 2385.1L619 2381.1M797.2 2357.5L807.2 2360.5M797.5 2364.4L807.2 2360.5M141.4 2307.2L150.8 2311.8M140.5 2314L150.8 2311.8M328.2 2350.1L336.7 2356.4M326.2 2356.7L336.7 2356.4M512.7 2389.3L522.4 2393.4M512.2 2396.1L522.4 2393.4M702.4 2385L712.8 2386.8M703.5 2391.7L712.8 2386.8M203.9 2337.3L212.9 2342.7M202.5 2344L212.9 2342.7M386.6 2384.1L395.5 2389.6M385.1 2390.8L395.5 2389.6M575.7 2405.9L585.7 2409.2M575.8 2412.7L585.7 2409.2M763.5 2393.6L773.6 2396.6M763.8 2400.4L773.6 2396.6M264 2371.1L272.8 2376.7M262.3 2377.7L272.8 2376.7M447.2 2411.6L456.6 2416.3M446.3 2418.4L456.6 2416.3M637.6 2419.1L647.6 2422.1M637.8 2425.9L647.6 2422.1M825.6 2411.7L835.5 2415.3M825.5 2418.6L835.5 2415.3M166.3 2370.8L175.6 2375.7M165.2 2377.5L175.6 2375.7M351.3 2411.7L360.4 2417.1M349.9 2418.4L360.4 2417.1M540.1 2433.7L550 2437.4M539.9 2440.5L550 2437.4M729.8 2430.4L739.8 2433.5M730 2437.2L739.8 2433.5M224.4 2403.3L233.3 2408.8M222.9 2410L233.3 2408.8M412.7 2429.6L422.5 2433.4M412.4 2436.4L422.5 2433.4M285.2 2435.7L294.2 2441.2M283.7 2442.4L294.2 2441.2M187.6 2433.6L196.8 2438.5M186.5 2440.3L196.8 2438.5M387.5 2438.2L397.6 2441.1M387.9 2445L397.6 2441.1M213.4 2106.2L223 2110.6M212.8 2113L223 2110.6M194.5 2124.2L204.1 2128.6M193.9 2131L204.1 2128.6M382.9 2148.7L392.2 2153.5M381.9 2155.5L392.2 2153.5M204.1 2141.6L213.5 2146.3M203.2 2148.4L213.5 2146.3M386 2199.3L391.9 2208M381.9 2204.7L391.9 2208M155 1995.6L165.3 1997.7M156 2002.4L165.3 1997.7M302 1999.8L305.9 2009.6M296.8 2004.3L305.9 2009.6M432.1 2107.3L437 2116.6M427.4 2112.3L437 2116.6M192 2013.8L202.1 2016.7M192.4 2020.7L202.1 2016.7M356.1 2054.2L363.5 2061.7M353 2060.4L363.5 2061.7M480 2170.1L482.5 2180.3M474.3 2173.8L482.5 2180.3M230.3 2033.6L240 2037.5M229.9 2040.4L240 2037.5M392.9 2082.7L399.1 2091.2M389 2088.3L399.1 2091.2M268.5 2055.5L278.1 2059.6M268 2062.3L278.1 2059.6M427.1 2109.5L432.4 2118.6M422.6 2114.7L432.4 2118.6M185.1 2069.2L194.9 2072.8M184.9 2076L194.9 2072.8M354.9 2084L363.7 2089.7M353.3 2090.6L363.7 2089.7M221.9 2078.6L231.7 2082.4M221.7 2085.4L231.7 2082.4M389.6 2104L398.8 2109M388.5 2110.8L398.8 2109M259.6 2088.1L269.2 2092.3M259 2094.9L269.2 2092.3M175.7 2103L185.4 2107M175.3 2109.8L185.4 2107M345.3 2120.4L354.4 2125.5M344 2127.1L354.4 2125.5M212.7 2120.5L222.5 2124.3M212.4 2127.3L222.5 2124.3M381.6 2147.9L390.4 2153.5M380 2154.5L390.4 2153.5M175.6 1977.2L185.8 1979.4M176.4 1984L185.8 1979.4M305.5 1953.8L300.9 1963.3M298.7 1953L300.9 1963.3M389.8 2063.2L395.7 2071.9M385.7 2068.7L395.7 2071.9M494.8 2170L496.9 2180.3M488.9 2173.5L496.9 2180.3M333 1991.1L335.4 2001.3M327.2 1994.8L335.4 2001.3M439.8 2095L444.6 2104.2M435.1 2099.9L444.6 2104.2M367.7 2001.4L369 2011.8M361.5 2004.4L369 2011.8M463.8 2111.7L468 2121.3M458.8 2116.4L468 2121.3M417.1 2042.2L420.4 2052.2M411.6 2046.3L420.4 2052.2M503.3 2164.7L506.4 2174.7M497.8 2168.7L506.4 2174.7M416 1996L417.2 2006.4M409.8 1998.9L417.2 2006.4M485.7 2126.2L488 2136.5M479.9 2129.8L488 2136.5M440.7 2024.1L440.2 2034.6M434.1 2026L440.2 2034.6M508 2157.5L511.5 2167.4M502.6 2161.7L511.5 2167.4M458.9 2060.2L459.1 2070.7M452.5 2062.5L459.1 2070.7M504.3 2149L506.7 2159.2M498.5 2152.6L506.7 2159.2M511.4 2160L514.3 2170.1M505.8 2164L514.3 2170.1M519.2 2170.9L522.6 2180.9M513.8 2175.1L522.6 2180.9M475.7 2087.5L476.9 2097.9M469.5 2090.4L476.9 2097.9M575.6 2210.6L584.6 2216M574.2 2217.2L584.6 2216M495.7 2115.9L496.2 2126.4M489.4 2118.5L496.2 2126.4M614.7 2208.9L624.9 2211.2M615.5 2215.7L624.9 2211.2M515.6 2146.4L517.3 2156.8M509.6 2149.7L517.3 2156.8M504.9 2169.7L508.1 2179.7M499.4 2173.8L508.1 2179.7M468.2 2114.1L469.6 2124.5M462.1 2117.1L469.6 2124.5M577.3 2226.5L587.2 2230.1M577.2 2233.3L587.2 2230.1M472.5 2148.2L474.2 2158.6M466.5 2151.5L474.2 2158.6M597.7 2236.2L607.9 2238.5M598.5 2243L607.9 2238.5M479.7 2180.6L482.7 2190.7M474.1 2184.6L482.7 2190.7M439 2126.8L440.6 2137.2M433 2130L440.6 2137.2M538 2262L543.3 2271.1M533.5 2267.2L543.3 2271.1M446.8 2160.4L448.6 2170.7M440.8 2163.7L448.6 2170.7M456.1 2198.8L458.7 2208.9M450.4 2202.5L458.7 2208.9"/>
<path d="M235.9 1978.3A137.8 137.8 0 1 1 495.7 2070.3M410.3 2115.9A137.8 137.8 0 1 0 670.1 2207.9" fill="none" stroke="#fff" stroke-width="6"/>
<path d="M588 2214 Q 610 2219 650 2207" fill="none" stroke="#000" stroke-width="3.5"/>
<ellipse cx="455" cy="2013" rx="4" ry="3" fill="#000"/>
</g>
<rect x="99.8" y="1742.2" width="4.2" height="706.1" fill="#000"/>
<rect x="99.8" y="2444.3" width="774.8" height="4" fill="#000"/>
<rect x="104" y="1740.1" width="15.4" height="4" fill="#000"/>
<rect x="104" y="1759.2" width="8.5" height="1" fill="#000"/>
<rect x="104" y="1776.8" width="8.5" height="1" fill="#000"/>
<rect x="104" y="1794.3" width="8.5" height="1" fill="#000"/>
<rect x="104" y="1810.4" width="15.4" height="4" fill="#000"/>
<rect x="104" y="1829.4" width="8.5" height="1" fill="#000"/>
<rect x="104" y="1847" width="8.5" height="1" fill="#000"/>
<rect x="104" y="1864.5" width="8.5" height="1" fill="#000"/>
<rect x="104" y="1880.6" width="15.4" height="4" fill="#000"/>
<rect x="104" y="1899.6" width="8.5" height="1" fill="#000"/>
<rect x="104" y="1917.2" width="8.5" height="1" fill="#000"/>
<rect x="104" y="1934.7" width="8.5" height="1" fill="#000"/>
<rect x="104" y="1950.8" width="15.4" height="4" fill="#000"/>
<rect x="104" y="1969.8" width="8.5" height="1" fill="#000"/>
<rect x="104" y="1987.4" width="8.5" height="1" fill="#000"/>
<rect x="104" y="2004.9" width="8.5" height="1" fill="#000"/>
<rect x="104" y="2021" width="15.4" height="4" fill="#000"/>
<rect x="104" y="2040" width="8.5" height="1" fill="#000"/>
<rect x="104" y="2057.6" width="8.5" height="1" fill="#000"/>
<rect x="104" y="2075.1" width="8.5" height="1" fill="#000"/>
<rect x="104" y="2091.2" width="15.4" height="4" fill="#000"/>
<rect x="104" y="2110.3" width="8.5" height="1" fill="#000"/>
<rect x="104" y="2127.8" width="8.5" height="1" fill="#000"/>
<rect x="104" y="2145.4" width="8.5" height="1" fill="#000"/>
<rect x="104" y="2161.4" width="15.4" height="4" fill="#000"/>
<rect x="104" y="2180.5" width="8.5" height="1" fill="#000"/>
<rect x="104" y="2198" width="8.5" height="1" fill="#000"/>
<rect x="104" y="2215.6" width="8.5" height="1" fill="#000"/>
<rect x="104" y="2231.6" width="15.4" height="4" fill="#000"/>
<rect x="104" y="2250.7" width="8.5" height="1" fill="#000"/>
<rect x="104" y="2268.2" width="8.5" height="1" fill="#000"/>
<rect x="104" y="2285.8" width="8.5" height="1" fill="#000"/>
<rect x="104" y="2301.8" width="15.4" height="4" fill="#000"/>
<rect x="104" y="2320.9" width="8.5" height="1" fill="#000"/>
<rect x="104" y="2338.4" width="8.5" height="1" fill="#000"/>
<rect x="104" y="2356" width="8.5" height="1" fill="#000"/>
<rect x="104" y="2372" width="15.4" height="4" fill="#000"/>
<rect x="104" y="2391.1" width="8.5" height="1" fill="#000"/>
<rect x="104" y="2408.6" width="8.5" height="1" fill="#000"/>
<rect x="104" y="2426.2" width="8.5" height="1" fill="#000"/>
<rect x="104" y="2442.2" width="15.4" height="4" fill="#000"/>
<rect x="135.2" y="2437.3" width="1" height="7" fill="#000"/>
<rect x="170.4" y="2437.3" width="1" height="7" fill="#000"/>
<rect x="205.7" y="2437.3" width="1" height="7" fill="#000"/>
<rect x="240.9" y="2437.3" width="1" height="7" fill="#000"/>
<rect x="275.1" y="2429.9" width="3.2" height="14.4" fill="#000"/>
<rect x="311.5" y="2437.3" width="1" height="7" fill="#000"/>
<rect x="346.7" y="2437.3" width="1" height="7" fill="#000"/>
<rect x="382" y="2437.3" width="1" height="7" fill="#000"/>
<rect x="417.2" y="2437.3" width="1" height="7" fill="#000"/>
<rect x="451.4" y="2429.9" width="3.2" height="14.4" fill="#000"/>
<rect x="487.8" y="2437.3" width="1" height="7" fill="#000"/>
<rect x="523" y="2437.3" width="1" height="7" fill="#000"/>
<rect x="558.3" y="2437.3" width="1" height="7" fill="#000"/>
<rect x="593.5" y="2437.3" width="1" height="7" fill="#000"/>
<rect x="627.7" y="2429.9" width="3.2" height="14.4" fill="#000"/>
<rect x="664.1" y="2437.3" width="1" height="7" fill="#000"/>
<rect x="699.3" y="2437.3" width="1" height="7" fill="#000"/>
<rect x="734.6" y="2437.3" width="1" height="7" fill="#000"/>
<rect x="769.8" y="2437.3" width="1" height="7" fill="#000"/>
<rect x="804" y="2429.9" width="3.2" height="14.4" fill="#000"/>
<rect x="840.4" y="2437.3" width="1" height="7" fill="#000"/>
<text transform="translate(90 1750.7) scale(0.96 1)" font-size="27.4" text-anchor="end">-0.1</text>
<text transform="translate(90 1822.2) scale(0.96 1)" font-size="27.4" text-anchor="end">-0.08</text>
<text transform="translate(90 1892.4) scale(0.96 1)" font-size="27.4" text-anchor="end">-0.06</text>
<text transform="translate(90 1962.6) scale(0.96 1)" font-size="27.4" text-anchor="end">-0.04</text>
<text transform="translate(90 2032.8) scale(0.96 1)" font-size="27.4" text-anchor="end">-0.02</text>
<text transform="translate(90 2103) scale(0.96 1)" font-size="27.4" text-anchor="end">0</text>
<text transform="translate(90 2173.2) scale(0.96 1)" font-size="27.4" text-anchor="end">0.02</text>
<text transform="translate(90 2243.4) scale(0.96 1)" font-size="27.4" text-anchor="end">0.04</text>
<text transform="translate(90 2313.6) scale(0.96 1)" font-size="27.4" text-anchor="end">0.06</text>
<text transform="translate(90 2383.8) scale(0.96 1)" font-size="27.4" text-anchor="end">0.08</text>
<text transform="translate(90 2455.6) scale(0.96 1)" font-size="27.4" text-anchor="end">0.1</text>
<text transform="translate(100.4 2474) scale(0.96 1)" font-size="27.4" text-anchor="middle">-0.1</text>
<text transform="translate(276.7 2474) scale(0.96 1)" font-size="27.4" text-anchor="middle">-0.05</text>
<text transform="translate(453 2474) scale(0.96 1)" font-size="27.4" text-anchor="middle">0</text>
<text transform="translate(629.3 2474) scale(0.96 1)" font-size="27.4" text-anchor="middle">0.05</text>
<text transform="translate(805.6 2474) scale(0.96 1)" font-size="27.4" text-anchor="middle">0.1</text>
<text transform="translate(40.2 2095) rotate(-90)" font-size="31.5" font-weight="bold" text-anchor="middle">Z</text>
<text x="487" y="2506" font-size="31.5" font-weight="bold" text-anchor="middle">X</text>
<text class="s" x="506" y="2580" text-anchor="middle"><tspan font-size="60">(</tspan><tspan font-size="55" font-weight="bold">c</tspan><tspan font-size="60">)</tspan></text>
<rect x="874" y="1894.5" width="135" height="32.5" fill="#fff"/>
<text class="s" x="877.5" y="1921.8" font-size="35.5" font-weight="bold" textLength="126.7" lengthAdjust="spacingAndGlyphs">Unit: Pa</text>
<rect x="899.5" y="1932.3" width="32.9" height="13.4" fill="#ff0000"/>
<rect x="899.5" y="1945.7" width="32.9" height="27.5" fill="#ff4400"/>
<rect x="899.5" y="1973.2" width="32.9" height="27.5" fill="#ff8800"/>
<rect x="899.5" y="2000.7" width="32.9" height="27.5" fill="#ffcc00"/>
<rect x="899.5" y="2028.1" width="32.9" height="27.5" fill="#eeff00"/>
<rect x="899.5" y="2055.6" width="32.9" height="27.5" fill="#aaff00"/>
<rect x="899.5" y="2083.1" width="32.9" height="27.5" fill="#66ff00"/>
<rect x="899.5" y="2110.6" width="32.9" height="27.5" fill="#22ff00"/>
<rect x="899.5" y="2138.1" width="32.9" height="27.5" fill="#00ff22"/>
<rect x="899.5" y="2165.5" width="32.9" height="27.5" fill="#00ff66"/>
<rect x="899.5" y="2193" width="32.9" height="27.5" fill="#00ffaa"/>
<rect x="899.5" y="2220.5" width="32.9" height="27.5" fill="#00ffee"/>
<rect x="899.5" y="2248" width="32.9" height="27.5" fill="#00ccff"/>
<rect x="899.5" y="2275.5" width="32.9" height="27.5" fill="#0088ff"/>
<rect x="899.5" y="2302.9" width="32.9" height="27.5" fill="#0044ff"/>
<rect x="899.5" y="2330.4" width="32.9" height="13.6" fill="#0000ff"/>
<path d="M899.5 1945.7H932.4M899.5 1973.2H932.4M899.5 2000.7H932.4M899.5 2028.1H932.4M899.5 2055.6H932.4M899.5 2083.1H932.4M899.5 2110.6H932.4M899.5 2138.1H932.4M899.5 2165.5H932.4M899.5 2193H932.4M899.5 2220.5H932.4M899.5 2248H932.4M899.5 2275.5H932.4M899.5 2302.9H932.4M899.5 2330.4H932.4" stroke="#000" stroke-width="1" fill="none"/>
<rect x="899.5" y="1932.3" width="32.9" height="411.7" fill="none" stroke="#000" stroke-width="1"/>
<text x="950.2" y="1957.5" font-size="23.8">60</text>
<text x="950.2" y="1985" font-size="23.8">55</text>
<text x="950.2" y="2012.5" font-size="23.8">50</text>
<text x="950.2" y="2039.9" font-size="23.8">45</text>
<text x="950.2" y="2067.4" font-size="23.8">40</text>
<text x="950.2" y="2094.9" font-size="23.8">35</text>
<text x="950.2" y="2122.4" font-size="23.8">30</text>
<text x="950.2" y="2149.9" font-size="23.8">25</text>
<text x="950.2" y="2177.3" font-size="23.8">20</text>
<text x="950.2" y="2204.8" font-size="23.8">15</text>
<text x="950.2" y="2232.3" font-size="23.8">10</text>
<text x="950.2" y="2259.8" font-size="23.8">5</text>
<text x="950.2" y="2287.3" font-size="23.8">0</text>
<text x="941.1" y="2314.7" font-size="23.8">-5</text>
<text x="941.1" y="2342.2" font-size="23.8">-10</text>
</svg>
</body></html>
